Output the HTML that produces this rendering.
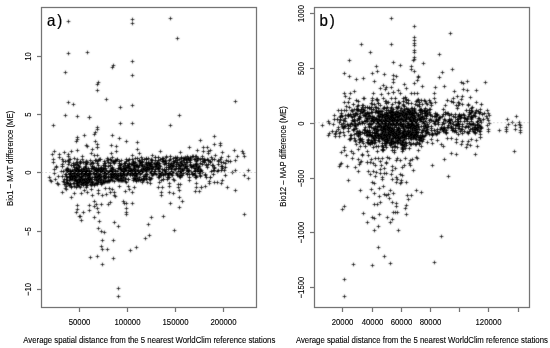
<!DOCTYPE html>
<html><head><meta charset="utf-8"><style>html,body{margin:0;padding:0;background:#fff;width:550px;height:348px;overflow:hidden}svg{display:block}</style></head>
<body><svg width="550" height="348" viewBox="0 0 550 348" font-family='"Liberation Sans", Arial, sans-serif' fill="#000"><rect x="41.5" y="7.5" width="215.0" height="300.0" fill="none" stroke="#747474" stroke-width="1.25"/>
<rect x="314.5" y="7.5" width="215.0" height="300.0" fill="none" stroke="#747474" stroke-width="1.25"/>
<line x1="37" y1="56.5" x2="41.5" y2="56.5" stroke="#747474" stroke-width="1.25"/>
<text transform="translate(31 56.5) rotate(-90) scale(1 1.15)" text-anchor="middle" font-size="7.8" stroke="#000" stroke-width="0.1">10</text>
<line x1="37" y1="114.5" x2="41.5" y2="114.5" stroke="#747474" stroke-width="1.25"/>
<text transform="translate(31 114.5) rotate(-90) scale(1 1.15)" text-anchor="middle" font-size="7.8" stroke="#000" stroke-width="0.1">5</text>
<line x1="37" y1="172.5" x2="41.5" y2="172.5" stroke="#747474" stroke-width="1.25"/>
<text transform="translate(31 172.5) rotate(-90) scale(1 1.15)" text-anchor="middle" font-size="7.8" stroke="#000" stroke-width="0.1">0</text>
<line x1="37" y1="231.5" x2="41.5" y2="231.5" stroke="#747474" stroke-width="1.25"/>
<text transform="translate(31 231.5) rotate(-90) scale(1 1.15)" text-anchor="middle" font-size="7.8" stroke="#000" stroke-width="0.1">−5</text>
<line x1="37" y1="289.5" x2="41.5" y2="289.5" stroke="#747474" stroke-width="1.25"/>
<text transform="translate(31 289.5) rotate(-90) scale(1 1.15)" text-anchor="middle" font-size="7.8" stroke="#000" stroke-width="0.1">−10</text>
<line x1="79.5" y1="307.5" x2="79.5" y2="312" stroke="#747474" stroke-width="1.25"/>
<text transform="translate(79.5 324.7) scale(1 1.15)" text-anchor="middle" font-size="7.8" stroke="#000" stroke-width="0.1">50000</text>
<line x1="127.5" y1="307.5" x2="127.5" y2="312" stroke="#747474" stroke-width="1.25"/>
<text transform="translate(127.5 324.7) scale(1 1.15)" text-anchor="middle" font-size="7.8" stroke="#000" stroke-width="0.1">100000</text>
<line x1="175.5" y1="307.5" x2="175.5" y2="312" stroke="#747474" stroke-width="1.25"/>
<text transform="translate(175.5 324.7) scale(1 1.15)" text-anchor="middle" font-size="7.8" stroke="#000" stroke-width="0.1">150000</text>
<line x1="223.5" y1="307.5" x2="223.5" y2="312" stroke="#747474" stroke-width="1.25"/>
<text transform="translate(223.5 324.7) scale(1 1.15)" text-anchor="middle" font-size="7.8" stroke="#000" stroke-width="0.1">200000</text>
<text transform="translate(149.3 343.2) scale(1 1.15)" text-anchor="middle" font-size="7.8" stroke="#000" stroke-width="0.1">Average spatial distance from the 5 nearest WorldClim reference stations</text>
<text transform="translate(12.9 158.3) rotate(-90) scale(1 1.15)" text-anchor="middle" font-size="7.8" stroke="#000" stroke-width="0.1">Bio1 – MAT difference (ME)</text>
<line x1="310" y1="13.5" x2="314.5" y2="13.5" stroke="#747474" stroke-width="1.25"/>
<text transform="translate(303.8 13.5) rotate(-90) scale(1 1.15)" text-anchor="middle" font-size="7.8" stroke="#000" stroke-width="0.1">1000</text>
<line x1="310" y1="68.5" x2="314.5" y2="68.5" stroke="#747474" stroke-width="1.25"/>
<text transform="translate(303.8 68.5) rotate(-90) scale(1 1.15)" text-anchor="middle" font-size="7.8" stroke="#000" stroke-width="0.1">500</text>
<line x1="310" y1="123.5" x2="314.5" y2="123.5" stroke="#747474" stroke-width="1.25"/>
<text transform="translate(303.8 123.5) rotate(-90) scale(1 1.15)" text-anchor="middle" font-size="7.8" stroke="#000" stroke-width="0.1">0</text>
<line x1="310" y1="178.5" x2="314.5" y2="178.5" stroke="#747474" stroke-width="1.25"/>
<text transform="translate(303.8 178.5) rotate(-90) scale(1 1.15)" text-anchor="middle" font-size="7.8" stroke="#000" stroke-width="0.1">−500</text>
<line x1="310" y1="232.5" x2="314.5" y2="232.5" stroke="#747474" stroke-width="1.25"/>
<text transform="translate(303.8 232.5) rotate(-90) scale(1 1.15)" text-anchor="middle" font-size="7.8" stroke="#000" stroke-width="0.1">−1000</text>
<line x1="310" y1="287.5" x2="314.5" y2="287.5" stroke="#747474" stroke-width="1.25"/>
<text transform="translate(303.8 287.5) rotate(-90) scale(1 1.15)" text-anchor="middle" font-size="7.8" stroke="#000" stroke-width="0.1">−1500</text>
<line x1="342.5" y1="307.5" x2="342.5" y2="312" stroke="#747474" stroke-width="1.25"/>
<text transform="translate(342.5 324.7) scale(1 1.15)" text-anchor="middle" font-size="7.8" stroke="#000" stroke-width="0.1">20000</text>
<line x1="372.5" y1="307.5" x2="372.5" y2="312" stroke="#747474" stroke-width="1.25"/>
<text transform="translate(372.5 324.7) scale(1 1.15)" text-anchor="middle" font-size="7.8" stroke="#000" stroke-width="0.1">40000</text>
<line x1="401.5" y1="307.5" x2="401.5" y2="312" stroke="#747474" stroke-width="1.25"/>
<text transform="translate(401.5 324.7) scale(1 1.15)" text-anchor="middle" font-size="7.8" stroke="#000" stroke-width="0.1">60000</text>
<line x1="430.5" y1="307.5" x2="430.5" y2="312" stroke="#747474" stroke-width="1.25"/>
<text transform="translate(430.5 324.7) scale(1 1.15)" text-anchor="middle" font-size="7.8" stroke="#000" stroke-width="0.1">80000</text>
<line x1="459.5" y1="307.5" x2="459.5" y2="312" stroke="#747474" stroke-width="1.25"/>
<line x1="488.5" y1="307.5" x2="488.5" y2="312" stroke="#747474" stroke-width="1.25"/>
<text transform="translate(488.5 324.7) scale(1 1.15)" text-anchor="middle" font-size="7.8" stroke="#000" stroke-width="0.1">120000</text>
<line x1="518.5" y1="307.5" x2="518.5" y2="312" stroke="#747474" stroke-width="1.25"/>
<text transform="translate(421.9 343.2) scale(1 1.15)" text-anchor="middle" font-size="7.8" stroke="#000" stroke-width="0.1">Average spatial distance from the 5 nearest WorldClim reference stations</text>
<text transform="translate(286.4 156.5) rotate(-90) scale(1 1.15)" text-anchor="middle" font-size="7.8" stroke="#000" stroke-width="0.1">Bio12 – MAP difference (ME)</text>
<text transform="translate(47.0 25.8) scale(1 1.12)" text-anchor="start" font-size="15.1" stroke="#000" stroke-width="0.2">a<tspan dx="1.8">)</tspan></text>
<text transform="translate(319.5 25.8) scale(1 1.12)" text-anchor="start" font-size="15.1" stroke="#000" stroke-width="0.2">b<tspan dx="1.8">)</tspan></text>
<defs><filter id="bl" x="-5%" y="-5%" width="110%" height="110%"><feConvolveMatrix order="3" kernelMatrix="0.25 0.5 0.25 0.5 4 0.5 0.25 0.5 0.25" edgeMode="none"/></filter></defs>
<g filter="url(#bl)">
<path d="M77.6 176.5h3.8M79.5 174.6v3.8M108.6 172.5h3.8M110.5 170.6v3.8M95.6 176.5h3.8M97.5 174.6v3.8M115.6 171.5h3.8M117.5 169.6v3.8M92.6 174.5h3.8M94.5 172.6v3.8M120.6 180.5h3.8M122.5 178.6v3.8M68.6 173.5h3.8M70.5 171.6v3.8M127.6 164.5h3.8M129.5 162.6v3.8M90.6 181.5h3.8M92.5 179.6v3.8M77.6 180.5h3.8M79.5 178.6v3.8M137.6 165.5h3.8M139.5 163.6v3.8M82.6 169.5h3.8M84.5 167.6v3.8M157.6 176.5h3.8M159.5 174.6v3.8M85.6 173.5h3.8M87.5 171.6v3.8M136.6 170.5h3.8M138.5 168.6v3.8M68.6 179.5h3.8M70.5 177.6v3.8M96.6 170.5h3.8M98.5 168.6v3.8M81.6 172.5h3.8M83.5 170.6v3.8M90.6 182.5h3.8M92.5 180.6v3.8M131.6 174.5h3.8M133.5 172.6v3.8M142.6 166.5h3.8M144.5 164.6v3.8M134.6 174.5h3.8M136.5 172.6v3.8M158.6 172.5h3.8M160.5 170.6v3.8M99.6 171.5h3.8M101.5 169.6v3.8M83.6 167.5h3.8M85.5 165.6v3.8M89.6 182.5h3.8M91.5 180.6v3.8M75.6 173.5h3.8M77.5 171.6v3.8M83.6 182.5h3.8M85.5 180.6v3.8M69.6 175.5h3.8M71.5 173.6v3.8M75.6 173.5h3.8M77.5 171.6v3.8M94.6 179.5h3.8M96.5 177.6v3.8M119.6 180.5h3.8M121.5 178.6v3.8M94.6 174.5h3.8M96.5 172.6v3.8M87.6 170.5h3.8M89.5 168.6v3.8M104.6 174.5h3.8M106.5 172.6v3.8M83.6 181.5h3.8M85.5 179.6v3.8M101.6 176.5h3.8M103.5 174.6v3.8M103.6 181.5h3.8M105.5 179.6v3.8M84.6 174.5h3.8M86.5 172.6v3.8M95.6 180.5h3.8M97.5 178.6v3.8M75.6 169.5h3.8M77.5 167.6v3.8M85.6 178.5h3.8M87.5 176.6v3.8M128.6 174.5h3.8M130.5 172.6v3.8M118.6 180.5h3.8M120.5 178.6v3.8M80.6 180.5h3.8M82.5 178.6v3.8M150.6 175.5h3.8M152.5 173.6v3.8M74.6 172.5h3.8M76.5 170.6v3.8M93.6 173.5h3.8M95.5 171.6v3.8M71.6 183.5h3.8M73.5 181.6v3.8M78.6 171.5h3.8M80.5 169.6v3.8M85.6 180.5h3.8M87.5 178.6v3.8M96.6 172.5h3.8M98.5 170.6v3.8M153.6 166.5h3.8M155.5 164.6v3.8M98.6 182.5h3.8M100.5 180.6v3.8M75.6 182.5h3.8M77.5 180.6v3.8M70.6 170.5h3.8M72.5 168.6v3.8M164.6 163.5h3.8M166.5 161.6v3.8M113.6 171.5h3.8M115.5 169.6v3.8M149.6 166.5h3.8M151.5 164.6v3.8M79.6 176.5h3.8M81.5 174.6v3.8M68.6 176.5h3.8M70.5 174.6v3.8M100.6 171.5h3.8M102.5 169.6v3.8M68.6 171.5h3.8M70.5 169.6v3.8M79.6 182.5h3.8M81.5 180.6v3.8M92.6 179.5h3.8M94.5 177.6v3.8M122.6 168.5h3.8M124.5 166.6v3.8M108.6 170.5h3.8M110.5 168.6v3.8M154.6 165.5h3.8M156.5 163.6v3.8M67.6 174.5h3.8M69.5 172.6v3.8M66.6 172.5h3.8M68.5 170.6v3.8M76.6 179.5h3.8M78.5 177.6v3.8M132.6 168.5h3.8M134.5 166.6v3.8M68.6 174.5h3.8M70.5 172.6v3.8M154.6 165.5h3.8M156.5 163.6v3.8M80.6 180.5h3.8M82.5 178.6v3.8M88.6 174.5h3.8M90.5 172.6v3.8M116.6 173.5h3.8M118.5 171.6v3.8M84.6 170.5h3.8M86.5 168.6v3.8M148.6 166.5h3.8M150.5 164.6v3.8M152.6 171.5h3.8M154.5 169.6v3.8M79.6 184.5h3.8M81.5 182.6v3.8M103.6 172.5h3.8M105.5 170.6v3.8M74.6 177.5h3.8M76.5 175.6v3.8M83.6 181.5h3.8M85.5 179.6v3.8M72.6 186.5h3.8M74.5 184.6v3.8M132.6 175.5h3.8M134.5 173.6v3.8M106.6 166.5h3.8M108.5 164.6v3.8M113.6 178.5h3.8M115.5 176.6v3.8M93.6 176.5h3.8M95.5 174.6v3.8M85.6 185.5h3.8M87.5 183.6v3.8M80.6 176.5h3.8M82.5 174.6v3.8M95.6 183.5h3.8M97.5 181.6v3.8M78.6 171.5h3.8M80.5 169.6v3.8M108.6 171.5h3.8M110.5 169.6v3.8M72.6 175.5h3.8M74.5 173.6v3.8M105.6 172.5h3.8M107.5 170.6v3.8M141.6 168.5h3.8M143.5 166.6v3.8M78.6 181.5h3.8M80.5 179.6v3.8M79.6 184.5h3.8M81.5 182.6v3.8M93.6 183.5h3.8M95.5 181.6v3.8M151.6 174.5h3.8M153.5 172.6v3.8M103.6 178.5h3.8M105.5 176.6v3.8M101.6 182.5h3.8M103.5 180.6v3.8M123.6 168.5h3.8M125.5 166.6v3.8M148.6 164.5h3.8M150.5 162.6v3.8M158.6 172.5h3.8M160.5 170.6v3.8M96.6 182.5h3.8M98.5 180.6v3.8M101.6 180.5h3.8M103.5 178.6v3.8M138.6 174.5h3.8M140.5 172.6v3.8M115.6 177.5h3.8M117.5 175.6v3.8M76.6 182.5h3.8M78.5 180.6v3.8M75.6 183.5h3.8M77.5 181.6v3.8M153.6 160.5h3.8M155.5 158.6v3.8M149.6 171.5h3.8M151.5 169.6v3.8M117.6 180.5h3.8M119.5 178.6v3.8M80.6 183.5h3.8M82.5 181.6v3.8M132.6 175.5h3.8M134.5 173.6v3.8M68.6 173.5h3.8M70.5 171.6v3.8M116.6 168.5h3.8M118.5 166.6v3.8M84.6 172.5h3.8M86.5 170.6v3.8M121.6 174.5h3.8M123.5 172.6v3.8M102.6 175.5h3.8M104.5 173.6v3.8M100.6 172.5h3.8M102.5 170.6v3.8M87.6 177.5h3.8M89.5 175.6v3.8M64.6 174.5h3.8M66.5 172.6v3.8M79.6 174.5h3.8M81.5 172.6v3.8M78.6 177.5h3.8M80.5 175.6v3.8M93.6 177.5h3.8M95.5 175.6v3.8M120.6 171.5h3.8M122.5 169.6v3.8M126.6 179.5h3.8M128.5 177.6v3.8M85.6 182.5h3.8M87.5 180.6v3.8M118.6 175.5h3.8M120.5 173.6v3.8M94.6 172.5h3.8M96.5 170.6v3.8M125.6 173.5h3.8M127.5 171.6v3.8M102.6 182.5h3.8M104.5 180.6v3.8M89.6 171.5h3.8M91.5 169.6v3.8M73.6 176.5h3.8M75.5 174.6v3.8M109.6 170.5h3.8M111.5 168.6v3.8M156.6 169.5h3.8M158.5 167.6v3.8M140.6 164.5h3.8M142.5 162.6v3.8M83.6 178.5h3.8M85.5 176.6v3.8M94.6 180.5h3.8M96.5 178.6v3.8M93.6 170.5h3.8M95.5 168.6v3.8M141.6 178.5h3.8M143.5 176.6v3.8M75.6 181.5h3.8M77.5 179.6v3.8M115.6 179.5h3.8M117.5 177.6v3.8M128.6 173.5h3.8M130.5 171.6v3.8M132.6 170.5h3.8M134.5 168.6v3.8M109.6 172.5h3.8M111.5 170.6v3.8M142.6 169.5h3.8M144.5 167.6v3.8M109.6 176.5h3.8M111.5 174.6v3.8M92.6 169.5h3.8M94.5 167.6v3.8M134.6 173.5h3.8M136.5 171.6v3.8M92.6 185.5h3.8M94.5 183.6v3.8M99.6 176.5h3.8M101.5 174.6v3.8M70.6 176.5h3.8M72.5 174.6v3.8M96.6 179.5h3.8M98.5 177.6v3.8M98.6 170.5h3.8M100.5 168.6v3.8M149.6 172.5h3.8M151.5 170.6v3.8M102.6 172.5h3.8M104.5 170.6v3.8M79.6 172.5h3.8M81.5 170.6v3.8M69.6 176.5h3.8M71.5 174.6v3.8M76.6 182.5h3.8M78.5 180.6v3.8M99.6 182.5h3.8M101.5 180.6v3.8M73.6 180.5h3.8M75.5 178.6v3.8M126.6 172.5h3.8M128.5 170.6v3.8M82.6 179.5h3.8M84.5 177.6v3.8M87.6 174.5h3.8M89.5 172.6v3.8M160.6 161.5h3.8M162.5 159.6v3.8M104.6 177.5h3.8M106.5 175.6v3.8M95.6 170.5h3.8M97.5 168.6v3.8M112.6 173.5h3.8M114.5 171.6v3.8M90.6 183.5h3.8M92.5 181.6v3.8M105.6 181.5h3.8M107.5 179.6v3.8M84.6 179.5h3.8M86.5 177.6v3.8M154.6 163.5h3.8M156.5 161.6v3.8M151.6 167.5h3.8M153.5 165.6v3.8M75.6 175.5h3.8M77.5 173.6v3.8M144.6 163.5h3.8M146.5 161.6v3.8M140.6 172.5h3.8M142.5 170.6v3.8M77.6 186.5h3.8M79.5 184.6v3.8M133.6 165.5h3.8M135.5 163.6v3.8M110.6 174.5h3.8M112.5 172.6v3.8M66.6 169.5h3.8M68.5 167.6v3.8M85.6 171.5h3.8M87.5 169.6v3.8M75.6 181.5h3.8M77.5 179.6v3.8M87.6 181.5h3.8M89.5 179.6v3.8M125.6 174.5h3.8M127.5 172.6v3.8M75.6 168.5h3.8M77.5 166.6v3.8M96.6 176.5h3.8M98.5 174.6v3.8M106.6 181.5h3.8M108.5 179.6v3.8M77.6 181.5h3.8M79.5 179.6v3.8M82.6 174.5h3.8M84.5 172.6v3.8M119.6 175.5h3.8M121.5 173.6v3.8M74.6 181.5h3.8M76.5 179.6v3.8M104.6 170.5h3.8M106.5 168.6v3.8M149.6 162.5h3.8M151.5 160.6v3.8M86.6 179.5h3.8M88.5 177.6v3.8M87.6 180.5h3.8M89.5 178.6v3.8M124.6 175.5h3.8M126.5 173.6v3.8M114.6 174.5h3.8M116.5 172.6v3.8M97.6 169.5h3.8M99.5 167.6v3.8M123.6 169.5h3.8M125.5 167.6v3.8M147.6 164.5h3.8M149.5 162.6v3.8M116.6 168.5h3.8M118.5 166.6v3.8M69.6 175.5h3.8M71.5 173.6v3.8M123.6 179.5h3.8M125.5 177.6v3.8M134.6 166.5h3.8M136.5 164.6v3.8M102.6 172.5h3.8M104.5 170.6v3.8M64.6 179.5h3.8M66.5 177.6v3.8M87.6 173.5h3.8M89.5 171.6v3.8M123.6 165.5h3.8M125.5 163.6v3.8M83.6 184.5h3.8M85.5 182.6v3.8M144.6 164.5h3.8M146.5 162.6v3.8M102.6 177.5h3.8M104.5 175.6v3.8M86.6 178.5h3.8M88.5 176.6v3.8M73.6 177.5h3.8M75.5 175.6v3.8M79.6 177.5h3.8M81.5 175.6v3.8M153.6 169.5h3.8M155.5 167.6v3.8M125.6 167.5h3.8M127.5 165.6v3.8M109.6 175.5h3.8M111.5 173.6v3.8M87.6 174.5h3.8M89.5 172.6v3.8M90.6 168.5h3.8M92.5 166.6v3.8M98.6 171.5h3.8M100.5 169.6v3.8M110.6 168.5h3.8M112.5 166.6v3.8M128.6 168.5h3.8M130.5 166.6v3.8M135.6 166.5h3.8M137.5 164.6v3.8M77.6 181.5h3.8M79.5 179.6v3.8M117.6 168.5h3.8M119.5 166.6v3.8M83.6 171.5h3.8M85.5 169.6v3.8M119.6 180.5h3.8M121.5 178.6v3.8M103.6 176.5h3.8M105.5 174.6v3.8M132.6 178.5h3.8M134.5 176.6v3.8M77.6 179.5h3.8M79.5 177.6v3.8M68.6 170.5h3.8M70.5 168.6v3.8M98.6 171.5h3.8M100.5 169.6v3.8M113.6 173.5h3.8M115.5 171.6v3.8M139.6 165.5h3.8M141.5 163.6v3.8M82.6 180.5h3.8M84.5 178.6v3.8M134.6 175.5h3.8M136.5 173.6v3.8M65.6 180.5h3.8M67.5 178.6v3.8M87.6 179.5h3.8M89.5 177.6v3.8M83.6 174.5h3.8M85.5 172.6v3.8M161.6 160.5h3.8M163.5 158.6v3.8M132.6 167.5h3.8M134.5 165.6v3.8M133.6 175.5h3.8M135.5 173.6v3.8M64.6 176.5h3.8M66.5 174.6v3.8M139.6 162.5h3.8M141.5 160.6v3.8M123.6 178.5h3.8M125.5 176.6v3.8M96.6 176.5h3.8M98.5 174.6v3.8M108.6 177.5h3.8M110.5 175.6v3.8M91.6 168.5h3.8M93.5 166.6v3.8M103.6 168.5h3.8M105.5 166.6v3.8M94.6 170.5h3.8M96.5 168.6v3.8M110.6 171.5h3.8M112.5 169.6v3.8M127.6 166.5h3.8M129.5 164.6v3.8M132.6 173.5h3.8M134.5 171.6v3.8M95.6 169.5h3.8M97.5 167.6v3.8M65.6 177.5h3.8M67.5 175.6v3.8M72.6 178.5h3.8M74.5 176.6v3.8M101.6 169.5h3.8M103.5 167.6v3.8M116.6 168.5h3.8M118.5 166.6v3.8M135.6 165.5h3.8M137.5 163.6v3.8M143.6 168.5h3.8M145.5 166.6v3.8M122.6 171.5h3.8M124.5 169.6v3.8M119.6 170.5h3.8M121.5 168.6v3.8M79.6 178.5h3.8M81.5 176.6v3.8M78.6 179.5h3.8M80.5 177.6v3.8M162.6 164.5h3.8M164.5 162.6v3.8M86.6 182.5h3.8M88.5 180.6v3.8M74.6 174.5h3.8M76.5 172.6v3.8M87.6 176.5h3.8M89.5 174.6v3.8M88.6 173.5h3.8M90.5 171.6v3.8M128.6 171.5h3.8M130.5 169.6v3.8M125.6 165.5h3.8M127.5 163.6v3.8M70.6 171.5h3.8M72.5 169.6v3.8M106.6 180.5h3.8M108.5 178.6v3.8M118.6 175.5h3.8M120.5 173.6v3.8M67.6 177.5h3.8M69.5 175.6v3.8M96.6 170.5h3.8M98.5 168.6v3.8M125.6 173.5h3.8M127.5 171.6v3.8M70.6 178.5h3.8M72.5 176.6v3.8M64.6 182.5h3.8M66.5 180.6v3.8M147.6 177.5h3.8M149.5 175.6v3.8M99.6 169.5h3.8M101.5 167.6v3.8M83.6 176.5h3.8M85.5 174.6v3.8M69.6 175.5h3.8M71.5 173.6v3.8M67.6 172.5h3.8M69.5 170.6v3.8M118.6 167.5h3.8M120.5 165.6v3.8M77.6 182.5h3.8M79.5 180.6v3.8M114.6 178.5h3.8M116.5 176.6v3.8M87.6 173.5h3.8M89.5 171.6v3.8M89.6 168.5h3.8M91.5 166.6v3.8M62.6 182.5h3.8M64.5 180.6v3.8M64.6 176.5h3.8M66.5 174.6v3.8M82.6 182.5h3.8M84.5 180.6v3.8M153.6 171.5h3.8M155.5 169.6v3.8M72.6 175.5h3.8M74.5 173.6v3.8M169.6 163.5h3.8M171.5 161.6v3.8M88.6 179.5h3.8M90.5 177.6v3.8M136.6 167.5h3.8M138.5 165.6v3.8M155.6 163.5h3.8M157.5 161.6v3.8M118.6 174.5h3.8M120.5 172.6v3.8M70.6 176.5h3.8M72.5 174.6v3.8M112.6 173.5h3.8M114.5 171.6v3.8M75.6 180.5h3.8M77.5 178.6v3.8M69.6 171.5h3.8M71.5 169.6v3.8M94.6 171.5h3.8M96.5 169.6v3.8M102.6 172.5h3.8M104.5 170.6v3.8M94.6 183.5h3.8M96.5 181.6v3.8M99.6 182.5h3.8M101.5 180.6v3.8M87.6 180.5h3.8M89.5 178.6v3.8M86.6 174.5h3.8M88.5 172.6v3.8M92.6 172.5h3.8M94.5 170.6v3.8M73.6 170.5h3.8M75.5 168.6v3.8M148.6 165.5h3.8M150.5 163.6v3.8M77.6 170.5h3.8M79.5 168.6v3.8M100.6 170.5h3.8M102.5 168.6v3.8M98.6 168.5h3.8M100.5 166.6v3.8M82.6 173.5h3.8M84.5 171.6v3.8M79.6 173.5h3.8M81.5 171.6v3.8M65.6 183.5h3.8M67.5 181.6v3.8M111.6 174.5h3.8M113.5 172.6v3.8M75.6 175.5h3.8M77.5 173.6v3.8M158.6 174.5h3.8M160.5 172.6v3.8M106.6 177.5h3.8M108.5 175.6v3.8M109.6 177.5h3.8M111.5 175.6v3.8M70.6 179.5h3.8M72.5 177.6v3.8M113.6 175.5h3.8M115.5 173.6v3.8M144.6 178.5h3.8M146.5 176.6v3.8M108.6 174.5h3.8M110.5 172.6v3.8M78.6 179.5h3.8M80.5 177.6v3.8M86.6 178.5h3.8M88.5 176.6v3.8M85.6 175.5h3.8M87.5 173.6v3.8M138.6 162.5h3.8M140.5 160.6v3.8M77.6 176.5h3.8M79.5 174.6v3.8M84.6 183.5h3.8M86.5 181.6v3.8M94.6 183.5h3.8M96.5 181.6v3.8M87.6 173.5h3.8M89.5 171.6v3.8M112.6 176.5h3.8M114.5 174.6v3.8M70.6 173.5h3.8M72.5 171.6v3.8M84.6 181.5h3.8M86.5 179.6v3.8M86.6 177.5h3.8M88.5 175.6v3.8M91.6 173.5h3.8M93.5 171.6v3.8M96.6 169.5h3.8M98.5 167.6v3.8M109.6 168.5h3.8M111.5 166.6v3.8M110.6 174.5h3.8M112.5 172.6v3.8M87.6 175.5h3.8M89.5 173.6v3.8M116.6 176.5h3.8M118.5 174.6v3.8M97.6 178.5h3.8M99.5 176.6v3.8M135.6 170.5h3.8M137.5 168.6v3.8M75.6 184.5h3.8M77.5 182.6v3.8M85.6 180.5h3.8M87.5 178.6v3.8M102.6 175.5h3.8M104.5 173.6v3.8M65.6 170.5h3.8M67.5 168.6v3.8M81.6 171.5h3.8M83.5 169.6v3.8M82.6 171.5h3.8M84.5 169.6v3.8M79.6 176.5h3.8M81.5 174.6v3.8M144.6 164.5h3.8M146.5 162.6v3.8M84.6 171.5h3.8M86.5 169.6v3.8M79.6 172.5h3.8M81.5 170.6v3.8M72.6 183.5h3.8M74.5 181.6v3.8M138.6 180.5h3.8M140.5 178.6v3.8M64.6 176.5h3.8M66.5 174.6v3.8M94.6 177.5h3.8M96.5 175.6v3.8M97.6 175.5h3.8M99.5 173.6v3.8M136.6 172.5h3.8M138.5 170.6v3.8M145.6 165.5h3.8M147.5 163.6v3.8M72.6 176.5h3.8M74.5 174.6v3.8M74.6 180.5h3.8M76.5 178.6v3.8M98.6 177.5h3.8M100.5 175.6v3.8M83.6 173.5h3.8M85.5 171.6v3.8M70.6 177.5h3.8M72.5 175.6v3.8M66.6 183.5h3.8M68.5 181.6v3.8M81.6 172.5h3.8M83.5 170.6v3.8M75.6 185.5h3.8M77.5 183.6v3.8M118.6 175.5h3.8M120.5 173.6v3.8M122.6 169.5h3.8M124.5 167.6v3.8M154.6 174.5h3.8M156.5 172.6v3.8M87.6 177.5h3.8M89.5 175.6v3.8M76.6 171.5h3.8M78.5 169.6v3.8M98.6 180.5h3.8M100.5 178.6v3.8M116.6 179.5h3.8M118.5 177.6v3.8M86.6 175.5h3.8M88.5 173.6v3.8M133.6 172.5h3.8M135.5 170.6v3.8M76.6 175.5h3.8M78.5 173.6v3.8M98.6 177.5h3.8M100.5 175.6v3.8M136.6 180.5h3.8M138.5 178.6v3.8M70.6 177.5h3.8M72.5 175.6v3.8M71.6 173.5h3.8M73.5 171.6v3.8M149.6 168.5h3.8M151.5 166.6v3.8M72.6 173.5h3.8M74.5 171.6v3.8M107.6 180.5h3.8M109.5 178.6v3.8M118.6 173.5h3.8M120.5 171.6v3.8M85.6 170.5h3.8M87.5 168.6v3.8M98.6 170.5h3.8M100.5 168.6v3.8M106.6 177.5h3.8M108.5 175.6v3.8M93.6 170.5h3.8M95.5 168.6v3.8M126.6 167.5h3.8M128.5 165.6v3.8M73.6 172.5h3.8M75.5 170.6v3.8M106.6 172.5h3.8M108.5 170.6v3.8M79.6 170.5h3.8M81.5 168.6v3.8M167.6 160.5h3.8M169.5 158.6v3.8M130.6 175.5h3.8M132.5 173.6v3.8M157.6 165.5h3.8M159.5 163.6v3.8M140.6 171.5h3.8M142.5 169.6v3.8M163.6 163.5h3.8M165.5 161.6v3.8M75.6 180.5h3.8M77.5 178.6v3.8M109.6 171.5h3.8M111.5 169.6v3.8M90.6 182.5h3.8M92.5 180.6v3.8M131.6 163.5h3.8M133.5 161.6v3.8M163.6 174.5h3.8M165.5 172.6v3.8M185.6 174.5h3.8M187.5 172.6v3.8M84.6 168.5h3.8M86.5 166.6v3.8M133.6 175.5h3.8M135.5 173.6v3.8M175.6 175.5h3.8M177.5 173.6v3.8M132.6 163.5h3.8M134.5 161.6v3.8M177.6 176.5h3.8M179.5 174.6v3.8M90.6 162.5h3.8M92.5 160.6v3.8M147.6 169.5h3.8M149.5 167.6v3.8M113.6 160.5h3.8M115.5 158.6v3.8M140.6 159.5h3.8M142.5 157.6v3.8M93.6 160.5h3.8M95.5 158.6v3.8M212.6 159.5h3.8M214.5 157.6v3.8M206.6 160.5h3.8M208.5 158.6v3.8M161.6 179.5h3.8M163.5 177.6v3.8M208.6 162.5h3.8M210.5 160.6v3.8M134.6 181.5h3.8M136.5 179.6v3.8M203.6 160.5h3.8M205.5 158.6v3.8M179.6 165.5h3.8M181.5 163.6v3.8M149.6 159.5h3.8M151.5 157.6v3.8M180.6 164.5h3.8M182.5 162.6v3.8M192.6 173.5h3.8M194.5 171.6v3.8M129.6 170.5h3.8M131.5 168.6v3.8M89.6 179.5h3.8M91.5 177.6v3.8M163.6 160.5h3.8M165.5 158.6v3.8M158.6 173.5h3.8M160.5 171.6v3.8M146.6 162.5h3.8M148.5 160.6v3.8M155.6 168.5h3.8M157.5 166.6v3.8M65.6 168.5h3.8M67.5 166.6v3.8M60.6 166.5h3.8M62.5 164.6v3.8M109.6 170.5h3.8M111.5 168.6v3.8M149.6 173.5h3.8M151.5 171.6v3.8M135.6 172.5h3.8M137.5 170.6v3.8M165.6 177.5h3.8M167.5 175.6v3.8M156.6 168.5h3.8M158.5 166.6v3.8M137.6 165.5h3.8M139.5 163.6v3.8M175.6 162.5h3.8M177.5 160.6v3.8M165.6 173.5h3.8M167.5 171.6v3.8M73.6 164.5h3.8M75.5 162.6v3.8M102.6 163.5h3.8M104.5 161.6v3.8M153.6 173.5h3.8M155.5 171.6v3.8M196.6 158.5h3.8M198.5 156.6v3.8M163.6 171.5h3.8M165.5 169.6v3.8M108.6 180.5h3.8M110.5 178.6v3.8M175.6 157.5h3.8M177.5 155.6v3.8M139.6 172.5h3.8M141.5 170.6v3.8M223.6 167.5h3.8M225.5 165.6v3.8M170.6 175.5h3.8M172.5 173.6v3.8M121.6 166.5h3.8M123.5 164.6v3.8M180.6 169.5h3.8M182.5 167.6v3.8M140.6 165.5h3.8M142.5 163.6v3.8M179.6 165.5h3.8M181.5 163.6v3.8M157.6 163.5h3.8M159.5 161.6v3.8M131.6 172.5h3.8M133.5 170.6v3.8M109.6 174.5h3.8M111.5 172.6v3.8M171.6 158.5h3.8M173.5 156.6v3.8M144.6 171.5h3.8M146.5 169.6v3.8M77.6 166.5h3.8M79.5 164.6v3.8M60.6 164.5h3.8M62.5 162.6v3.8M196.6 168.5h3.8M198.5 166.6v3.8M71.6 165.5h3.8M73.5 163.6v3.8M65.6 182.5h3.8M67.5 180.6v3.8M180.6 175.5h3.8M182.5 173.6v3.8M143.6 176.5h3.8M145.5 174.6v3.8M100.6 183.5h3.8M102.5 181.6v3.8M140.6 166.5h3.8M142.5 164.6v3.8M140.6 162.5h3.8M142.5 160.6v3.8M175.6 160.5h3.8M177.5 158.6v3.8M162.6 161.5h3.8M164.5 159.6v3.8M101.6 168.5h3.8M103.5 166.6v3.8M98.6 174.5h3.8M100.5 172.6v3.8M69.6 165.5h3.8M71.5 163.6v3.8M167.6 160.5h3.8M169.5 158.6v3.8M132.6 165.5h3.8M134.5 163.6v3.8M119.6 178.5h3.8M121.5 176.6v3.8M166.6 169.5h3.8M168.5 167.6v3.8M103.6 163.5h3.8M105.5 161.6v3.8M138.6 171.5h3.8M140.5 169.6v3.8M68.6 183.5h3.8M70.5 181.6v3.8M108.6 165.5h3.8M110.5 163.6v3.8M110.6 172.5h3.8M112.5 170.6v3.8M67.6 185.5h3.8M69.5 183.6v3.8M190.6 174.5h3.8M192.5 172.6v3.8M121.6 171.5h3.8M123.5 169.6v3.8M61.6 171.5h3.8M63.5 169.6v3.8M194.6 165.5h3.8M196.5 163.6v3.8M119.6 164.5h3.8M121.5 162.6v3.8M149.6 160.5h3.8M151.5 158.6v3.8M110.6 177.5h3.8M112.5 175.6v3.8M182.6 162.5h3.8M184.5 160.6v3.8M118.6 168.5h3.8M120.5 166.6v3.8M144.6 158.5h3.8M146.5 156.6v3.8M112.6 181.5h3.8M114.5 179.6v3.8M76.6 170.5h3.8M78.5 168.6v3.8M79.6 169.5h3.8M81.5 167.6v3.8M124.6 159.5h3.8M126.5 157.6v3.8M153.6 157.5h3.8M155.5 155.6v3.8M112.6 163.5h3.8M114.5 161.6v3.8M184.6 160.5h3.8M186.5 158.6v3.8M154.6 164.5h3.8M156.5 162.6v3.8M168.6 173.5h3.8M170.5 171.6v3.8M200.6 158.5h3.8M202.5 156.6v3.8M122.6 168.5h3.8M124.5 166.6v3.8M206.6 164.5h3.8M208.5 162.6v3.8M122.6 175.5h3.8M124.5 173.6v3.8M115.6 179.5h3.8M117.5 177.6v3.8M74.6 168.5h3.8M76.5 166.6v3.8M185.6 170.5h3.8M187.5 168.6v3.8M130.6 170.5h3.8M132.5 168.6v3.8M194.6 156.5h3.8M196.5 154.6v3.8M153.6 171.5h3.8M155.5 169.6v3.8M80.6 171.5h3.8M82.5 169.6v3.8M166.6 175.5h3.8M168.5 173.6v3.8M90.6 166.5h3.8M92.5 164.6v3.8M194.6 176.5h3.8M196.5 174.6v3.8M211.6 174.5h3.8M213.5 172.6v3.8M177.6 172.5h3.8M179.5 170.6v3.8M219.6 162.5h3.8M221.5 160.6v3.8M148.6 165.5h3.8M150.5 163.6v3.8M186.6 171.5h3.8M188.5 169.6v3.8M168.6 166.5h3.8M170.5 164.6v3.8M216.6 161.5h3.8M218.5 159.6v3.8M153.6 157.5h3.8M155.5 155.6v3.8M127.6 163.5h3.8M129.5 161.6v3.8M149.6 164.5h3.8M151.5 162.6v3.8M114.6 160.5h3.8M116.5 158.6v3.8M111.6 162.5h3.8M113.5 160.6v3.8M166.6 177.5h3.8M168.5 175.6v3.8M178.6 168.5h3.8M180.5 166.6v3.8M76.6 165.5h3.8M78.5 163.6v3.8M156.6 164.5h3.8M158.5 162.6v3.8M92.6 177.5h3.8M94.5 175.6v3.8M115.6 159.5h3.8M117.5 157.6v3.8M134.6 165.5h3.8M136.5 163.6v3.8M103.6 168.5h3.8M105.5 166.6v3.8M141.6 168.5h3.8M143.5 166.6v3.8M84.6 161.5h3.8M86.5 159.6v3.8M171.6 161.5h3.8M173.5 159.6v3.8M74.6 183.5h3.8M76.5 181.6v3.8M123.6 170.5h3.8M125.5 168.6v3.8M176.6 171.5h3.8M178.5 169.6v3.8M205.6 159.5h3.8M207.5 157.6v3.8M87.6 171.5h3.8M89.5 169.6v3.8M135.6 158.5h3.8M137.5 156.6v3.8M66.6 160.5h3.8M68.5 158.6v3.8M170.6 165.5h3.8M172.5 163.6v3.8M129.6 164.5h3.8M131.5 162.6v3.8M64.6 182.5h3.8M66.5 180.6v3.8M132.6 166.5h3.8M134.5 164.6v3.8M181.6 170.5h3.8M183.5 168.6v3.8M148.6 172.5h3.8M150.5 170.6v3.8M174.6 166.5h3.8M176.5 164.6v3.8M118.6 165.5h3.8M120.5 163.6v3.8M173.6 160.5h3.8M175.5 158.6v3.8M140.6 161.5h3.8M142.5 159.6v3.8M212.6 168.5h3.8M214.5 166.6v3.8M219.6 166.5h3.8M221.5 164.6v3.8M74.6 183.5h3.8M76.5 181.6v3.8M74.6 171.5h3.8M76.5 169.6v3.8M134.6 176.5h3.8M136.5 174.6v3.8M137.6 177.5h3.8M139.5 175.6v3.8M133.6 169.5h3.8M135.5 167.6v3.8M131.6 178.5h3.8M133.5 176.6v3.8M202.6 160.5h3.8M204.5 158.6v3.8M177.6 168.5h3.8M179.5 166.6v3.8M161.6 174.5h3.8M163.5 172.6v3.8M112.6 174.5h3.8M114.5 172.6v3.8M169.6 172.5h3.8M171.5 170.6v3.8M179.6 158.5h3.8M181.5 156.6v3.8M93.6 169.5h3.8M95.5 167.6v3.8M96.6 165.5h3.8M98.5 163.6v3.8M95.6 163.5h3.8M97.5 161.6v3.8M122.6 174.5h3.8M124.5 172.6v3.8M140.6 171.5h3.8M142.5 169.6v3.8M189.6 166.5h3.8M191.5 164.6v3.8M174.6 164.5h3.8M176.5 162.6v3.8M162.6 172.5h3.8M164.5 170.6v3.8M90.6 184.5h3.8M92.5 182.6v3.8M136.6 166.5h3.8M138.5 164.6v3.8M166.6 165.5h3.8M168.5 163.6v3.8M111.6 161.5h3.8M113.5 159.6v3.8M144.6 162.5h3.8M146.5 160.6v3.8M164.6 163.5h3.8M166.5 161.6v3.8M127.6 168.5h3.8M129.5 166.6v3.8M127.6 171.5h3.8M129.5 169.6v3.8M161.6 161.5h3.8M163.5 159.6v3.8M170.6 166.5h3.8M172.5 164.6v3.8M121.6 172.5h3.8M123.5 170.6v3.8M147.6 179.5h3.8M149.5 177.6v3.8M113.6 170.5h3.8M115.5 168.6v3.8M88.6 184.5h3.8M90.5 182.6v3.8M117.6 161.5h3.8M119.5 159.6v3.8M86.6 168.5h3.8M88.5 166.6v3.8M83.6 166.5h3.8M85.5 164.6v3.8M150.6 166.5h3.8M152.5 164.6v3.8M112.6 161.5h3.8M114.5 159.6v3.8M103.6 166.5h3.8M105.5 164.6v3.8M133.6 171.5h3.8M135.5 169.6v3.8M75.6 162.5h3.8M77.5 160.6v3.8M84.6 163.5h3.8M86.5 161.6v3.8M101.6 176.5h3.8M103.5 174.6v3.8M203.6 174.5h3.8M205.5 172.6v3.8M76.6 185.5h3.8M78.5 183.6v3.8M153.6 169.5h3.8M155.5 167.6v3.8M75.6 164.5h3.8M77.5 162.6v3.8M60.6 176.5h3.8M62.5 174.6v3.8M170.6 166.5h3.8M172.5 164.6v3.8M98.6 182.5h3.8M100.5 180.6v3.8M101.6 181.5h3.8M103.5 179.6v3.8M131.6 165.5h3.8M133.5 163.6v3.8M113.6 160.5h3.8M115.5 158.6v3.8M137.6 179.5h3.8M139.5 177.6v3.8M180.6 170.5h3.8M182.5 168.6v3.8M179.6 161.5h3.8M181.5 159.6v3.8M161.6 175.5h3.8M163.5 173.6v3.8M178.6 162.5h3.8M180.5 160.6v3.8M92.6 167.5h3.8M94.5 165.6v3.8M169.6 171.5h3.8M171.5 169.6v3.8M199.6 170.5h3.8M201.5 168.6v3.8M174.6 162.5h3.8M176.5 160.6v3.8M165.6 173.5h3.8M167.5 171.6v3.8M77.6 167.5h3.8M79.5 165.6v3.8M119.6 176.5h3.8M121.5 174.6v3.8M110.6 172.5h3.8M112.5 170.6v3.8M73.6 179.5h3.8M75.5 177.6v3.8M152.6 163.5h3.8M154.5 161.6v3.8M97.6 159.5h3.8M99.5 157.6v3.8M169.6 174.5h3.8M171.5 172.6v3.8M130.6 173.5h3.8M132.5 171.6v3.8M137.6 160.5h3.8M139.5 158.6v3.8M94.6 168.5h3.8M96.5 166.6v3.8M161.6 158.5h3.8M163.5 156.6v3.8M122.6 171.5h3.8M124.5 169.6v3.8M149.6 178.5h3.8M151.5 176.6v3.8M198.6 175.5h3.8M200.5 173.6v3.8M79.6 173.5h3.8M81.5 171.6v3.8M137.6 179.5h3.8M139.5 177.6v3.8M81.6 168.5h3.8M83.5 166.6v3.8M144.6 167.5h3.8M146.5 165.6v3.8M181.6 158.5h3.8M183.5 156.6v3.8M150.6 168.5h3.8M152.5 166.6v3.8M188.6 162.5h3.8M190.5 160.6v3.8M115.6 159.5h3.8M117.5 157.6v3.8M198.6 170.5h3.8M200.5 168.6v3.8M157.6 163.5h3.8M159.5 161.6v3.8M121.6 173.5h3.8M123.5 171.6v3.8M223.6 175.5h3.8M225.5 173.6v3.8M138.6 172.5h3.8M140.5 170.6v3.8M78.6 163.5h3.8M80.5 161.6v3.8M106.6 159.5h3.8M108.5 157.6v3.8M84.6 164.5h3.8M86.5 162.6v3.8M168.6 156.5h3.8M170.5 154.6v3.8M145.6 165.5h3.8M147.5 163.6v3.8M139.6 179.5h3.8M141.5 177.6v3.8M147.6 165.5h3.8M149.5 163.6v3.8M184.6 162.5h3.8M186.5 160.6v3.8M121.6 168.5h3.8M123.5 166.6v3.8M109.6 160.5h3.8M111.5 158.6v3.8M166.6 174.5h3.8M168.5 172.6v3.8M155.6 164.5h3.8M157.5 162.6v3.8M144.6 176.5h3.8M146.5 174.6v3.8M99.6 167.5h3.8M101.5 165.6v3.8M186.6 158.5h3.8M188.5 156.6v3.8M174.6 158.5h3.8M176.5 156.6v3.8M202.6 159.5h3.8M204.5 157.6v3.8M149.6 172.5h3.8M151.5 170.6v3.8M126.6 165.5h3.8M128.5 163.6v3.8M105.6 160.5h3.8M107.5 158.6v3.8M195.6 160.5h3.8M197.5 158.6v3.8M77.6 171.5h3.8M79.5 169.6v3.8M157.6 171.5h3.8M159.5 169.6v3.8M171.6 165.5h3.8M173.5 163.6v3.8M130.6 164.5h3.8M132.5 162.6v3.8M177.6 159.5h3.8M179.5 157.6v3.8M121.6 177.5h3.8M123.5 175.6v3.8M220.6 168.5h3.8M222.5 166.6v3.8M105.6 181.5h3.8M107.5 179.6v3.8M84.6 187.5h3.8M86.5 185.6v3.8M190.6 156.5h3.8M192.5 154.6v3.8M197.6 173.5h3.8M199.5 171.6v3.8M194.6 161.5h3.8M196.5 159.6v3.8M137.6 160.5h3.8M139.5 158.6v3.8M97.6 169.5h3.8M99.5 167.6v3.8M137.6 161.5h3.8M139.5 159.6v3.8M86.6 173.5h3.8M88.5 171.6v3.8M124.6 182.5h3.8M126.5 180.6v3.8M131.6 165.5h3.8M133.5 163.6v3.8M135.6 165.5h3.8M137.5 163.6v3.8M106.6 176.5h3.8M108.5 174.6v3.8M107.6 171.5h3.8M109.5 169.6v3.8M142.6 159.5h3.8M144.5 157.6v3.8M98.6 159.5h3.8M100.5 157.6v3.8M113.6 161.5h3.8M115.5 159.6v3.8M155.6 162.5h3.8M157.5 160.6v3.8M133.6 179.5h3.8M135.5 177.6v3.8M162.6 170.5h3.8M164.5 168.6v3.8M230.6 172.5h3.8M232.5 170.6v3.8M110.6 180.5h3.8M112.5 178.6v3.8M188.6 159.5h3.8M190.5 157.6v3.8M157.6 175.5h3.8M159.5 173.6v3.8M96.6 160.5h3.8M98.5 158.6v3.8M168.6 164.5h3.8M170.5 162.6v3.8M120.6 175.5h3.8M122.5 173.6v3.8M184.6 168.5h3.8M186.5 166.6v3.8M157.6 177.5h3.8M159.5 175.6v3.8M96.6 181.5h3.8M98.5 179.6v3.8M180.6 169.5h3.8M182.5 167.6v3.8M196.6 171.5h3.8M198.5 169.6v3.8M160.6 159.5h3.8M162.5 157.6v3.8M186.6 171.5h3.8M188.5 169.6v3.8M88.6 178.5h3.8M90.5 176.6v3.8M116.6 175.5h3.8M118.5 173.6v3.8M118.6 178.5h3.8M120.5 176.6v3.8M129.6 169.5h3.8M131.5 167.6v3.8M169.6 169.5h3.8M171.5 167.6v3.8M147.6 163.5h3.8M149.5 161.6v3.8M193.6 171.5h3.8M195.5 169.6v3.8M188.6 165.5h3.8M190.5 163.6v3.8M146.6 169.5h3.8M148.5 167.6v3.8M66.6 171.5h3.8M68.5 169.6v3.8M185.6 174.5h3.8M187.5 172.6v3.8M128.6 170.5h3.8M130.5 168.6v3.8M126.6 160.5h3.8M128.5 158.6v3.8M102.6 161.5h3.8M104.5 159.6v3.8M61.6 181.5h3.8M63.5 179.6v3.8M145.6 165.5h3.8M147.5 163.6v3.8M133.6 173.5h3.8M135.5 171.6v3.8M137.6 160.5h3.8M139.5 158.6v3.8M200.6 164.5h3.8M202.5 162.6v3.8M160.6 158.5h3.8M162.5 156.6v3.8M149.6 162.5h3.8M151.5 160.6v3.8M174.6 168.5h3.8M176.5 166.6v3.8M83.6 172.5h3.8M85.5 170.6v3.8M156.6 160.5h3.8M158.5 158.6v3.8M210.6 165.5h3.8M212.5 163.6v3.8M114.6 178.5h3.8M116.5 176.6v3.8M218.6 159.5h3.8M220.5 157.6v3.8M185.6 162.5h3.8M187.5 160.6v3.8M164.6 169.5h3.8M166.5 167.6v3.8M193.6 175.5h3.8M195.5 173.6v3.8M172.6 162.5h3.8M174.5 160.6v3.8M162.6 170.5h3.8M164.5 168.6v3.8M194.6 164.5h3.8M196.5 162.6v3.8M187.6 174.5h3.8M189.5 172.6v3.8M97.6 176.5h3.8M99.5 174.6v3.8M78.6 162.5h3.8M80.5 160.6v3.8M89.6 163.5h3.8M91.5 161.6v3.8M160.6 172.5h3.8M162.5 170.6v3.8M171.6 179.5h3.8M173.5 177.6v3.8M85.6 180.5h3.8M87.5 178.6v3.8M146.6 167.5h3.8M148.5 165.6v3.8M90.6 166.5h3.8M92.5 164.6v3.8M185.6 168.5h3.8M187.5 166.6v3.8M141.6 176.5h3.8M143.5 174.6v3.8M132.6 179.5h3.8M134.5 177.6v3.8M192.6 171.5h3.8M194.5 169.6v3.8M198.6 169.5h3.8M200.5 167.6v3.8M124.6 167.5h3.8M126.5 165.6v3.8M74.6 187.5h3.8M76.5 185.6v3.8M111.6 169.5h3.8M113.5 167.6v3.8M111.6 175.5h3.8M113.5 173.6v3.8M182.6 168.5h3.8M184.5 166.6v3.8M71.6 165.5h3.8M73.5 163.6v3.8M122.6 163.5h3.8M124.5 161.6v3.8M69.6 186.5h3.8M71.5 184.6v3.8M135.6 178.5h3.8M137.5 176.6v3.8M144.6 171.5h3.8M146.5 169.6v3.8M77.6 179.5h3.8M79.5 177.6v3.8M186.6 159.5h3.8M188.5 157.6v3.8M103.6 165.5h3.8M105.5 163.6v3.8M101.6 172.5h3.8M103.5 170.6v3.8M123.6 181.5h3.8M125.5 179.6v3.8M149.6 173.5h3.8M151.5 171.6v3.8M208.6 177.5h3.8M210.5 175.6v3.8M63.6 174.5h3.8M65.5 172.6v3.8M196.6 171.5h3.8M198.5 169.6v3.8M133.6 162.5h3.8M135.5 160.6v3.8M69.6 187.5h3.8M71.5 185.6v3.8M134.6 180.5h3.8M136.5 178.6v3.8M102.6 173.5h3.8M104.5 171.6v3.8M157.6 173.5h3.8M159.5 171.6v3.8M71.6 163.5h3.8M73.5 161.6v3.8M166.6 167.5h3.8M168.5 165.6v3.8M101.6 165.5h3.8M103.5 163.6v3.8M81.6 182.5h3.8M83.5 180.6v3.8M179.6 163.5h3.8M181.5 161.6v3.8M148.6 179.5h3.8M150.5 177.6v3.8M96.6 175.5h3.8M98.5 173.6v3.8M167.6 167.5h3.8M169.5 165.6v3.8M134.6 174.5h3.8M136.5 172.6v3.8M183.6 166.5h3.8M185.5 164.6v3.8M152.6 173.5h3.8M154.5 171.6v3.8M185.6 166.5h3.8M187.5 164.6v3.8M110.6 167.5h3.8M112.5 165.6v3.8M142.6 176.5h3.8M144.5 174.6v3.8M74.6 180.5h3.8M76.5 178.6v3.8M108.6 163.5h3.8M110.5 161.6v3.8M183.6 167.5h3.8M185.5 165.6v3.8M126.6 179.5h3.8M128.5 177.6v3.8M173.6 169.5h3.8M175.5 167.6v3.8M196.6 167.5h3.8M198.5 165.6v3.8M148.6 163.5h3.8M150.5 161.6v3.8M121.6 180.5h3.8M123.5 178.6v3.8M183.6 164.5h3.8M185.5 162.6v3.8M177.6 165.5h3.8M179.5 163.6v3.8M176.6 168.5h3.8M178.5 166.6v3.8M144.6 159.5h3.8M146.5 157.6v3.8M190.6 166.5h3.8M192.5 164.6v3.8M137.6 172.5h3.8M139.5 170.6v3.8M131.6 180.5h3.8M133.5 178.6v3.8M143.6 174.5h3.8M145.5 172.6v3.8M63.6 161.5h3.8M65.5 159.6v3.8M76.6 169.5h3.8M78.5 167.6v3.8M141.6 169.5h3.8M143.5 167.6v3.8M93.6 170.5h3.8M95.5 168.6v3.8M76.6 182.5h3.8M78.5 180.6v3.8M81.6 179.5h3.8M83.5 177.6v3.8M148.6 179.5h3.8M150.5 177.6v3.8M216.6 164.5h3.8M218.5 162.6v3.8M77.6 174.5h3.8M79.5 172.6v3.8M144.6 159.5h3.8M146.5 157.6v3.8M210.6 159.5h3.8M212.5 157.6v3.8M164.6 157.5h3.8M166.5 155.6v3.8M117.6 163.5h3.8M119.5 161.6v3.8M197.6 166.5h3.8M199.5 164.6v3.8M130.6 159.5h3.8M132.5 157.6v3.8M93.6 160.5h3.8M95.5 158.6v3.8M111.6 177.5h3.8M113.5 175.6v3.8M186.6 158.5h3.8M188.5 156.6v3.8M103.6 181.5h3.8M105.5 179.6v3.8M145.6 168.5h3.8M147.5 166.6v3.8M206.6 160.5h3.8M208.5 158.6v3.8M188.6 160.5h3.8M190.5 158.6v3.8M219.6 170.5h3.8M221.5 168.6v3.8M185.6 158.5h3.8M187.5 156.6v3.8M198.6 171.5h3.8M200.5 169.6v3.8M95.6 177.5h3.8M97.5 175.6v3.8M194.6 164.5h3.8M196.5 162.6v3.8M178.6 177.5h3.8M180.5 175.6v3.8M212.6 167.5h3.8M214.5 165.6v3.8M220.6 166.5h3.8M222.5 164.6v3.8M108.6 174.5h3.8M110.5 172.6v3.8M135.6 173.5h3.8M137.5 171.6v3.8M156.6 167.5h3.8M158.5 165.6v3.8M194.6 164.5h3.8M196.5 162.6v3.8M144.6 179.5h3.8M146.5 177.6v3.8M74.6 167.5h3.8M76.5 165.6v3.8M209.6 171.5h3.8M211.5 169.6v3.8M171.6 163.5h3.8M173.5 161.6v3.8M120.6 180.5h3.8M122.5 178.6v3.8M193.6 177.5h3.8M195.5 175.6v3.8M222.6 170.5h3.8M224.5 168.6v3.8M72.6 167.5h3.8M74.5 165.6v3.8M96.6 168.5h3.8M98.5 166.6v3.8M211.6 170.5h3.8M213.5 168.6v3.8M164.6 167.5h3.8M166.5 165.6v3.8M184.6 172.5h3.8M186.5 170.6v3.8M161.6 161.5h3.8M163.5 159.6v3.8M154.6 166.5h3.8M156.5 164.6v3.8M193.6 170.5h3.8M195.5 168.6v3.8M177.6 176.5h3.8M179.5 174.6v3.8M175.6 174.5h3.8M177.5 172.6v3.8M118.6 169.5h3.8M120.5 167.6v3.8M194.6 163.5h3.8M196.5 161.6v3.8M191.6 174.5h3.8M193.5 172.6v3.8M194.6 166.5h3.8M196.5 164.6v3.8M189.6 167.5h3.8M191.5 165.6v3.8M111.6 175.5h3.8M113.5 173.6v3.8M154.6 166.5h3.8M156.5 164.6v3.8M194.6 177.5h3.8M196.5 175.6v3.8M108.6 165.5h3.8M110.5 163.6v3.8M191.6 156.5h3.8M193.5 154.6v3.8M95.6 161.5h3.8M97.5 159.6v3.8M160.6 169.5h3.8M162.5 167.6v3.8M159.6 175.5h3.8M161.5 173.6v3.8M143.6 170.5h3.8M145.5 168.6v3.8M104.6 181.5h3.8M106.5 179.6v3.8M109.6 179.5h3.8M111.5 177.6v3.8M193.6 175.5h3.8M195.5 173.6v3.8M126.6 166.5h3.8M128.5 164.6v3.8M144.6 170.5h3.8M146.5 168.6v3.8M89.6 185.5h3.8M91.5 183.6v3.8M198.6 171.5h3.8M200.5 169.6v3.8M119.6 169.5h3.8M121.5 167.6v3.8M87.6 173.5h3.8M89.5 171.6v3.8M166.6 173.5h3.8M168.5 171.6v3.8M131.6 169.5h3.8M133.5 167.6v3.8M72.6 180.5h3.8M74.5 178.6v3.8M210.6 165.5h3.8M212.5 163.6v3.8M123.6 163.5h3.8M125.5 161.6v3.8M128.6 175.5h3.8M130.5 173.6v3.8M172.6 162.5h3.8M174.5 160.6v3.8M198.6 176.5h3.8M200.5 174.6v3.8M99.6 184.5h3.8M101.5 182.6v3.8M181.6 160.5h3.8M183.5 158.6v3.8M144.6 174.5h3.8M146.5 172.6v3.8M142.6 179.5h3.8M144.5 177.6v3.8M85.6 175.5h3.8M87.5 173.6v3.8M62.6 179.5h3.8M64.5 177.6v3.8M102.6 178.5h3.8M104.5 176.6v3.8M166.6 163.5h3.8M168.5 161.6v3.8M179.6 157.5h3.8M181.5 155.6v3.8M180.6 164.5h3.8M182.5 162.6v3.8M192.6 168.5h3.8M194.5 166.6v3.8M165.6 179.5h3.8M167.5 177.6v3.8M84.6 182.5h3.8M86.5 180.6v3.8M116.6 180.5h3.8M118.5 178.6v3.8M71.6 176.5h3.8M73.5 174.6v3.8M143.6 168.5h3.8M145.5 166.6v3.8M149.6 164.5h3.8M151.5 162.6v3.8M187.6 177.5h3.8M189.5 175.6v3.8M189.6 172.5h3.8M191.5 170.6v3.8M216.6 170.5h3.8M218.5 168.6v3.8M119.6 172.5h3.8M121.5 170.6v3.8M158.6 166.5h3.8M160.5 164.6v3.8M80.6 183.5h3.8M82.5 181.6v3.8M150.6 160.5h3.8M152.5 158.6v3.8M110.6 176.5h3.8M112.5 174.6v3.8M130.6 172.5h3.8M132.5 170.6v3.8M124.6 170.5h3.8M126.5 168.6v3.8M158.6 159.5h3.8M160.5 157.6v3.8M187.6 170.5h3.8M189.5 168.6v3.8M134.6 165.5h3.8M136.5 163.6v3.8M194.6 164.5h3.8M196.5 162.6v3.8M178.6 175.5h3.8M180.5 173.6v3.8M215.6 171.5h3.8M217.5 169.6v3.8M212.6 170.5h3.8M214.5 168.6v3.8M91.6 163.5h3.8M93.5 161.6v3.8M133.6 178.5h3.8M135.5 176.6v3.8M68.6 184.5h3.8M70.5 182.6v3.8M141.6 180.5h3.8M143.5 178.6v3.8M80.6 179.5h3.8M82.5 177.6v3.8M124.6 161.5h3.8M126.5 159.6v3.8M83.6 162.5h3.8M85.5 160.6v3.8M121.6 173.5h3.8M123.5 171.6v3.8M156.6 157.5h3.8M158.5 155.6v3.8M208.6 177.5h3.8M210.5 175.6v3.8M205.6 167.5h3.8M207.5 165.6v3.8M170.6 172.5h3.8M172.5 170.6v3.8M178.6 172.5h3.8M180.5 170.6v3.8M163.6 174.5h3.8M165.5 172.6v3.8M144.6 169.5h3.8M146.5 167.6v3.8M146.6 163.5h3.8M148.5 161.6v3.8M169.6 165.5h3.8M171.5 163.6v3.8M173.6 169.5h3.8M175.5 167.6v3.8M144.6 169.5h3.8M146.5 167.6v3.8M167.6 173.5h3.8M169.5 171.6v3.8M173.6 157.5h3.8M175.5 155.6v3.8M193.6 164.5h3.8M195.5 162.6v3.8M202.6 162.5h3.8M204.5 160.6v3.8M99.6 179.5h3.8M101.5 177.6v3.8M64.6 186.5h3.8M66.5 184.6v3.8M186.6 170.5h3.8M188.5 168.6v3.8M184.6 159.5h3.8M186.5 157.6v3.8M81.6 183.5h3.8M83.5 181.6v3.8M150.6 169.5h3.8M152.5 167.6v3.8M119.6 169.5h3.8M121.5 167.6v3.8M163.6 172.5h3.8M165.5 170.6v3.8M188.6 164.5h3.8M190.5 162.6v3.8M192.6 159.5h3.8M194.5 157.6v3.8M162.6 169.5h3.8M164.5 167.6v3.8M86.6 172.5h3.8M88.5 170.6v3.8M176.6 164.5h3.8M178.5 162.6v3.8M187.6 160.5h3.8M189.5 158.6v3.8M131.6 162.5h3.8M133.5 160.6v3.8M183.6 157.5h3.8M185.5 155.6v3.8M139.6 172.5h3.8M141.5 170.6v3.8M203.6 175.5h3.8M205.5 173.6v3.8M83.6 173.5h3.8M85.5 171.6v3.8M191.6 166.5h3.8M193.5 164.6v3.8M148.6 164.5h3.8M150.5 162.6v3.8M161.6 179.5h3.8M163.5 177.6v3.8M204.6 165.5h3.8M206.5 163.6v3.8M145.6 174.5h3.8M147.5 172.6v3.8M139.6 170.5h3.8M141.5 168.6v3.8M78.6 161.5h3.8M80.5 159.6v3.8M171.6 172.5h3.8M173.5 170.6v3.8M173.6 160.5h3.8M175.5 158.6v3.8M182.6 159.5h3.8M184.5 157.6v3.8M81.6 185.5h3.8M83.5 183.6v3.8M85.6 183.5h3.8M87.5 181.6v3.8M138.6 163.5h3.8M140.5 161.6v3.8M121.6 172.5h3.8M123.5 170.6v3.8M97.6 174.5h3.8M99.5 172.6v3.8M178.6 166.5h3.8M180.5 164.6v3.8M142.6 179.5h3.8M144.5 177.6v3.8M81.6 169.5h3.8M83.5 167.6v3.8M114.6 176.5h3.8M116.5 174.6v3.8M123.6 163.5h3.8M125.5 161.6v3.8M64.6 170.5h3.8M66.5 168.6v3.8M99.6 168.5h3.8M101.5 166.6v3.8M169.6 168.5h3.8M171.5 166.6v3.8M184.6 166.5h3.8M186.5 164.6v3.8M147.6 168.5h3.8M149.5 166.6v3.8M115.6 175.5h3.8M117.5 173.6v3.8M81.6 162.5h3.8M83.5 160.6v3.8M74.6 170.5h3.8M76.5 168.6v3.8M81.6 175.5h3.8M83.5 173.6v3.8M174.6 173.5h3.8M176.5 171.6v3.8M107.6 181.5h3.8M109.5 179.6v3.8M84.6 185.5h3.8M86.5 183.6v3.8M228.6 161.5h3.8M230.5 159.6v3.8M181.6 173.5h3.8M183.5 171.6v3.8M64.6 169.5h3.8M66.5 167.6v3.8M156.6 177.5h3.8M158.5 175.6v3.8M94.6 173.5h3.8M96.5 171.6v3.8M122.6 163.5h3.8M124.5 161.6v3.8M69.6 179.5h3.8M71.5 177.6v3.8M72.6 169.5h3.8M74.5 167.6v3.8M195.6 171.5h3.8M197.5 169.6v3.8M136.6 167.5h3.8M138.5 165.6v3.8M172.6 169.5h3.8M174.5 167.6v3.8M179.6 172.5h3.8M181.5 170.6v3.8M108.6 159.5h3.8M110.5 157.6v3.8M92.6 184.5h3.8M94.5 182.6v3.8M127.6 159.5h3.8M129.5 157.6v3.8M67.6 180.5h3.8M69.5 178.6v3.8M144.6 159.5h3.8M146.5 157.6v3.8M102.6 168.5h3.8M104.5 166.6v3.8M174.6 166.5h3.8M176.5 164.6v3.8M192.6 171.5h3.8M194.5 169.6v3.8M117.6 165.5h3.8M119.5 163.6v3.8M171.6 166.5h3.8M173.5 164.6v3.8M68.6 178.5h3.8M70.5 176.6v3.8M78.6 181.5h3.8M80.5 179.6v3.8M138.6 172.5h3.8M140.5 170.6v3.8M144.6 159.5h3.8M146.5 157.6v3.8M68.6 177.5h3.8M70.5 175.6v3.8M193.6 159.5h3.8M195.5 157.6v3.8M198.6 159.5h3.8M200.5 157.6v3.8M208.6 161.5h3.8M210.5 159.6v3.8M188.6 157.5h3.8M190.5 155.6v3.8M176.6 168.5h3.8M178.5 166.6v3.8M85.6 162.5h3.8M87.5 160.6v3.8M157.6 168.5h3.8M159.5 166.6v3.8M178.6 171.5h3.8M180.5 169.6v3.8M188.6 158.5h3.8M190.5 156.6v3.8M67.6 176.5h3.8M69.5 174.6v3.8M78.6 180.5h3.8M80.5 178.6v3.8M200.6 172.5h3.8M202.5 170.6v3.8M145.6 169.5h3.8M147.5 167.6v3.8M133.6 158.5h3.8M135.5 156.6v3.8M195.6 158.5h3.8M197.5 156.6v3.8M193.6 175.5h3.8M195.5 173.6v3.8M223.6 163.5h3.8M225.5 161.6v3.8M71.6 172.5h3.8M73.5 170.6v3.8M139.6 169.5h3.8M141.5 167.6v3.8M168.6 159.5h3.8M170.5 157.6v3.8M95.6 184.5h3.8M97.5 182.6v3.8M110.6 169.5h3.8M112.5 167.6v3.8M163.6 161.5h3.8M165.5 159.6v3.8M182.6 158.5h3.8M184.5 156.6v3.8M177.6 165.5h3.8M179.5 163.6v3.8M85.6 162.5h3.8M87.5 160.6v3.8M196.6 167.5h3.8M198.5 165.6v3.8M198.6 163.5h3.8M200.5 161.6v3.8M179.6 175.5h3.8M181.5 173.6v3.8M155.6 162.5h3.8M157.5 160.6v3.8M125.6 165.5h3.8M127.5 163.6v3.8M181.6 165.5h3.8M183.5 163.6v3.8M204.6 177.5h3.8M206.5 175.6v3.8M126.6 170.5h3.8M128.5 168.6v3.8M131.6 161.5h3.8M133.5 159.6v3.8M106.6 162.5h3.8M108.5 160.6v3.8M201.6 161.5h3.8M203.5 159.6v3.8M131.6 162.5h3.8M133.5 160.6v3.8M195.6 169.5h3.8M197.5 167.6v3.8M117.6 163.5h3.8M119.5 161.6v3.8M153.6 164.5h3.8M155.5 162.6v3.8M146.6 162.5h3.8M148.5 160.6v3.8M193.6 168.5h3.8M195.5 166.6v3.8M191.6 165.5h3.8M193.5 163.6v3.8M190.6 174.5h3.8M192.5 172.6v3.8M140.6 180.5h3.8M142.5 178.6v3.8M104.6 173.5h3.8M106.5 171.6v3.8M145.6 167.5h3.8M147.5 165.6v3.8M90.6 177.5h3.8M92.5 175.6v3.8M167.6 177.5h3.8M169.5 175.6v3.8M346.6 128.5h3.8M348.5 126.6v3.8M334.6 131.5h3.8M336.5 129.6v3.8M337.6 122.5h3.8M339.5 120.6v3.8M339.6 115.5h3.8M341.5 113.6v3.8M345.6 124.5h3.8M347.5 122.6v3.8M341.6 128.5h3.8M343.5 126.6v3.8M341.6 120.5h3.8M343.5 118.6v3.8M338.6 132.5h3.8M340.5 130.6v3.8M341.6 127.5h3.8M343.5 125.6v3.8M338.6 119.5h3.8M340.5 117.6v3.8M332.6 119.5h3.8M334.5 117.6v3.8M343.6 126.5h3.8M345.5 124.6v3.8M333.6 136.5h3.8M335.5 134.6v3.8M330.6 131.5h3.8M332.5 129.6v3.8M335.6 119.5h3.8M337.5 117.6v3.8M341.6 123.5h3.8M343.5 121.6v3.8M342.6 126.5h3.8M344.5 124.6v3.8M336.6 129.5h3.8M338.5 127.6v3.8M342.6 126.5h3.8M344.5 124.6v3.8M346.6 115.5h3.8M348.5 113.6v3.8M393.6 98.5h3.8M395.5 96.6v3.8M356.6 101.5h3.8M358.5 99.6v3.8M402.6 106.5h3.8M404.5 104.6v3.8M356.6 105.5h3.8M358.5 103.6v3.8M365.6 107.5h3.8M367.5 105.6v3.8M417.6 104.5h3.8M419.5 102.6v3.8M358.6 113.5h3.8M360.5 111.6v3.8M403.6 97.5h3.8M405.5 95.6v3.8M385.6 107.5h3.8M387.5 105.6v3.8M469.6 108.5h3.8M471.5 106.6v3.8M405.6 111.5h3.8M407.5 109.6v3.8M417.6 102.5h3.8M419.5 100.6v3.8M391.6 109.5h3.8M393.5 107.6v3.8M402.6 109.5h3.8M404.5 107.6v3.8M456.6 105.5h3.8M458.5 103.6v3.8M404.6 99.5h3.8M406.5 97.6v3.8M399.6 108.5h3.8M401.5 106.6v3.8M418.6 109.5h3.8M420.5 107.6v3.8M369.6 103.5h3.8M371.5 101.6v3.8M404.6 102.5h3.8M406.5 100.6v3.8M417.6 110.5h3.8M419.5 108.6v3.8M466.6 105.5h3.8M468.5 103.6v3.8M396.6 107.5h3.8M398.5 105.6v3.8M422.6 100.5h3.8M424.5 98.6v3.8M384.6 108.5h3.8M386.5 106.6v3.8M346.6 102.5h3.8M348.5 100.6v3.8M410.6 108.5h3.8M412.5 106.6v3.8M360.6 112.5h3.8M362.5 110.6v3.8M376.6 103.5h3.8M378.5 101.6v3.8M367.6 108.5h3.8M369.5 106.6v3.8M479.6 104.5h3.8M481.5 102.6v3.8M397.6 103.5h3.8M399.5 101.6v3.8M382.6 108.5h3.8M384.5 106.6v3.8M354.6 100.5h3.8M356.5 98.6v3.8M380.6 111.5h3.8M382.5 109.6v3.8M406.6 112.5h3.8M408.5 110.6v3.8M424.6 103.5h3.8M426.5 101.6v3.8M423.6 101.5h3.8M425.5 99.6v3.8M467.6 110.5h3.8M469.5 108.6v3.8M457.6 103.5h3.8M459.5 101.6v3.8M370.6 98.5h3.8M372.5 96.6v3.8M425.6 113.5h3.8M427.5 111.6v3.8M390.6 104.5h3.8M392.5 102.6v3.8M367.6 107.5h3.8M369.5 105.6v3.8M455.6 108.5h3.8M457.5 106.6v3.8M470.6 107.5h3.8M472.5 105.6v3.8M389.6 108.5h3.8M391.5 106.6v3.8M350.6 111.5h3.8M352.5 109.6v3.8M449.6 101.5h3.8M451.5 99.6v3.8M375.6 112.5h3.8M377.5 110.6v3.8M376.6 103.5h3.8M378.5 101.6v3.8M355.6 110.5h3.8M357.5 108.6v3.8M441.6 109.5h3.8M443.5 107.6v3.8M417.6 106.5h3.8M419.5 104.6v3.8M375.6 100.5h3.8M377.5 98.6v3.8M415.6 100.5h3.8M417.5 98.6v3.8M347.6 107.5h3.8M349.5 105.6v3.8M401.6 98.5h3.8M403.5 96.6v3.8M376.6 111.5h3.8M378.5 109.6v3.8M359.6 109.5h3.8M361.5 107.6v3.8M361.6 109.5h3.8M363.5 107.6v3.8M396.6 106.5h3.8M398.5 104.6v3.8M382.6 107.5h3.8M384.5 105.6v3.8M424.6 111.5h3.8M426.5 109.6v3.8M412.6 108.5h3.8M414.5 106.6v3.8M355.6 106.5h3.8M357.5 104.6v3.8M393.6 113.5h3.8M395.5 111.6v3.8M386.6 102.5h3.8M388.5 100.6v3.8M360.6 107.5h3.8M362.5 105.6v3.8M375.6 99.5h3.8M377.5 97.6v3.8M351.6 104.5h3.8M353.5 102.6v3.8M383.6 101.5h3.8M385.5 99.6v3.8M401.6 101.5h3.8M403.5 99.6v3.8M389.6 107.5h3.8M391.5 105.6v3.8M369.6 107.5h3.8M371.5 105.6v3.8M429.6 105.5h3.8M431.5 103.6v3.8M406.6 100.5h3.8M408.5 98.6v3.8M394.6 107.5h3.8M396.5 105.6v3.8M372.6 104.5h3.8M374.5 102.6v3.8M386.6 110.5h3.8M388.5 108.6v3.8M419.6 100.5h3.8M421.5 98.6v3.8M376.6 108.5h3.8M378.5 106.6v3.8M423.6 108.5h3.8M425.5 106.6v3.8M428.6 102.5h3.8M430.5 100.6v3.8M445.6 100.5h3.8M447.5 98.6v3.8M414.6 101.5h3.8M416.5 99.6v3.8M363.6 107.5h3.8M365.5 105.6v3.8M419.6 110.5h3.8M421.5 108.6v3.8M365.6 107.5h3.8M367.5 105.6v3.8M396.6 102.5h3.8M398.5 100.6v3.8M401.6 105.5h3.8M403.5 103.6v3.8M356.6 110.5h3.8M358.5 108.6v3.8M384.6 103.5h3.8M386.5 101.6v3.8M451.6 102.5h3.8M453.5 100.6v3.8M406.6 103.5h3.8M408.5 101.6v3.8M407.6 112.5h3.8M409.5 110.6v3.8M354.6 109.5h3.8M356.5 107.6v3.8M420.6 111.5h3.8M422.5 109.6v3.8M415.6 105.5h3.8M417.5 103.6v3.8M350.6 110.5h3.8M352.5 108.6v3.8M427.6 109.5h3.8M429.5 107.6v3.8M360.6 105.5h3.8M362.5 103.6v3.8M427.6 100.5h3.8M429.5 98.6v3.8M414.6 136.5h3.8M416.5 134.6v3.8M396.6 137.5h3.8M398.5 135.6v3.8M388.6 127.5h3.8M390.5 125.6v3.8M362.6 129.5h3.8M364.5 127.6v3.8M391.6 134.5h3.8M393.5 132.6v3.8M384.6 125.5h3.8M386.5 123.6v3.8M409.6 124.5h3.8M411.5 122.6v3.8M372.6 132.5h3.8M374.5 130.6v3.8M405.6 127.5h3.8M407.5 125.6v3.8M375.6 129.5h3.8M377.5 127.6v3.8M396.6 117.5h3.8M398.5 115.6v3.8M387.6 128.5h3.8M389.5 126.6v3.8M406.6 127.5h3.8M408.5 125.6v3.8M400.6 119.5h3.8M402.5 117.6v3.8M409.6 114.5h3.8M411.5 112.6v3.8M384.6 123.5h3.8M386.5 121.6v3.8M410.6 123.5h3.8M412.5 121.6v3.8M388.6 123.5h3.8M390.5 121.6v3.8M394.6 125.5h3.8M396.5 123.6v3.8M382.6 140.5h3.8M384.5 138.6v3.8M399.6 126.5h3.8M401.5 124.6v3.8M409.6 133.5h3.8M411.5 131.6v3.8M366.6 116.5h3.8M368.5 114.6v3.8M379.6 136.5h3.8M381.5 134.6v3.8M373.6 119.5h3.8M375.5 117.6v3.8M389.6 130.5h3.8M391.5 128.6v3.8M418.6 112.5h3.8M420.5 110.6v3.8M406.6 125.5h3.8M408.5 123.6v3.8M406.6 128.5h3.8M408.5 126.6v3.8M404.6 116.5h3.8M406.5 114.6v3.8M379.6 127.5h3.8M381.5 125.6v3.8M397.6 139.5h3.8M399.5 137.6v3.8M391.6 138.5h3.8M393.5 136.6v3.8M394.6 123.5h3.8M396.5 121.6v3.8M389.6 114.5h3.8M391.5 112.6v3.8M388.6 119.5h3.8M390.5 117.6v3.8M392.6 127.5h3.8M394.5 125.6v3.8M392.6 122.5h3.8M394.5 120.6v3.8M377.6 135.5h3.8M379.5 133.6v3.8M388.6 112.5h3.8M390.5 110.6v3.8M395.6 116.5h3.8M397.5 114.6v3.8M370.6 112.5h3.8M372.5 110.6v3.8M370.6 123.5h3.8M372.5 121.6v3.8M396.6 128.5h3.8M398.5 126.6v3.8M406.6 130.5h3.8M408.5 128.6v3.8M363.6 115.5h3.8M365.5 113.6v3.8M391.6 130.5h3.8M393.5 128.6v3.8M382.6 117.5h3.8M384.5 115.6v3.8M365.6 119.5h3.8M367.5 117.6v3.8M424.6 130.5h3.8M426.5 128.6v3.8M369.6 124.5h3.8M371.5 122.6v3.8M377.6 116.5h3.8M379.5 114.6v3.8M383.6 128.5h3.8M385.5 126.6v3.8M420.6 116.5h3.8M422.5 114.6v3.8M393.6 122.5h3.8M395.5 120.6v3.8M411.6 113.5h3.8M413.5 111.6v3.8M382.6 134.5h3.8M384.5 132.6v3.8M389.6 115.5h3.8M391.5 113.6v3.8M412.6 130.5h3.8M414.5 128.6v3.8M391.6 131.5h3.8M393.5 129.6v3.8M385.6 115.5h3.8M387.5 113.6v3.8M419.6 121.5h3.8M421.5 119.6v3.8M411.6 120.5h3.8M413.5 118.6v3.8M404.6 114.5h3.8M406.5 112.6v3.8M394.6 122.5h3.8M396.5 120.6v3.8M420.6 135.5h3.8M422.5 133.6v3.8M404.6 134.5h3.8M406.5 132.6v3.8M393.6 114.5h3.8M395.5 112.6v3.8M403.6 136.5h3.8M405.5 134.6v3.8M412.6 128.5h3.8M414.5 126.6v3.8M388.6 113.5h3.8M390.5 111.6v3.8M393.6 137.5h3.8M395.5 135.6v3.8M418.6 118.5h3.8M420.5 116.6v3.8M401.6 128.5h3.8M403.5 126.6v3.8M401.6 112.5h3.8M403.5 110.6v3.8M381.6 129.5h3.8M383.5 127.6v3.8M378.6 111.5h3.8M380.5 109.6v3.8M407.6 119.5h3.8M409.5 117.6v3.8M420.6 132.5h3.8M422.5 130.6v3.8M380.6 114.5h3.8M382.5 112.6v3.8M402.6 137.5h3.8M404.5 135.6v3.8M389.6 112.5h3.8M391.5 110.6v3.8M414.6 127.5h3.8M416.5 125.6v3.8M384.6 114.5h3.8M386.5 112.6v3.8M384.6 136.5h3.8M386.5 134.6v3.8M395.6 119.5h3.8M397.5 117.6v3.8M372.6 120.5h3.8M374.5 118.6v3.8M393.6 138.5h3.8M395.5 136.6v3.8M363.6 130.5h3.8M365.5 128.6v3.8M422.6 128.5h3.8M424.5 126.6v3.8M420.6 122.5h3.8M422.5 120.6v3.8M401.6 132.5h3.8M403.5 130.6v3.8M403.6 131.5h3.8M405.5 129.6v3.8M396.6 120.5h3.8M398.5 118.6v3.8M390.6 115.5h3.8M392.5 113.6v3.8M384.6 120.5h3.8M386.5 118.6v3.8M420.6 116.5h3.8M422.5 114.6v3.8M414.6 131.5h3.8M416.5 129.6v3.8M422.6 136.5h3.8M424.5 134.6v3.8M394.6 120.5h3.8M396.5 118.6v3.8M422.6 113.5h3.8M424.5 111.6v3.8M403.6 135.5h3.8M405.5 133.6v3.8M409.6 123.5h3.8M411.5 121.6v3.8M419.6 119.5h3.8M421.5 117.6v3.8M402.6 129.5h3.8M404.5 127.6v3.8M412.6 136.5h3.8M414.5 134.6v3.8M400.6 125.5h3.8M402.5 123.6v3.8M408.6 128.5h3.8M410.5 126.6v3.8M393.6 114.5h3.8M395.5 112.6v3.8M365.6 131.5h3.8M367.5 129.6v3.8M376.6 140.5h3.8M378.5 138.6v3.8M386.6 140.5h3.8M388.5 138.6v3.8M425.6 132.5h3.8M427.5 130.6v3.8M404.6 136.5h3.8M406.5 134.6v3.8M400.6 115.5h3.8M402.5 113.6v3.8M414.6 125.5h3.8M416.5 123.6v3.8M399.6 118.5h3.8M401.5 116.6v3.8M367.6 134.5h3.8M369.5 132.6v3.8M402.6 130.5h3.8M404.5 128.6v3.8M408.6 138.5h3.8M410.5 136.6v3.8M397.6 123.5h3.8M399.5 121.6v3.8M422.6 123.5h3.8M424.5 121.6v3.8M375.6 127.5h3.8M377.5 125.6v3.8M398.6 113.5h3.8M400.5 111.6v3.8M377.6 119.5h3.8M379.5 117.6v3.8M410.6 113.5h3.8M412.5 111.6v3.8M389.6 131.5h3.8M391.5 129.6v3.8M384.6 115.5h3.8M386.5 113.6v3.8M400.6 124.5h3.8M402.5 122.6v3.8M383.6 125.5h3.8M385.5 123.6v3.8M387.6 131.5h3.8M389.5 129.6v3.8M397.6 132.5h3.8M399.5 130.6v3.8M366.6 135.5h3.8M368.5 133.6v3.8M390.6 125.5h3.8M392.5 123.6v3.8M416.6 126.5h3.8M418.5 124.6v3.8M379.6 136.5h3.8M381.5 134.6v3.8M413.6 132.5h3.8M415.5 130.6v3.8M403.6 113.5h3.8M405.5 111.6v3.8M397.6 138.5h3.8M399.5 136.6v3.8M408.6 131.5h3.8M410.5 129.6v3.8M409.6 134.5h3.8M411.5 132.6v3.8M379.6 127.5h3.8M381.5 125.6v3.8M379.6 126.5h3.8M381.5 124.6v3.8M416.6 124.5h3.8M418.5 122.6v3.8M407.6 118.5h3.8M409.5 116.6v3.8M377.6 117.5h3.8M379.5 115.6v3.8M362.6 133.5h3.8M364.5 131.6v3.8M389.6 123.5h3.8M391.5 121.6v3.8M415.6 122.5h3.8M417.5 120.6v3.8M401.6 127.5h3.8M403.5 125.6v3.8M412.6 137.5h3.8M414.5 135.6v3.8M379.6 130.5h3.8M381.5 128.6v3.8M383.6 114.5h3.8M385.5 112.6v3.8M371.6 128.5h3.8M373.5 126.6v3.8M409.6 137.5h3.8M411.5 135.6v3.8M406.6 128.5h3.8M408.5 126.6v3.8M390.6 119.5h3.8M392.5 117.6v3.8M381.6 120.5h3.8M383.5 118.6v3.8M396.6 134.5h3.8M398.5 132.6v3.8M404.6 133.5h3.8M406.5 131.6v3.8M395.6 137.5h3.8M397.5 135.6v3.8M414.6 134.5h3.8M416.5 132.6v3.8M413.6 135.5h3.8M415.5 133.6v3.8M353.6 126.5h3.8M355.5 124.6v3.8M390.6 128.5h3.8M392.5 126.6v3.8M406.6 124.5h3.8M408.5 122.6v3.8M397.6 116.5h3.8M399.5 114.6v3.8M372.6 128.5h3.8M374.5 126.6v3.8M377.6 120.5h3.8M379.5 118.6v3.8M365.6 112.5h3.8M367.5 110.6v3.8M406.6 128.5h3.8M408.5 126.6v3.8M372.6 130.5h3.8M374.5 128.6v3.8M389.6 128.5h3.8M391.5 126.6v3.8M419.6 126.5h3.8M421.5 124.6v3.8M413.6 119.5h3.8M415.5 117.6v3.8M379.6 111.5h3.8M381.5 109.6v3.8M363.6 116.5h3.8M365.5 114.6v3.8M407.6 119.5h3.8M409.5 117.6v3.8M381.6 131.5h3.8M383.5 129.6v3.8M381.6 128.5h3.8M383.5 126.6v3.8M382.6 123.5h3.8M384.5 121.6v3.8M406.6 134.5h3.8M408.5 132.6v3.8M413.6 122.5h3.8M415.5 120.6v3.8M376.6 113.5h3.8M378.5 111.6v3.8M408.6 128.5h3.8M410.5 126.6v3.8M355.6 120.5h3.8M357.5 118.6v3.8M382.6 122.5h3.8M384.5 120.6v3.8M390.6 120.5h3.8M392.5 118.6v3.8M391.6 138.5h3.8M393.5 136.6v3.8M364.6 114.5h3.8M366.5 112.6v3.8M400.6 114.5h3.8M402.5 112.6v3.8M353.6 125.5h3.8M355.5 123.6v3.8M427.6 120.5h3.8M429.5 118.6v3.8M391.6 112.5h3.8M393.5 110.6v3.8M424.6 116.5h3.8M426.5 114.6v3.8M408.6 114.5h3.8M410.5 112.6v3.8M409.6 135.5h3.8M411.5 133.6v3.8M392.6 114.5h3.8M394.5 112.6v3.8M388.6 116.5h3.8M390.5 114.6v3.8M415.6 135.5h3.8M417.5 133.6v3.8M390.6 121.5h3.8M392.5 119.6v3.8M384.6 114.5h3.8M386.5 112.6v3.8M401.6 121.5h3.8M403.5 119.6v3.8M401.6 133.5h3.8M403.5 131.6v3.8M367.6 127.5h3.8M369.5 125.6v3.8M416.6 116.5h3.8M418.5 114.6v3.8M406.6 125.5h3.8M408.5 123.6v3.8M398.6 122.5h3.8M400.5 120.6v3.8M387.6 128.5h3.8M389.5 126.6v3.8M426.6 126.5h3.8M428.5 124.6v3.8M356.6 118.5h3.8M358.5 116.6v3.8M372.6 133.5h3.8M374.5 131.6v3.8M372.6 133.5h3.8M374.5 131.6v3.8M383.6 122.5h3.8M385.5 120.6v3.8M376.6 135.5h3.8M378.5 133.6v3.8M384.6 115.5h3.8M386.5 113.6v3.8M383.6 135.5h3.8M385.5 133.6v3.8M402.6 135.5h3.8M404.5 133.6v3.8M387.6 112.5h3.8M389.5 110.6v3.8M414.6 129.5h3.8M416.5 127.6v3.8M418.6 110.5h3.8M420.5 108.6v3.8M376.6 119.5h3.8M378.5 117.6v3.8M387.6 122.5h3.8M389.5 120.6v3.8M388.6 132.5h3.8M390.5 130.6v3.8M383.6 126.5h3.8M385.5 124.6v3.8M393.6 136.5h3.8M395.5 134.6v3.8M374.6 123.5h3.8M376.5 121.6v3.8M382.6 135.5h3.8M384.5 133.6v3.8M403.6 114.5h3.8M405.5 112.6v3.8M407.6 119.5h3.8M409.5 117.6v3.8M397.6 138.5h3.8M399.5 136.6v3.8M389.6 132.5h3.8M391.5 130.6v3.8M373.6 119.5h3.8M375.5 117.6v3.8M409.6 126.5h3.8M411.5 124.6v3.8M404.6 118.5h3.8M406.5 116.6v3.8M420.6 116.5h3.8M422.5 114.6v3.8M403.6 136.5h3.8M405.5 134.6v3.8M364.6 114.5h3.8M366.5 112.6v3.8M418.6 137.5h3.8M420.5 135.6v3.8M376.6 123.5h3.8M378.5 121.6v3.8M384.6 110.5h3.8M386.5 108.6v3.8M371.6 122.5h3.8M373.5 120.6v3.8M420.6 130.5h3.8M422.5 128.6v3.8M385.6 127.5h3.8M387.5 125.6v3.8M391.6 124.5h3.8M393.5 122.6v3.8M425.6 129.5h3.8M427.5 127.6v3.8M370.6 119.5h3.8M372.5 117.6v3.8M390.6 135.5h3.8M392.5 133.6v3.8M390.6 138.5h3.8M392.5 136.6v3.8M376.6 113.5h3.8M378.5 111.6v3.8M374.6 119.5h3.8M376.5 117.6v3.8M375.6 131.5h3.8M377.5 129.6v3.8M416.6 115.5h3.8M418.5 113.6v3.8M401.6 121.5h3.8M403.5 119.6v3.8M391.6 133.5h3.8M393.5 131.6v3.8M389.6 118.5h3.8M391.5 116.6v3.8M398.6 133.5h3.8M400.5 131.6v3.8M392.6 129.5h3.8M394.5 127.6v3.8M404.6 135.5h3.8M406.5 133.6v3.8M401.6 133.5h3.8M403.5 131.6v3.8M357.6 118.5h3.8M359.5 116.6v3.8M401.6 131.5h3.8M403.5 129.6v3.8M401.6 132.5h3.8M403.5 130.6v3.8M398.6 110.5h3.8M400.5 108.6v3.8M371.6 137.5h3.8M373.5 135.6v3.8M407.6 125.5h3.8M409.5 123.6v3.8M373.6 136.5h3.8M375.5 134.6v3.8M401.6 133.5h3.8M403.5 131.6v3.8M400.6 111.5h3.8M402.5 109.6v3.8M407.6 132.5h3.8M409.5 130.6v3.8M380.6 117.5h3.8M382.5 115.6v3.8M411.6 127.5h3.8M413.5 125.6v3.8M420.6 117.5h3.8M422.5 115.6v3.8M374.6 133.5h3.8M376.5 131.6v3.8M403.6 119.5h3.8M405.5 117.6v3.8M413.6 130.5h3.8M415.5 128.6v3.8M383.6 131.5h3.8M385.5 129.6v3.8M409.6 139.5h3.8M411.5 137.6v3.8M386.6 115.5h3.8M388.5 113.6v3.8M401.6 133.5h3.8M403.5 131.6v3.8M410.6 113.5h3.8M412.5 111.6v3.8M381.6 135.5h3.8M383.5 133.6v3.8M372.6 135.5h3.8M374.5 133.6v3.8M396.6 130.5h3.8M398.5 128.6v3.8M402.6 115.5h3.8M404.5 113.6v3.8M396.6 116.5h3.8M398.5 114.6v3.8M385.6 116.5h3.8M387.5 114.6v3.8M401.6 123.5h3.8M403.5 121.6v3.8M373.6 128.5h3.8M375.5 126.6v3.8M380.6 115.5h3.8M382.5 113.6v3.8M392.6 137.5h3.8M394.5 135.6v3.8M416.6 132.5h3.8M418.5 130.6v3.8M358.6 123.5h3.8M360.5 121.6v3.8M406.6 133.5h3.8M408.5 131.6v3.8M395.6 114.5h3.8M397.5 112.6v3.8M410.6 129.5h3.8M412.5 127.6v3.8M390.6 116.5h3.8M392.5 114.6v3.8M388.6 127.5h3.8M390.5 125.6v3.8M402.6 139.5h3.8M404.5 137.6v3.8M380.6 116.5h3.8M382.5 114.6v3.8M395.6 119.5h3.8M397.5 117.6v3.8M395.6 117.5h3.8M397.5 115.6v3.8M398.6 115.5h3.8M400.5 113.6v3.8M383.6 129.5h3.8M385.5 127.6v3.8M395.6 129.5h3.8M397.5 127.6v3.8M404.6 121.5h3.8M406.5 119.6v3.8M366.6 139.5h3.8M368.5 137.6v3.8M387.6 134.5h3.8M389.5 132.6v3.8M395.6 135.5h3.8M397.5 133.6v3.8M379.6 119.5h3.8M381.5 117.6v3.8M380.6 133.5h3.8M382.5 131.6v3.8M374.6 131.5h3.8M376.5 129.6v3.8M383.6 132.5h3.8M385.5 130.6v3.8M403.6 113.5h3.8M405.5 111.6v3.8M407.6 136.5h3.8M409.5 134.6v3.8M385.6 139.5h3.8M387.5 137.6v3.8M410.6 113.5h3.8M412.5 111.6v3.8M411.6 115.5h3.8M413.5 113.6v3.8M382.6 114.5h3.8M384.5 112.6v3.8M377.6 120.5h3.8M379.5 118.6v3.8M360.6 122.5h3.8M362.5 120.6v3.8M377.6 124.5h3.8M379.5 122.6v3.8M365.6 135.5h3.8M367.5 133.6v3.8M381.6 126.5h3.8M383.5 124.6v3.8M356.6 124.5h3.8M358.5 122.6v3.8M416.6 115.5h3.8M418.5 113.6v3.8M367.6 130.5h3.8M369.5 128.6v3.8M375.6 119.5h3.8M377.5 117.6v3.8M395.6 135.5h3.8M397.5 133.6v3.8M388.6 130.5h3.8M390.5 128.6v3.8M395.6 117.5h3.8M397.5 115.6v3.8M414.6 122.5h3.8M416.5 120.6v3.8M362.6 133.5h3.8M364.5 131.6v3.8M368.6 132.5h3.8M370.5 130.6v3.8M400.6 135.5h3.8M402.5 133.6v3.8M401.6 121.5h3.8M403.5 119.6v3.8M388.6 117.5h3.8M390.5 115.6v3.8M396.6 132.5h3.8M398.5 130.6v3.8M389.6 120.5h3.8M391.5 118.6v3.8M398.6 130.5h3.8M400.5 128.6v3.8M389.6 112.5h3.8M391.5 110.6v3.8M402.6 131.5h3.8M404.5 129.6v3.8M398.6 122.5h3.8M400.5 120.6v3.8M379.6 134.5h3.8M381.5 132.6v3.8M404.6 117.5h3.8M406.5 115.6v3.8M369.6 127.5h3.8M371.5 125.6v3.8M399.6 124.5h3.8M401.5 122.6v3.8M406.6 117.5h3.8M408.5 115.6v3.8M382.6 126.5h3.8M384.5 124.6v3.8M410.6 134.5h3.8M412.5 132.6v3.8M402.6 136.5h3.8M404.5 134.6v3.8M392.6 119.5h3.8M394.5 117.6v3.8M412.6 135.5h3.8M414.5 133.6v3.8M388.6 123.5h3.8M390.5 121.6v3.8M388.6 135.5h3.8M390.5 133.6v3.8M402.6 134.5h3.8M404.5 132.6v3.8M375.6 122.5h3.8M377.5 120.6v3.8M380.6 117.5h3.8M382.5 115.6v3.8M418.6 119.5h3.8M420.5 117.6v3.8M416.6 114.5h3.8M418.5 112.6v3.8M407.6 125.5h3.8M409.5 123.6v3.8M410.6 122.5h3.8M412.5 120.6v3.8M394.6 127.5h3.8M396.5 125.6v3.8M411.6 118.5h3.8M413.5 116.6v3.8M395.6 114.5h3.8M397.5 112.6v3.8M365.6 130.5h3.8M367.5 128.6v3.8M392.6 135.5h3.8M394.5 133.6v3.8M393.6 138.5h3.8M395.5 136.6v3.8M408.6 127.5h3.8M410.5 125.6v3.8M381.6 115.5h3.8M383.5 113.6v3.8M386.6 134.5h3.8M388.5 132.6v3.8M365.6 134.5h3.8M367.5 132.6v3.8M381.6 128.5h3.8M383.5 126.6v3.8M374.6 137.5h3.8M376.5 135.6v3.8M409.6 120.5h3.8M411.5 118.6v3.8M398.6 124.5h3.8M400.5 122.6v3.8M383.6 124.5h3.8M385.5 122.6v3.8M417.6 118.5h3.8M419.5 116.6v3.8M367.6 113.5h3.8M369.5 111.6v3.8M379.6 138.5h3.8M381.5 136.6v3.8M415.6 120.5h3.8M417.5 118.6v3.8M384.6 139.5h3.8M386.5 137.6v3.8M369.6 118.5h3.8M371.5 116.6v3.8M369.6 120.5h3.8M371.5 118.6v3.8M357.6 116.5h3.8M359.5 114.6v3.8M384.6 112.5h3.8M386.5 110.6v3.8M381.6 123.5h3.8M383.5 121.6v3.8M412.6 134.5h3.8M414.5 132.6v3.8M410.6 115.5h3.8M412.5 113.6v3.8M375.6 121.5h3.8M377.5 119.6v3.8M408.6 120.5h3.8M410.5 118.6v3.8M390.6 133.5h3.8M392.5 131.6v3.8M414.6 136.5h3.8M416.5 134.6v3.8M364.6 120.5h3.8M366.5 118.6v3.8M356.6 132.5h3.8M358.5 130.6v3.8M375.6 133.5h3.8M377.5 131.6v3.8M370.6 122.5h3.8M372.5 120.6v3.8M397.6 119.5h3.8M399.5 117.6v3.8M385.6 129.5h3.8M387.5 127.6v3.8M378.6 134.5h3.8M380.5 132.6v3.8M388.6 112.5h3.8M390.5 110.6v3.8M378.6 129.5h3.8M380.5 127.6v3.8M367.6 132.5h3.8M369.5 130.6v3.8M408.6 121.5h3.8M410.5 119.6v3.8M398.6 125.5h3.8M400.5 123.6v3.8M405.6 111.5h3.8M407.5 109.6v3.8M390.6 120.5h3.8M392.5 118.6v3.8M392.6 132.5h3.8M394.5 130.6v3.8M425.6 124.5h3.8M427.5 122.6v3.8M376.6 115.5h3.8M378.5 113.6v3.8M396.6 129.5h3.8M398.5 127.6v3.8M386.6 124.5h3.8M388.5 122.6v3.8M423.6 122.5h3.8M425.5 120.6v3.8M394.6 134.5h3.8M396.5 132.6v3.8M393.6 119.5h3.8M395.5 117.6v3.8M397.6 113.5h3.8M399.5 111.6v3.8M386.6 133.5h3.8M388.5 131.6v3.8M401.6 120.5h3.8M403.5 118.6v3.8M410.6 114.5h3.8M412.5 112.6v3.8M363.6 127.5h3.8M365.5 125.6v3.8M397.6 131.5h3.8M399.5 129.6v3.8M386.6 123.5h3.8M388.5 121.6v3.8M415.6 125.5h3.8M417.5 123.6v3.8M412.6 126.5h3.8M414.5 124.6v3.8M397.6 115.5h3.8M399.5 113.6v3.8M404.6 127.5h3.8M406.5 125.6v3.8M384.6 116.5h3.8M386.5 114.6v3.8M370.6 135.5h3.8M372.5 133.6v3.8M378.6 120.5h3.8M380.5 118.6v3.8M395.6 122.5h3.8M397.5 120.6v3.8M386.6 130.5h3.8M388.5 128.6v3.8M364.6 135.5h3.8M366.5 133.6v3.8M397.6 123.5h3.8M399.5 121.6v3.8M410.6 130.5h3.8M412.5 128.6v3.8M363.6 113.5h3.8M365.5 111.6v3.8M392.6 119.5h3.8M394.5 117.6v3.8M393.6 119.5h3.8M395.5 117.6v3.8M386.6 132.5h3.8M388.5 130.6v3.8M411.6 115.5h3.8M413.5 113.6v3.8M392.6 122.5h3.8M394.5 120.6v3.8M357.6 133.5h3.8M359.5 131.6v3.8M394.6 135.5h3.8M396.5 133.6v3.8M367.6 126.5h3.8M369.5 124.6v3.8M411.6 132.5h3.8M413.5 130.6v3.8M376.6 138.5h3.8M378.5 136.6v3.8M423.6 113.5h3.8M425.5 111.6v3.8M411.6 137.5h3.8M413.5 135.6v3.8M380.6 114.5h3.8M382.5 112.6v3.8M403.6 120.5h3.8M405.5 118.6v3.8M423.6 115.5h3.8M425.5 113.6v3.8M411.6 124.5h3.8M413.5 122.6v3.8M390.6 111.5h3.8M392.5 109.6v3.8M412.6 118.5h3.8M414.5 116.6v3.8M401.6 135.5h3.8M403.5 133.6v3.8M386.6 121.5h3.8M388.5 119.6v3.8M364.6 118.5h3.8M366.5 116.6v3.8M382.6 129.5h3.8M384.5 127.6v3.8M388.6 124.5h3.8M390.5 122.6v3.8M404.6 119.5h3.8M406.5 117.6v3.8M414.6 133.5h3.8M416.5 131.6v3.8M365.6 118.5h3.8M367.5 116.6v3.8M374.6 119.5h3.8M376.5 117.6v3.8M393.6 122.5h3.8M395.5 120.6v3.8M383.6 120.5h3.8M385.5 118.6v3.8M412.6 113.5h3.8M414.5 111.6v3.8M377.6 111.5h3.8M379.5 109.6v3.8M407.6 124.5h3.8M409.5 122.6v3.8M394.6 123.5h3.8M396.5 121.6v3.8M418.6 120.5h3.8M420.5 118.6v3.8M410.6 132.5h3.8M412.5 130.6v3.8M400.6 126.5h3.8M402.5 124.6v3.8M369.6 112.5h3.8M371.5 110.6v3.8M399.6 119.5h3.8M401.5 117.6v3.8M369.6 121.5h3.8M371.5 119.6v3.8M396.6 136.5h3.8M398.5 134.6v3.8M376.6 112.5h3.8M378.5 110.6v3.8M406.6 132.5h3.8M408.5 130.6v3.8M396.6 124.5h3.8M398.5 122.6v3.8M390.6 131.5h3.8M392.5 129.6v3.8M408.6 135.5h3.8M410.5 133.6v3.8M376.6 122.5h3.8M378.5 120.6v3.8M370.6 136.5h3.8M372.5 134.6v3.8M373.6 126.5h3.8M375.5 124.6v3.8M396.6 123.5h3.8M398.5 121.6v3.8M398.6 119.5h3.8M400.5 117.6v3.8M417.6 119.5h3.8M419.5 117.6v3.8M401.6 135.5h3.8M403.5 133.6v3.8M417.6 137.5h3.8M419.5 135.6v3.8M410.6 112.5h3.8M412.5 110.6v3.8M396.6 123.5h3.8M398.5 121.6v3.8M385.6 118.5h3.8M387.5 116.6v3.8M372.6 117.5h3.8M374.5 115.6v3.8M386.6 132.5h3.8M388.5 130.6v3.8M363.6 121.5h3.8M365.5 119.6v3.8M423.6 112.5h3.8M425.5 110.6v3.8M421.6 136.5h3.8M423.5 134.6v3.8M367.6 135.5h3.8M369.5 133.6v3.8M376.6 136.5h3.8M378.5 134.6v3.8M423.6 121.5h3.8M425.5 119.6v3.8M387.6 129.5h3.8M389.5 127.6v3.8M415.6 119.5h3.8M417.5 117.6v3.8M383.6 116.5h3.8M385.5 114.6v3.8M380.6 130.5h3.8M382.5 128.6v3.8M383.6 128.5h3.8M385.5 126.6v3.8M387.6 136.5h3.8M389.5 134.6v3.8M424.6 127.5h3.8M426.5 125.6v3.8M391.6 117.5h3.8M393.5 115.6v3.8M421.6 119.5h3.8M423.5 117.6v3.8M393.6 117.5h3.8M395.5 115.6v3.8M408.6 111.5h3.8M410.5 109.6v3.8M389.6 117.5h3.8M391.5 115.6v3.8M392.6 120.5h3.8M394.5 118.6v3.8M396.6 137.5h3.8M398.5 135.6v3.8M384.6 141.5h3.8M386.5 139.6v3.8M368.6 135.5h3.8M370.5 133.6v3.8M390.6 112.5h3.8M392.5 110.6v3.8M413.6 112.5h3.8M415.5 110.6v3.8M378.6 136.5h3.8M380.5 134.6v3.8M411.6 137.5h3.8M413.5 135.6v3.8M392.6 118.5h3.8M394.5 116.6v3.8M381.6 127.5h3.8M383.5 125.6v3.8M362.6 123.5h3.8M364.5 121.6v3.8M395.6 122.5h3.8M397.5 120.6v3.8M398.6 140.5h3.8M400.5 138.6v3.8M383.6 130.5h3.8M385.5 128.6v3.8M373.6 135.5h3.8M375.5 133.6v3.8M414.6 113.5h3.8M416.5 111.6v3.8M388.6 122.5h3.8M390.5 120.6v3.8M382.6 121.5h3.8M384.5 119.6v3.8M407.6 112.5h3.8M409.5 110.6v3.8M371.6 119.5h3.8M373.5 117.6v3.8M397.6 123.5h3.8M399.5 121.6v3.8M370.6 132.5h3.8M372.5 130.6v3.8M384.6 120.5h3.8M386.5 118.6v3.8M393.6 113.5h3.8M395.5 111.6v3.8M380.6 132.5h3.8M382.5 130.6v3.8M403.6 136.5h3.8M405.5 134.6v3.8M387.6 127.5h3.8M389.5 125.6v3.8M412.6 121.5h3.8M414.5 119.6v3.8M358.6 134.5h3.8M360.5 132.6v3.8M385.6 138.5h3.8M387.5 136.6v3.8M410.6 125.5h3.8M412.5 123.6v3.8M403.6 125.5h3.8M405.5 123.6v3.8M419.6 121.5h3.8M421.5 119.6v3.8M405.6 123.5h3.8M407.5 121.6v3.8M372.6 133.5h3.8M374.5 131.6v3.8M369.6 136.5h3.8M371.5 134.6v3.8M364.6 120.5h3.8M366.5 118.6v3.8M417.6 129.5h3.8M419.5 127.6v3.8M407.6 112.5h3.8M409.5 110.6v3.8M413.6 135.5h3.8M415.5 133.6v3.8M409.6 116.5h3.8M411.5 114.6v3.8M412.6 125.5h3.8M414.5 123.6v3.8M378.6 116.5h3.8M380.5 114.6v3.8M378.6 125.5h3.8M380.5 123.6v3.8M396.6 112.5h3.8M398.5 110.6v3.8M405.6 125.5h3.8M407.5 123.6v3.8M399.6 124.5h3.8M401.5 122.6v3.8M414.6 125.5h3.8M416.5 123.6v3.8M404.6 122.5h3.8M406.5 120.6v3.8M377.6 123.5h3.8M379.5 121.6v3.8M415.6 129.5h3.8M417.5 127.6v3.8M416.6 132.5h3.8M418.5 130.6v3.8M407.6 124.5h3.8M409.5 122.6v3.8M389.6 124.5h3.8M391.5 122.6v3.8M376.6 130.5h3.8M378.5 128.6v3.8M412.6 137.5h3.8M414.5 135.6v3.8M394.6 138.5h3.8M396.5 136.6v3.8M382.6 137.5h3.8M384.5 135.6v3.8M363.6 130.5h3.8M365.5 128.6v3.8M407.6 114.5h3.8M409.5 112.6v3.8M397.6 128.5h3.8M399.5 126.6v3.8M383.6 135.5h3.8M385.5 133.6v3.8M480.6 114.5h3.8M482.5 112.6v3.8M349.6 116.5h3.8M351.5 114.6v3.8M393.6 142.5h3.8M395.5 140.6v3.8M469.6 112.5h3.8M471.5 110.6v3.8M400.6 114.5h3.8M402.5 112.6v3.8M453.6 130.5h3.8M455.5 128.6v3.8M475.6 121.5h3.8M477.5 119.6v3.8M435.6 133.5h3.8M437.5 131.6v3.8M357.6 122.5h3.8M359.5 120.6v3.8M475.6 125.5h3.8M477.5 123.6v3.8M423.6 125.5h3.8M425.5 123.6v3.8M473.6 133.5h3.8M475.5 131.6v3.8M407.6 127.5h3.8M409.5 125.6v3.8M365.6 121.5h3.8M367.5 119.6v3.8M405.6 114.5h3.8M407.5 112.6v3.8M390.6 114.5h3.8M392.5 112.6v3.8M370.6 136.5h3.8M372.5 134.6v3.8M478.6 120.5h3.8M480.5 118.6v3.8M471.6 131.5h3.8M473.5 129.6v3.8M416.6 127.5h3.8M418.5 125.6v3.8M388.6 127.5h3.8M390.5 125.6v3.8M469.6 116.5h3.8M471.5 114.6v3.8M382.6 128.5h3.8M384.5 126.6v3.8M455.6 124.5h3.8M457.5 122.6v3.8M395.6 141.5h3.8M397.5 139.6v3.8M472.6 129.5h3.8M474.5 127.6v3.8M453.6 121.5h3.8M455.5 119.6v3.8M428.6 114.5h3.8M430.5 112.6v3.8M372.6 120.5h3.8M374.5 118.6v3.8M411.6 135.5h3.8M413.5 133.6v3.8M432.6 130.5h3.8M434.5 128.6v3.8M410.6 110.5h3.8M412.5 108.6v3.8M387.6 134.5h3.8M389.5 132.6v3.8M370.6 142.5h3.8M372.5 140.6v3.8M394.6 133.5h3.8M396.5 131.6v3.8M408.6 119.5h3.8M410.5 117.6v3.8M409.6 108.5h3.8M411.5 106.6v3.8M439.6 128.5h3.8M441.5 126.6v3.8M470.6 128.5h3.8M472.5 126.6v3.8M430.6 135.5h3.8M432.5 133.6v3.8M469.6 118.5h3.8M471.5 116.6v3.8M391.6 118.5h3.8M393.5 116.6v3.8M447.6 122.5h3.8M449.5 120.6v3.8M424.6 116.5h3.8M426.5 114.6v3.8M354.6 113.5h3.8M356.5 111.6v3.8M389.6 143.5h3.8M391.5 141.6v3.8M430.6 116.5h3.8M432.5 114.6v3.8M453.6 114.5h3.8M455.5 112.6v3.8M373.6 112.5h3.8M375.5 110.6v3.8M459.6 117.5h3.8M461.5 115.6v3.8M482.6 113.5h3.8M484.5 111.6v3.8M395.6 114.5h3.8M397.5 112.6v3.8M473.6 116.5h3.8M475.5 114.6v3.8M393.6 133.5h3.8M395.5 131.6v3.8M385.6 126.5h3.8M387.5 124.6v3.8M429.6 126.5h3.8M431.5 124.6v3.8M467.6 123.5h3.8M469.5 121.6v3.8M398.6 143.5h3.8M400.5 141.6v3.8M384.6 142.5h3.8M386.5 140.6v3.8M407.6 118.5h3.8M409.5 116.6v3.8M448.6 120.5h3.8M450.5 118.6v3.8M434.6 119.5h3.8M436.5 117.6v3.8M340.6 126.5h3.8M342.5 124.6v3.8M478.6 126.5h3.8M480.5 124.6v3.8M395.6 108.5h3.8M397.5 106.6v3.8M447.6 115.5h3.8M449.5 113.6v3.8M446.6 122.5h3.8M448.5 120.6v3.8M357.6 142.5h3.8M359.5 140.6v3.8M423.6 131.5h3.8M425.5 129.6v3.8M441.6 130.5h3.8M443.5 128.6v3.8M458.6 116.5h3.8M460.5 114.6v3.8M471.6 115.5h3.8M473.5 113.6v3.8M476.6 111.5h3.8M478.5 109.6v3.8M353.6 115.5h3.8M355.5 113.6v3.8M380.6 123.5h3.8M382.5 121.6v3.8M457.6 128.5h3.8M459.5 126.6v3.8M370.6 141.5h3.8M372.5 139.6v3.8M406.6 127.5h3.8M408.5 125.6v3.8M358.6 132.5h3.8M360.5 130.6v3.8M455.6 119.5h3.8M457.5 117.6v3.8M454.6 125.5h3.8M456.5 123.6v3.8M392.6 142.5h3.8M394.5 140.6v3.8M450.6 130.5h3.8M452.5 128.6v3.8M442.6 119.5h3.8M444.5 117.6v3.8M383.6 123.5h3.8M385.5 121.6v3.8M475.6 130.5h3.8M477.5 128.6v3.8M366.6 113.5h3.8M368.5 111.6v3.8M441.6 128.5h3.8M443.5 126.6v3.8M473.6 129.5h3.8M475.5 127.6v3.8M386.6 128.5h3.8M388.5 126.6v3.8M374.6 118.5h3.8M376.5 116.6v3.8M406.6 138.5h3.8M408.5 136.6v3.8M469.6 117.5h3.8M471.5 115.6v3.8M438.6 129.5h3.8M440.5 127.6v3.8M386.6 125.5h3.8M388.5 123.6v3.8M473.6 127.5h3.8M475.5 125.6v3.8M399.6 118.5h3.8M401.5 116.6v3.8M358.6 139.5h3.8M360.5 137.6v3.8M469.6 117.5h3.8M471.5 115.6v3.8M477.6 131.5h3.8M479.5 129.6v3.8M466.6 116.5h3.8M468.5 114.6v3.8M420.6 141.5h3.8M422.5 139.6v3.8M460.6 124.5h3.8M462.5 122.6v3.8M448.6 122.5h3.8M450.5 120.6v3.8M428.6 119.5h3.8M430.5 117.6v3.8M436.6 120.5h3.8M438.5 118.6v3.8M374.6 111.5h3.8M376.5 109.6v3.8M385.6 140.5h3.8M387.5 138.6v3.8M366.6 140.5h3.8M368.5 138.6v3.8M470.6 117.5h3.8M472.5 115.6v3.8M444.6 132.5h3.8M446.5 130.6v3.8M464.6 119.5h3.8M466.5 117.6v3.8M440.6 116.5h3.8M442.5 114.6v3.8M348.6 114.5h3.8M350.5 112.6v3.8M414.6 139.5h3.8M416.5 137.6v3.8M368.6 116.5h3.8M370.5 114.6v3.8M401.6 135.5h3.8M403.5 133.6v3.8M401.6 124.5h3.8M403.5 122.6v3.8M473.6 113.5h3.8M475.5 111.6v3.8M412.6 115.5h3.8M414.5 113.6v3.8M446.6 125.5h3.8M448.5 123.6v3.8M358.6 111.5h3.8M360.5 109.6v3.8M452.6 131.5h3.8M454.5 129.6v3.8M472.6 127.5h3.8M474.5 125.6v3.8M375.6 135.5h3.8M377.5 133.6v3.8M362.6 130.5h3.8M364.5 128.6v3.8M401.6 134.5h3.8M403.5 132.6v3.8M411.6 125.5h3.8M413.5 123.6v3.8M457.6 124.5h3.8M459.5 122.6v3.8M447.6 119.5h3.8M449.5 117.6v3.8M383.6 139.5h3.8M385.5 137.6v3.8M471.6 123.5h3.8M473.5 121.6v3.8M425.6 114.5h3.8M427.5 112.6v3.8M438.6 117.5h3.8M440.5 115.6v3.8M379.6 121.5h3.8M381.5 119.6v3.8M421.6 139.5h3.8M423.5 137.6v3.8M372.6 129.5h3.8M374.5 127.6v3.8M361.6 111.5h3.8M363.5 109.6v3.8M371.6 109.5h3.8M373.5 107.6v3.8M346.6 116.5h3.8M348.5 114.6v3.8M413.6 117.5h3.8M415.5 115.6v3.8M453.6 125.5h3.8M455.5 123.6v3.8M374.6 133.5h3.8M376.5 131.6v3.8M444.6 130.5h3.8M446.5 128.6v3.8M432.6 130.5h3.8M434.5 128.6v3.8M473.6 129.5h3.8M475.5 127.6v3.8M475.6 129.5h3.8M477.5 127.6v3.8M346.6 115.5h3.8M348.5 113.6v3.8M358.6 117.5h3.8M360.5 115.6v3.8M394.6 114.5h3.8M396.5 112.6v3.8M387.6 118.5h3.8M389.5 116.6v3.8M456.6 122.5h3.8M458.5 120.6v3.8M449.6 119.5h3.8M451.5 117.6v3.8M429.6 128.5h3.8M431.5 126.6v3.8M374.6 132.5h3.8M376.5 130.6v3.8M376.6 112.5h3.8M378.5 110.6v3.8M429.6 120.5h3.8M431.5 118.6v3.8M383.6 118.5h3.8M385.5 116.6v3.8M473.6 132.5h3.8M475.5 130.6v3.8M404.6 118.5h3.8M406.5 116.6v3.8M463.6 118.5h3.8M465.5 116.6v3.8M404.6 108.5h3.8M406.5 106.6v3.8M374.6 107.5h3.8M376.5 105.6v3.8M454.6 132.5h3.8M456.5 130.6v3.8M377.6 141.5h3.8M379.5 139.6v3.8M422.6 110.5h3.8M424.5 108.6v3.8M432.6 123.5h3.8M434.5 121.6v3.8M404.6 113.5h3.8M406.5 111.6v3.8M352.6 116.5h3.8M354.5 114.6v3.8M468.6 113.5h3.8M470.5 111.6v3.8M338.6 116.5h3.8M340.5 114.6v3.8M436.6 124.5h3.8M438.5 122.6v3.8M364.6 120.5h3.8M366.5 118.6v3.8M391.6 120.5h3.8M393.5 118.6v3.8M469.6 121.5h3.8M471.5 119.6v3.8M423.6 135.5h3.8M425.5 133.6v3.8M353.6 140.5h3.8M355.5 138.6v3.8M362.6 110.5h3.8M364.5 108.6v3.8M430.6 133.5h3.8M432.5 131.6v3.8M418.6 114.5h3.8M420.5 112.6v3.8M427.6 112.5h3.8M429.5 110.6v3.8M386.6 117.5h3.8M388.5 115.6v3.8M473.6 112.5h3.8M475.5 110.6v3.8M369.6 109.5h3.8M371.5 107.6v3.8M443.6 132.5h3.8M445.5 130.6v3.8M384.6 134.5h3.8M386.5 132.6v3.8M419.6 138.5h3.8M421.5 136.6v3.8M367.6 135.5h3.8M369.5 133.6v3.8M456.6 124.5h3.8M458.5 122.6v3.8M451.6 124.5h3.8M453.5 122.6v3.8M393.6 115.5h3.8M395.5 113.6v3.8M346.6 131.5h3.8M348.5 129.6v3.8M409.6 121.5h3.8M411.5 119.6v3.8M339.6 113.5h3.8M341.5 111.6v3.8M435.6 114.5h3.8M437.5 112.6v3.8M351.6 129.5h3.8M353.5 127.6v3.8M413.6 126.5h3.8M415.5 124.6v3.8M448.6 123.5h3.8M450.5 121.6v3.8M472.6 115.5h3.8M474.5 113.6v3.8M453.6 128.5h3.8M455.5 126.6v3.8M370.6 143.5h3.8M372.5 141.6v3.8M393.6 125.5h3.8M395.5 123.6v3.8M415.6 132.5h3.8M417.5 130.6v3.8M433.6 124.5h3.8M435.5 122.6v3.8M460.6 129.5h3.8M462.5 127.6v3.8M456.6 121.5h3.8M458.5 119.6v3.8M469.6 119.5h3.8M471.5 117.6v3.8M416.6 137.5h3.8M418.5 135.6v3.8M406.6 109.5h3.8M408.5 107.6v3.8M381.6 128.5h3.8M383.5 126.6v3.8M362.6 110.5h3.8M364.5 108.6v3.8M382.6 114.5h3.8M384.5 112.6v3.8M456.6 124.5h3.8M458.5 122.6v3.8M395.6 112.5h3.8M397.5 110.6v3.8M370.6 116.5h3.8M372.5 114.6v3.8M353.6 123.5h3.8M355.5 121.6v3.8M413.6 128.5h3.8M415.5 126.6v3.8M449.6 127.5h3.8M451.5 125.6v3.8M379.6 126.5h3.8M381.5 124.6v3.8M430.6 134.5h3.8M432.5 132.6v3.8M360.6 139.5h3.8M362.5 137.6v3.8M379.6 114.5h3.8M381.5 112.6v3.8M456.6 134.5h3.8M458.5 132.6v3.8M477.6 118.5h3.8M479.5 116.6v3.8M343.6 118.5h3.8M345.5 116.6v3.8M408.6 111.5h3.8M410.5 109.6v3.8M436.6 119.5h3.8M438.5 117.6v3.8M348.6 138.5h3.8M350.5 136.6v3.8M387.6 119.5h3.8M389.5 117.6v3.8M367.6 143.5h3.8M369.5 141.6v3.8M397.6 139.5h3.8M399.5 137.6v3.8M346.6 114.5h3.8M348.5 112.6v3.8M448.6 120.5h3.8M450.5 118.6v3.8M434.6 120.5h3.8M436.5 118.6v3.8M466.6 133.5h3.8M468.5 131.6v3.8M418.6 138.5h3.8M420.5 136.6v3.8M382.6 114.5h3.8M384.5 112.6v3.8M356.6 109.5h3.8M358.5 107.6v3.8M443.6 112.5h3.8M445.5 110.6v3.8M401.6 116.5h3.8M403.5 114.6v3.8M457.6 116.5h3.8M459.5 114.6v3.8M361.6 115.5h3.8M363.5 113.6v3.8M439.6 127.5h3.8M441.5 125.6v3.8M450.6 122.5h3.8M452.5 120.6v3.8M427.6 134.5h3.8M429.5 132.6v3.8M435.6 133.5h3.8M437.5 131.6v3.8M359.6 140.5h3.8M361.5 138.6v3.8M406.6 117.5h3.8M408.5 115.6v3.8M354.6 128.5h3.8M356.5 126.6v3.8M369.6 135.5h3.8M371.5 133.6v3.8M408.6 124.5h3.8M410.5 122.6v3.8M437.6 118.5h3.8M439.5 116.6v3.8M394.6 125.5h3.8M396.5 123.6v3.8M407.6 110.5h3.8M409.5 108.6v3.8M399.6 113.5h3.8M401.5 111.6v3.8M456.6 119.5h3.8M458.5 117.6v3.8M385.6 129.5h3.8M387.5 127.6v3.8M362.6 121.5h3.8M364.5 119.6v3.8M395.6 120.5h3.8M397.5 118.6v3.8M390.6 141.5h3.8M392.5 139.6v3.8M475.6 122.5h3.8M477.5 120.6v3.8M442.6 127.5h3.8M444.5 125.6v3.8M381.6 108.5h3.8M383.5 106.6v3.8M418.6 140.5h3.8M420.5 138.6v3.8M360.6 112.5h3.8M362.5 110.6v3.8M441.6 131.5h3.8M443.5 129.6v3.8M406.6 136.5h3.8M408.5 134.6v3.8M441.6 122.5h3.8M443.5 120.6v3.8M475.6 127.5h3.8M477.5 125.6v3.8M462.6 118.5h3.8M464.5 116.6v3.8M358.6 117.5h3.8M360.5 115.6v3.8M475.6 124.5h3.8M477.5 122.6v3.8M478.6 131.5h3.8M480.5 129.6v3.8M412.6 118.5h3.8M414.5 116.6v3.8M479.6 122.5h3.8M481.5 120.6v3.8M350.6 124.5h3.8M352.5 122.6v3.8M390.6 129.5h3.8M392.5 127.6v3.8M357.6 131.5h3.8M359.5 129.6v3.8M401.6 120.5h3.8M403.5 118.6v3.8M478.6 112.5h3.8M480.5 110.6v3.8M391.6 130.5h3.8M393.5 128.6v3.8M468.6 129.5h3.8M470.5 127.6v3.8M352.6 125.5h3.8M354.5 123.6v3.8M411.6 119.5h3.8M413.5 117.6v3.8M440.6 129.5h3.8M442.5 127.6v3.8M401.6 140.5h3.8M403.5 138.6v3.8M398.6 140.5h3.8M400.5 138.6v3.8M360.6 132.5h3.8M362.5 130.6v3.8M413.6 134.5h3.8M415.5 132.6v3.8M456.6 128.5h3.8M458.5 126.6v3.8M433.6 113.5h3.8M435.5 111.6v3.8M415.6 142.5h3.8M417.5 140.6v3.8M414.6 122.5h3.8M416.5 120.6v3.8M362.6 115.5h3.8M364.5 113.6v3.8M366.6 132.5h3.8M368.5 130.6v3.8M389.6 144.5h3.8M391.5 142.6v3.8M444.6 133.5h3.8M446.5 131.6v3.8M446.6 121.5h3.8M448.5 119.6v3.8M385.6 121.5h3.8M387.5 119.6v3.8M447.6 120.5h3.8M449.5 118.6v3.8M458.6 121.5h3.8M460.5 119.6v3.8M445.6 113.5h3.8M447.5 111.6v3.8M413.6 138.5h3.8M415.5 136.6v3.8M370.6 118.5h3.8M372.5 116.6v3.8M479.6 127.5h3.8M481.5 125.6v3.8M456.6 123.5h3.8M458.5 121.6v3.8M412.6 109.5h3.8M414.5 107.6v3.8M376.6 134.5h3.8M378.5 132.6v3.8M457.6 115.5h3.8M459.5 113.6v3.8M349.6 123.5h3.8M351.5 121.6v3.8M386.6 127.5h3.8M388.5 125.6v3.8M369.6 112.5h3.8M371.5 110.6v3.8M457.6 116.5h3.8M459.5 114.6v3.8M424.6 133.5h3.8M426.5 131.6v3.8M415.6 135.5h3.8M417.5 133.6v3.8M391.6 112.5h3.8M393.5 110.6v3.8M359.6 122.5h3.8M361.5 120.6v3.8M467.6 123.5h3.8M469.5 121.6v3.8M478.6 126.5h3.8M480.5 124.6v3.8M390.6 111.5h3.8M392.5 109.6v3.8M401.6 126.5h3.8M403.5 124.6v3.8M414.6 132.5h3.8M416.5 130.6v3.8M377.6 122.5h3.8M379.5 120.6v3.8M354.6 133.5h3.8M356.5 131.6v3.8M340.6 116.5h3.8M342.5 114.6v3.8M352.6 138.5h3.8M354.5 136.6v3.8M458.6 118.5h3.8M460.5 116.6v3.8M420.6 135.5h3.8M422.5 133.6v3.8M441.6 114.5h3.8M443.5 112.6v3.8M450.6 122.5h3.8M452.5 120.6v3.8M385.6 142.5h3.8M387.5 140.6v3.8M440.6 124.5h3.8M442.5 122.6v3.8M454.6 124.5h3.8M456.5 122.6v3.8M384.6 120.5h3.8M386.5 118.6v3.8M366.6 124.5h3.8M368.5 122.6v3.8M470.6 124.5h3.8M472.5 122.6v3.8M384.6 137.5h3.8M386.5 135.6v3.8M406.6 125.5h3.8M408.5 123.6v3.8M356.6 135.5h3.8M358.5 133.6v3.8M428.6 115.5h3.8M430.5 113.6v3.8M412.6 126.5h3.8M414.5 124.6v3.8M476.6 118.5h3.8M478.5 116.6v3.8M465.6 119.5h3.8M467.5 117.6v3.8M354.6 133.5h3.8M356.5 131.6v3.8M400.6 137.5h3.8M402.5 135.6v3.8M435.6 122.5h3.8M437.5 120.6v3.8M462.6 117.5h3.8M464.5 115.6v3.8M449.6 126.5h3.8M451.5 124.6v3.8M425.6 127.5h3.8M427.5 125.6v3.8M420.6 113.5h3.8M422.5 111.6v3.8M360.6 123.5h3.8M362.5 121.6v3.8M468.6 124.5h3.8M470.5 122.6v3.8M357.6 119.5h3.8M359.5 117.6v3.8M425.6 110.5h3.8M427.5 108.6v3.8M404.6 143.5h3.8M406.5 141.6v3.8M451.6 116.5h3.8M453.5 114.6v3.8M459.6 129.5h3.8M461.5 127.6v3.8M387.6 118.5h3.8M389.5 116.6v3.8M475.6 129.5h3.8M477.5 127.6v3.8M462.6 115.5h3.8M464.5 113.6v3.8M422.6 118.5h3.8M424.5 116.6v3.8M422.6 111.5h3.8M424.5 109.6v3.8M407.6 113.5h3.8M409.5 111.6v3.8M351.6 130.5h3.8M353.5 128.6v3.8M392.6 124.5h3.8M394.5 122.6v3.8M466.6 127.5h3.8M468.5 125.6v3.8M434.6 116.5h3.8M436.5 114.6v3.8M352.6 121.5h3.8M354.5 119.6v3.8M372.6 139.5h3.8M374.5 137.6v3.8M390.6 117.5h3.8M392.5 115.6v3.8M393.6 142.5h3.8M395.5 140.6v3.8M406.6 130.5h3.8M408.5 128.6v3.8M430.6 134.5h3.8M432.5 132.6v3.8M400.6 124.5h3.8M402.5 122.6v3.8M379.6 137.5h3.8M381.5 135.6v3.8M421.6 130.5h3.8M423.5 128.6v3.8M358.6 138.5h3.8M360.5 136.6v3.8M423.6 126.5h3.8M425.5 124.6v3.8M371.6 121.5h3.8M373.5 119.6v3.8M435.6 131.5h3.8M437.5 129.6v3.8M429.6 130.5h3.8M431.5 128.6v3.8M424.6 111.5h3.8M426.5 109.6v3.8M352.6 129.5h3.8M354.5 127.6v3.8M355.6 109.5h3.8M357.5 107.6v3.8M351.6 121.5h3.8M353.5 119.6v3.8M400.6 136.5h3.8M402.5 134.6v3.8M412.6 110.5h3.8M414.5 108.6v3.8M473.6 125.5h3.8M475.5 123.6v3.8M456.6 116.5h3.8M458.5 114.6v3.8M428.6 109.5h3.8M430.5 107.6v3.8M410.6 117.5h3.8M412.5 115.6v3.8M432.6 116.5h3.8M434.5 114.6v3.8M449.6 114.5h3.8M451.5 112.6v3.8M374.6 129.5h3.8M376.5 127.6v3.8M441.6 122.5h3.8M443.5 120.6v3.8M424.6 115.5h3.8M426.5 113.6v3.8M393.6 114.5h3.8M395.5 112.6v3.8M419.6 110.5h3.8M421.5 108.6v3.8M419.6 137.5h3.8M421.5 135.6v3.8M341.6 127.5h3.8M343.5 125.6v3.8M355.6 131.5h3.8M357.5 129.6v3.8M375.6 126.5h3.8M377.5 124.6v3.8M477.6 113.5h3.8M479.5 111.6v3.8M405.6 131.5h3.8M407.5 129.6v3.8M422.6 123.5h3.8M424.5 121.6v3.8M435.6 129.5h3.8M437.5 127.6v3.8M460.6 133.5h3.8M462.5 131.6v3.8M463.6 127.5h3.8M465.5 125.6v3.8M409.6 113.5h3.8M411.5 111.6v3.8M427.6 122.5h3.8M429.5 120.6v3.8M410.6 124.5h3.8M412.5 122.6v3.8M446.6 113.5h3.8M448.5 111.6v3.8M478.6 128.5h3.8M480.5 126.6v3.8M445.6 127.5h3.8M447.5 125.6v3.8M441.6 128.5h3.8M443.5 126.6v3.8M474.6 128.5h3.8M476.5 126.6v3.8M383.6 116.5h3.8M385.5 114.6v3.8M358.6 140.5h3.8M360.5 138.6v3.8M350.6 117.5h3.8M352.5 115.6v3.8M346.6 125.5h3.8M348.5 123.6v3.8M404.6 138.5h3.8M406.5 136.6v3.8M408.6 112.5h3.8M410.5 110.6v3.8M351.6 114.5h3.8M353.5 112.6v3.8M391.6 141.5h3.8M393.5 139.6v3.8M380.6 122.5h3.8M382.5 120.6v3.8M420.6 136.5h3.8M422.5 134.6v3.8M389.6 111.5h3.8M391.5 109.6v3.8M370.6 120.5h3.8M372.5 118.6v3.8M407.6 124.5h3.8M409.5 122.6v3.8M401.6 112.5h3.8M403.5 110.6v3.8M451.6 130.5h3.8M453.5 128.6v3.8M409.6 125.5h3.8M411.5 123.6v3.8M367.6 118.5h3.8M369.5 116.6v3.8M413.6 138.5h3.8M415.5 136.6v3.8M442.6 128.5h3.8M444.5 126.6v3.8M366.6 142.5h3.8M368.5 140.6v3.8M419.6 140.5h3.8M421.5 138.6v3.8M419.6 109.5h3.8M421.5 107.6v3.8M418.6 110.5h3.8M420.5 108.6v3.8M382.6 127.5h3.8M384.5 125.6v3.8M466.6 126.5h3.8M468.5 124.6v3.8M400.6 132.5h3.8M402.5 130.6v3.8M402.6 110.5h3.8M404.5 108.6v3.8M412.6 111.5h3.8M414.5 109.6v3.8M431.6 121.5h3.8M433.5 119.6v3.8M467.6 112.5h3.8M469.5 110.6v3.8M465.6 123.5h3.8M467.5 121.6v3.8M386.6 115.5h3.8M388.5 113.6v3.8M377.6 126.5h3.8M379.5 124.6v3.8M379.6 126.5h3.8M381.5 124.6v3.8M364.6 132.5h3.8M366.5 130.6v3.8M368.6 124.5h3.8M370.5 122.6v3.8M457.6 126.5h3.8M459.5 124.6v3.8M365.6 113.5h3.8M367.5 111.6v3.8M447.6 119.5h3.8M449.5 117.6v3.8M455.6 125.5h3.8M457.5 123.6v3.8M355.6 124.5h3.8M357.5 122.6v3.8M356.6 136.5h3.8M358.5 134.6v3.8M376.6 116.5h3.8M378.5 114.6v3.8M419.6 132.5h3.8M421.5 130.6v3.8M396.6 138.5h3.8M398.5 136.6v3.8M410.6 128.5h3.8M412.5 126.6v3.8M426.6 132.5h3.8M428.5 130.6v3.8M419.6 117.5h3.8M421.5 115.6v3.8M374.6 110.5h3.8M376.5 108.6v3.8M460.6 126.5h3.8M462.5 124.6v3.8M342.6 120.5h3.8M344.5 118.6v3.8M443.6 120.5h3.8M445.5 118.6v3.8M435.6 115.5h3.8M437.5 113.6v3.8M424.6 118.5h3.8M426.5 116.6v3.8M481.6 119.5h3.8M483.5 117.6v3.8M476.6 127.5h3.8M478.5 125.6v3.8M470.6 111.5h3.8M472.5 109.6v3.8M451.6 128.5h3.8M453.5 126.6v3.8M350.6 120.5h3.8M352.5 118.6v3.8M384.6 136.5h3.8M386.5 134.6v3.8M404.6 115.5h3.8M406.5 113.6v3.8M396.6 140.5h3.8M398.5 138.6v3.8M391.6 123.5h3.8M393.5 121.6v3.8M383.6 128.5h3.8M385.5 126.6v3.8M355.6 114.5h3.8M357.5 112.6v3.8M352.6 119.5h3.8M354.5 117.6v3.8M365.6 131.5h3.8M367.5 129.6v3.8M479.6 128.5h3.8M481.5 126.6v3.8M408.6 126.5h3.8M410.5 124.6v3.8M465.6 118.5h3.8M467.5 116.6v3.8M400.6 136.5h3.8M402.5 134.6v3.8M388.6 135.5h3.8M390.5 133.6v3.8M469.6 124.5h3.8M471.5 122.6v3.8M396.6 127.5h3.8M398.5 125.6v3.8M400.6 133.5h3.8M402.5 131.6v3.8M395.6 130.5h3.8M397.5 128.6v3.8M380.6 139.5h3.8M382.5 137.6v3.8M446.6 127.5h3.8M448.5 125.6v3.8M464.6 126.5h3.8M466.5 124.6v3.8M402.6 144.5h3.8M404.5 142.6v3.8M450.6 130.5h3.8M452.5 128.6v3.8M398.6 130.5h3.8M400.5 128.6v3.8M417.6 137.5h3.8M419.5 135.6v3.8M396.6 120.5h3.8M398.5 118.6v3.8M394.6 131.5h3.8M396.5 129.6v3.8M338.6 117.5h3.8M340.5 115.6v3.8M385.6 113.5h3.8M387.5 111.6v3.8M371.6 117.5h3.8M373.5 115.6v3.8M379.6 126.5h3.8M381.5 124.6v3.8M467.6 131.5h3.8M469.5 129.6v3.8M434.6 114.5h3.8M436.5 112.6v3.8M412.6 116.5h3.8M414.5 114.6v3.8M408.6 117.5h3.8M410.5 115.6v3.8M357.6 139.5h3.8M359.5 137.6v3.8M393.6 146.5h3.8M395.5 144.6v3.8M432.6 123.5h3.8M434.5 121.6v3.8M355.6 133.5h3.8M357.5 131.6v3.8M396.6 112.5h3.8M398.5 110.6v3.8M449.6 128.5h3.8M451.5 126.6v3.8M367.6 123.5h3.8M369.5 121.6v3.8M458.6 131.5h3.8M460.5 129.6v3.8M360.6 141.5h3.8M362.5 139.6v3.8M377.6 135.5h3.8M379.5 133.6v3.8M384.6 122.5h3.8M386.5 120.6v3.8M408.6 134.5h3.8M410.5 132.6v3.8M409.6 125.5h3.8M411.5 123.6v3.8M348.6 124.5h3.8M350.5 122.6v3.8M471.6 124.5h3.8M473.5 122.6v3.8M391.6 115.5h3.8M393.5 113.6v3.8M359.6 109.5h3.8M361.5 107.6v3.8M459.6 115.5h3.8M461.5 113.6v3.8M356.6 133.5h3.8M358.5 131.6v3.8M348.6 135.5h3.8M350.5 133.6v3.8M388.6 110.5h3.8M390.5 108.6v3.8M387.6 122.5h3.8M389.5 120.6v3.8M395.6 141.5h3.8M397.5 139.6v3.8M444.6 132.5h3.8M446.5 130.6v3.8M433.6 116.5h3.8M435.5 114.6v3.8M398.6 138.5h3.8M400.5 136.6v3.8M369.6 140.5h3.8M371.5 138.6v3.8M477.6 125.5h3.8M479.5 123.6v3.8M433.6 121.5h3.8M435.5 119.6v3.8M457.6 114.5h3.8M459.5 112.6v3.8M408.6 126.5h3.8M410.5 124.6v3.8M395.6 117.5h3.8M397.5 115.6v3.8M378.6 114.5h3.8M380.5 112.6v3.8M399.6 136.5h3.8M401.5 134.6v3.8M472.6 132.5h3.8M474.5 130.6v3.8M405.6 109.5h3.8M407.5 107.6v3.8M391.6 136.5h3.8M393.5 134.6v3.8M349.6 135.5h3.8M351.5 133.6v3.8M469.6 110.5h3.8M471.5 108.6v3.8M407.6 125.5h3.8M409.5 123.6v3.8M446.6 121.5h3.8M448.5 119.6v3.8M403.6 126.5h3.8M405.5 124.6v3.8M398.6 137.5h3.8M400.5 135.6v3.8M433.6 133.5h3.8M435.5 131.6v3.8M411.6 143.5h3.8M413.5 141.6v3.8M409.6 124.5h3.8M411.5 122.6v3.8M348.6 126.5h3.8M350.5 124.6v3.8M352.6 120.5h3.8M354.5 118.6v3.8M389.6 116.5h3.8M391.5 114.6v3.8M462.6 121.5h3.8M464.5 119.6v3.8M362.6 121.5h3.8M364.5 119.6v3.8M453.6 130.5h3.8M455.5 128.6v3.8M353.6 113.5h3.8M355.5 111.6v3.8M443.6 114.5h3.8M445.5 112.6v3.8M406.6 111.5h3.8M408.5 109.6v3.8M373.6 107.5h3.8M375.5 105.6v3.8M442.6 123.5h3.8M444.5 121.6v3.8M422.6 110.5h3.8M424.5 108.6v3.8M383.6 141.5h3.8M385.5 139.6v3.8M352.6 129.5h3.8M354.5 127.6v3.8M394.6 116.5h3.8M396.5 114.6v3.8M461.6 114.5h3.8M463.5 112.6v3.8M346.6 128.5h3.8M348.5 126.6v3.8M399.6 136.5h3.8M401.5 134.6v3.8M376.6 126.5h3.8M378.5 124.6v3.8M476.6 122.5h3.8M478.5 120.6v3.8M474.6 110.5h3.8M476.5 108.6v3.8M425.6 132.5h3.8M427.5 130.6v3.8M414.6 125.5h3.8M416.5 123.6v3.8M442.6 129.5h3.8M444.5 127.6v3.8M394.6 111.5h3.8M396.5 109.6v3.8M436.6 122.5h3.8M438.5 120.6v3.8M455.6 119.5h3.8M457.5 117.6v3.8M367.6 115.5h3.8M369.5 113.6v3.8M437.6 132.5h3.8M439.5 130.6v3.8M383.6 119.5h3.8M385.5 117.6v3.8M401.6 142.5h3.8M403.5 140.6v3.8M404.6 143.5h3.8M406.5 141.6v3.8M465.6 132.5h3.8M467.5 130.6v3.8M407.6 132.5h3.8M409.5 130.6v3.8M348.6 139.5h3.8M350.5 137.6v3.8M400.6 142.5h3.8M402.5 140.6v3.8M464.6 110.5h3.8M466.5 108.6v3.8M437.6 117.5h3.8M439.5 115.6v3.8M465.6 121.5h3.8M467.5 119.6v3.8M462.6 131.5h3.8M464.5 129.6v3.8M421.6 126.5h3.8M423.5 124.6v3.8M415.6 122.5h3.8M417.5 120.6v3.8M453.6 117.5h3.8M455.5 115.6v3.8M434.6 134.5h3.8M436.5 132.6v3.8M467.6 114.5h3.8M469.5 112.6v3.8M470.6 129.5h3.8M472.5 127.6v3.8M476.6 122.5h3.8M478.5 120.6v3.8M421.6 122.5h3.8M423.5 120.6v3.8M343.6 126.5h3.8M345.5 124.6v3.8M401.6 128.5h3.8M403.5 126.6v3.8M402.6 117.5h3.8M404.5 115.6v3.8M406.6 123.5h3.8M408.5 121.6v3.8M412.6 136.5h3.8M414.5 134.6v3.8M390.6 147.5h3.8M392.5 145.6v3.8M381.6 150.5h3.8M383.5 148.6v3.8M383.6 143.5h3.8M385.5 141.6v3.8M399.6 144.5h3.8M401.5 142.6v3.8M384.6 147.5h3.8M386.5 145.6v3.8M415.6 135.5h3.8M417.5 133.6v3.8M381.6 147.5h3.8M383.5 145.6v3.8M388.6 134.5h3.8M390.5 132.6v3.8M400.6 151.5h3.8M402.5 149.6v3.8M400.6 147.5h3.8M402.5 145.6v3.8M413.6 144.5h3.8M415.5 142.6v3.8M384.6 136.5h3.8M386.5 134.6v3.8M376.6 146.5h3.8M378.5 144.6v3.8M402.6 136.5h3.8M404.5 134.6v3.8M385.6 135.5h3.8M387.5 133.6v3.8M389.6 141.5h3.8M391.5 139.6v3.8M371.6 138.5h3.8M373.5 136.6v3.8M417.6 139.5h3.8M419.5 137.6v3.8M382.6 134.5h3.8M384.5 132.6v3.8M404.6 133.5h3.8M406.5 131.6v3.8M400.6 149.5h3.8M402.5 147.6v3.8M401.6 145.5h3.8M403.5 143.6v3.8M380.6 146.5h3.8M382.5 144.6v3.8M408.6 144.5h3.8M410.5 142.6v3.8M368.6 134.5h3.8M370.5 132.6v3.8M381.6 149.5h3.8M383.5 147.6v3.8M403.6 142.5h3.8M405.5 140.6v3.8M387.6 137.5h3.8M389.5 135.6v3.8M397.6 134.5h3.8M399.5 132.6v3.8M417.6 144.5h3.8M419.5 142.6v3.8M366.6 140.5h3.8M368.5 138.6v3.8M390.6 150.5h3.8M392.5 148.6v3.8M373.6 133.5h3.8M375.5 131.6v3.8M392.6 146.5h3.8M394.5 144.6v3.8M363.6 146.5h3.8M365.5 144.6v3.8M387.6 138.5h3.8M389.5 136.6v3.8M400.6 145.5h3.8M402.5 143.6v3.8M395.6 147.5h3.8M397.5 145.6v3.8M404.6 145.5h3.8M406.5 143.6v3.8M389.6 144.5h3.8M391.5 142.6v3.8M402.6 146.5h3.8M404.5 144.6v3.8M365.6 142.5h3.8M367.5 140.6v3.8M380.6 145.5h3.8M382.5 143.6v3.8M400.6 145.5h3.8M402.5 143.6v3.8M407.6 148.5h3.8M409.5 146.6v3.8M380.6 143.5h3.8M382.5 141.6v3.8M388.6 145.5h3.8M390.5 143.6v3.8M391.6 143.5h3.8M393.5 141.6v3.8M411.6 138.5h3.8M413.5 136.6v3.8M392.6 142.5h3.8M394.5 140.6v3.8M395.6 140.5h3.8M397.5 138.6v3.8M393.6 138.5h3.8M395.5 136.6v3.8M396.6 140.5h3.8M398.5 138.6v3.8M372.6 140.5h3.8M374.5 138.6v3.8M400.6 141.5h3.8M402.5 139.6v3.8M405.6 134.5h3.8M407.5 132.6v3.8M375.6 151.5h3.8M377.5 149.6v3.8M385.6 141.5h3.8M387.5 139.6v3.8M373.6 142.5h3.8M375.5 140.6v3.8M372.6 138.5h3.8M374.5 136.6v3.8M412.6 136.5h3.8M414.5 134.6v3.8M401.6 137.5h3.8M403.5 135.6v3.8M368.6 144.5h3.8M370.5 142.6v3.8M400.6 148.5h3.8M402.5 146.6v3.8M389.6 140.5h3.8M391.5 138.6v3.8M392.6 150.5h3.8M394.5 148.6v3.8M388.6 142.5h3.8M390.5 140.6v3.8M369.6 142.5h3.8M371.5 140.6v3.8M404.6 135.5h3.8M406.5 133.6v3.8M368.6 142.5h3.8M370.5 140.6v3.8M380.6 138.5h3.8M382.5 136.6v3.8M383.6 141.5h3.8M385.5 139.6v3.8M395.6 143.5h3.8M397.5 141.6v3.8M372.6 143.5h3.8M374.5 141.6v3.8M396.6 142.5h3.8M398.5 140.6v3.8M382.6 143.5h3.8M384.5 141.6v3.8M407.6 142.5h3.8M409.5 140.6v3.8M377.6 138.5h3.8M379.5 136.6v3.8M389.6 139.5h3.8M391.5 137.6v3.8M381.6 138.5h3.8M383.5 136.6v3.8M380.6 150.5h3.8M382.5 148.6v3.8M374.6 146.5h3.8M376.5 144.6v3.8M371.6 147.5h3.8M373.5 145.6v3.8M366.6 143.5h3.8M368.5 141.6v3.8M380.6 149.5h3.8M382.5 147.6v3.8M383.6 145.5h3.8M385.5 143.6v3.8M418.6 135.5h3.8M420.5 133.6v3.8M403.6 148.5h3.8M405.5 146.6v3.8M384.6 143.5h3.8M386.5 141.6v3.8M381.6 147.5h3.8M383.5 145.6v3.8M401.6 149.5h3.8M403.5 147.6v3.8M385.6 140.5h3.8M387.5 138.6v3.8M389.6 142.5h3.8M391.5 140.6v3.8M392.6 152.5h3.8M394.5 150.6v3.8M396.6 142.5h3.8M398.5 140.6v3.8M393.6 146.5h3.8M395.5 144.6v3.8M373.6 140.5h3.8M375.5 138.6v3.8M365.6 142.5h3.8M367.5 140.6v3.8M387.6 143.5h3.8M389.5 141.6v3.8M414.6 144.5h3.8M416.5 142.6v3.8M372.6 138.5h3.8M374.5 136.6v3.8M409.6 144.5h3.8M411.5 142.6v3.8M400.6 144.5h3.8M402.5 142.6v3.8M411.6 136.5h3.8M413.5 134.6v3.8M417.6 140.5h3.8M419.5 138.6v3.8M417.6 143.5h3.8M419.5 141.6v3.8" stroke="#111" stroke-width="0.85" fill="none"/>
<path d="M66.6 21.5h3.8M68.5 19.6v3.8M130.6 19.5h3.8M132.5 17.6v3.8M130.6 23.5h3.8M132.5 21.6v3.8M66.6 53.5h3.8M68.5 51.6v3.8M85.6 52.5h3.8M87.5 50.6v3.8M130.6 61.5h3.8M132.5 59.6v3.8M111.6 65.5h3.8M113.5 63.6v3.8M110.6 67.5h3.8M112.5 65.6v3.8M63.6 72.5h3.8M65.5 70.6v3.8M130.6 75.5h3.8M132.5 73.6v3.8M168.6 18.5h3.8M170.5 16.6v3.8M175.6 38.5h3.8M177.5 36.6v3.8M96.6 82.5h3.8M98.5 80.6v3.8M95.6 84.5h3.8M97.5 82.6v3.8M95.6 90.5h3.8M97.5 88.6v3.8M104.6 99.5h3.8M106.5 97.6v3.8M66.6 102.5h3.8M68.5 100.6v3.8M71.6 104.5h3.8M73.5 102.6v3.8M118.6 107.5h3.8M120.5 105.6v3.8M130.6 105.5h3.8M132.5 103.6v3.8M63.6 115.5h3.8M65.5 113.6v3.8M75.6 116.5h3.8M77.5 114.6v3.8M87.6 117.5h3.8M89.5 115.6v3.8M87.6 117.5h3.8M89.5 115.6v3.8M51.6 125.5h3.8M53.5 123.6v3.8M118.6 123.5h3.8M120.5 121.6v3.8M130.6 123.5h3.8M132.5 121.6v3.8M95.6 127.5h3.8M97.5 125.6v3.8M95.6 129.5h3.8M97.5 127.6v3.8M93.6 132.5h3.8M95.5 130.6v3.8M92.6 134.5h3.8M94.5 132.6v3.8M82.6 135.5h3.8M84.5 133.6v3.8M75.6 137.5h3.8M77.5 135.6v3.8M110.6 135.5h3.8M112.5 133.6v3.8M233.6 101.5h3.8M235.5 99.6v3.8M177.6 115.5h3.8M179.5 113.6v3.8M168.6 125.5h3.8M170.5 123.6v3.8M212.6 136.5h3.8M214.5 134.6v3.8M75.6 139.5h3.8M77.5 137.6v3.8M74.6 141.5h3.8M76.5 139.6v3.8M84.6 145.5h3.8M86.5 143.6v3.8M85.6 146.5h3.8M87.5 144.6v3.8M90.6 149.5h3.8M92.5 147.6v3.8M89.6 153.5h3.8M91.5 151.6v3.8M92.6 155.5h3.8M94.5 153.6v3.8M52.6 151.5h3.8M54.5 149.6v3.8M50.6 154.5h3.8M52.5 152.6v3.8M57.6 154.5h3.8M59.5 152.6v3.8M62.6 152.5h3.8M64.5 150.6v3.8M66.6 154.5h3.8M68.5 152.6v3.8M69.6 151.5h3.8M71.5 149.6v3.8M75.6 150.5h3.8M77.5 148.6v3.8M51.6 159.5h3.8M53.5 157.6v3.8M57.6 157.5h3.8M59.5 155.6v3.8M60.6 159.5h3.8M62.5 157.6v3.8M61.6 161.5h3.8M63.5 159.6v3.8M66.6 156.5h3.8M68.5 154.6v3.8M68.6 159.5h3.8M70.5 157.6v3.8M66.6 161.5h3.8M68.5 159.6v3.8M72.6 158.5h3.8M74.5 156.6v3.8M75.6 159.5h3.8M77.5 157.6v3.8M80.6 156.5h3.8M82.5 154.6v3.8M80.6 159.5h3.8M82.5 157.6v3.8M84.6 161.5h3.8M86.5 159.6v3.8M88.6 160.5h3.8M90.5 158.6v3.8M54.6 167.5h3.8M56.5 165.6v3.8M60.6 166.5h3.8M62.5 164.6v3.8M66.6 164.5h3.8M68.5 162.6v3.8M74.6 162.5h3.8M76.5 160.6v3.8M74.6 164.5h3.8M76.5 162.6v3.8M81.6 162.5h3.8M83.5 160.6v3.8M88.6 164.5h3.8M90.5 162.6v3.8M117.6 138.5h3.8M119.5 136.6v3.8M124.6 141.5h3.8M126.5 139.6v3.8M135.6 142.5h3.8M137.5 140.6v3.8M93.6 141.5h3.8M95.5 139.6v3.8M95.6 144.5h3.8M97.5 142.6v3.8M95.6 147.5h3.8M97.5 145.6v3.8M95.6 147.5h3.8M97.5 145.6v3.8M109.6 145.5h3.8M111.5 143.6v3.8M114.6 146.5h3.8M116.5 144.6v3.8M114.6 151.5h3.8M116.5 149.6v3.8M109.6 153.5h3.8M111.5 151.6v3.8M110.6 157.5h3.8M112.5 155.6v3.8M135.6 149.5h3.8M137.5 147.6v3.8M137.6 153.5h3.8M139.5 151.6v3.8M130.6 155.5h3.8M132.5 153.6v3.8M139.6 157.5h3.8M141.5 155.6v3.8M146.6 158.5h3.8M148.5 156.6v3.8M95.6 155.5h3.8M97.5 153.6v3.8M94.6 160.5h3.8M96.5 158.6v3.8M98.6 159.5h3.8M100.5 157.6v3.8M105.6 158.5h3.8M107.5 156.6v3.8M119.6 160.5h3.8M121.5 158.6v3.8M158.6 151.5h3.8M160.5 149.6v3.8M178.6 152.5h3.8M180.5 150.6v3.8M187.6 147.5h3.8M189.5 145.6v3.8M198.6 140.5h3.8M200.5 138.6v3.8M195.6 150.5h3.8M197.5 148.6v3.8M150.6 155.5h3.8M152.5 153.6v3.8M164.6 156.5h3.8M166.5 154.6v3.8M185.6 156.5h3.8M187.5 154.6v3.8M193.6 156.5h3.8M195.5 154.6v3.8M212.6 144.5h3.8M214.5 142.6v3.8M218.6 143.5h3.8M220.5 141.6v3.8M218.6 145.5h3.8M220.5 143.6v3.8M201.6 147.5h3.8M203.5 145.6v3.8M205.6 147.5h3.8M207.5 145.6v3.8M201.6 151.5h3.8M203.5 149.6v3.8M206.6 151.5h3.8M208.5 149.6v3.8M208.6 150.5h3.8M210.5 148.6v3.8M206.6 153.5h3.8M208.5 151.6v3.8M220.6 152.5h3.8M222.5 150.6v3.8M213.6 155.5h3.8M215.5 153.6v3.8M232.6 150.5h3.8M234.5 148.6v3.8M240.6 151.5h3.8M242.5 149.6v3.8M241.6 153.5h3.8M243.5 151.6v3.8M242.6 156.5h3.8M244.5 154.6v3.8M235.6 156.5h3.8M237.5 154.6v3.8M233.6 160.5h3.8M235.5 158.6v3.8M226.6 156.5h3.8M228.5 154.6v3.8M219.6 157.5h3.8M221.5 155.6v3.8M224.6 160.5h3.8M226.5 158.6v3.8M226.6 161.5h3.8M228.5 159.6v3.8M200.6 156.5h3.8M202.5 154.6v3.8M209.6 157.5h3.8M211.5 155.6v3.8M216.6 160.5h3.8M218.5 158.6v3.8M221.6 162.5h3.8M223.5 160.6v3.8M211.6 165.5h3.8M213.5 163.6v3.8M200.6 161.5h3.8M202.5 159.6v3.8M204.6 164.5h3.8M206.5 162.6v3.8M233.6 170.5h3.8M235.5 168.6v3.8M246.6 170.5h3.8M248.5 168.6v3.8M242.6 175.5h3.8M244.5 173.6v3.8M246.6 178.5h3.8M248.5 176.6v3.8M225.6 187.5h3.8M227.5 185.6v3.8M233.6 190.5h3.8M235.5 188.6v3.8M220.6 180.5h3.8M222.5 178.6v3.8M219.6 183.5h3.8M221.5 181.6v3.8M215.6 182.5h3.8M217.5 180.6v3.8M212.6 182.5h3.8M214.5 180.6v3.8M207.6 181.5h3.8M209.5 179.6v3.8M207.6 183.5h3.8M209.5 181.6v3.8M203.6 186.5h3.8M205.5 184.6v3.8M199.6 187.5h3.8M201.5 185.6v3.8M49.6 181.5h3.8M51.5 179.6v3.8M55.6 183.5h3.8M57.5 181.6v3.8M56.6 184.5h3.8M58.5 182.6v3.8M62.6 184.5h3.8M64.5 182.6v3.8M64.6 189.5h3.8M66.5 187.6v3.8M60.6 192.5h3.8M62.5 190.6v3.8M72.6 193.5h3.8M74.5 191.6v3.8M69.6 197.5h3.8M71.5 195.6v3.8M79.6 193.5h3.8M81.5 191.6v3.8M82.6 190.5h3.8M84.5 188.6v3.8M85.6 192.5h3.8M87.5 190.6v3.8M90.6 195.5h3.8M92.5 193.6v3.8M89.6 189.5h3.8M91.5 187.6v3.8M92.6 201.5h3.8M94.5 199.6v3.8M92.6 206.5h3.8M94.5 204.6v3.8M87.6 205.5h3.8M89.5 203.6v3.8M87.6 210.5h3.8M89.5 208.6v3.8M75.6 205.5h3.8M77.5 203.6v3.8M75.6 209.5h3.8M77.5 207.6v3.8M74.6 212.5h3.8M76.5 210.6v3.8M81.6 212.5h3.8M83.5 210.6v3.8M94.6 204.5h3.8M96.5 202.6v3.8M96.6 190.5h3.8M98.5 188.6v3.8M96.6 193.5h3.8M98.5 191.6v3.8M100.6 195.5h3.8M102.5 193.6v3.8M104.6 194.5h3.8M106.5 192.6v3.8M103.6 188.5h3.8M105.5 186.6v3.8M107.6 188.5h3.8M109.5 186.6v3.8M110.6 189.5h3.8M112.5 187.6v3.8M108.6 192.5h3.8M110.5 190.6v3.8M112.6 192.5h3.8M114.5 190.6v3.8M112.6 195.5h3.8M114.5 193.6v3.8M113.6 196.5h3.8M115.5 194.6v3.8M117.6 186.5h3.8M119.5 184.6v3.8M123.6 191.5h3.8M125.5 189.6v3.8M126.6 186.5h3.8M128.5 184.6v3.8M127.6 189.5h3.8M129.5 187.6v3.8M132.6 187.5h3.8M134.5 185.6v3.8M130.6 192.5h3.8M132.5 190.6v3.8M140.6 182.5h3.8M142.5 180.6v3.8M145.6 182.5h3.8M147.5 180.6v3.8M99.6 204.5h3.8M101.5 202.6v3.8M106.6 204.5h3.8M108.5 202.6v3.8M108.6 202.5h3.8M110.5 200.6v3.8M121.6 201.5h3.8M123.5 199.6v3.8M122.6 203.5h3.8M124.5 201.6v3.8M124.6 203.5h3.8M126.5 201.6v3.8M130.6 203.5h3.8M132.5 201.6v3.8M95.6 208.5h3.8M97.5 206.6v3.8M96.6 212.5h3.8M98.5 210.6v3.8M124.6 208.5h3.8M126.5 206.6v3.8M124.6 212.5h3.8M126.5 210.6v3.8M148.6 183.5h3.8M150.5 181.6v3.8M157.6 182.5h3.8M159.5 180.6v3.8M159.6 180.5h3.8M161.5 178.6v3.8M156.6 187.5h3.8M158.5 185.6v3.8M160.6 187.5h3.8M162.5 185.6v3.8M159.6 192.5h3.8M161.5 190.6v3.8M159.6 195.5h3.8M161.5 193.6v3.8M167.6 183.5h3.8M169.5 181.6v3.8M167.6 186.5h3.8M169.5 184.6v3.8M167.6 192.5h3.8M169.5 190.6v3.8M171.6 193.5h3.8M173.5 191.6v3.8M168.6 203.5h3.8M170.5 201.6v3.8M176.6 184.5h3.8M178.5 182.6v3.8M178.6 184.5h3.8M180.5 182.6v3.8M176.6 187.5h3.8M178.5 185.6v3.8M177.6 190.5h3.8M179.5 188.6v3.8M177.6 197.5h3.8M179.5 195.6v3.8M180.6 201.5h3.8M182.5 199.6v3.8M177.6 207.5h3.8M179.5 205.6v3.8M194.6 183.5h3.8M196.5 181.6v3.8M194.6 187.5h3.8M196.5 185.6v3.8M199.6 187.5h3.8M201.5 185.6v3.8M193.6 191.5h3.8M195.5 189.6v3.8M197.6 191.5h3.8M199.5 189.6v3.8M172.6 180.5h3.8M174.5 178.6v3.8M187.6 180.5h3.8M189.5 178.6v3.8M77.6 216.5h3.8M79.5 214.6v3.8M78.6 216.5h3.8M80.5 214.6v3.8M79.6 220.5h3.8M81.5 218.6v3.8M92.6 217.5h3.8M94.5 215.6v3.8M97.6 221.5h3.8M99.5 219.6v3.8M112.6 222.5h3.8M114.5 220.6v3.8M96.6 228.5h3.8M98.5 226.6v3.8M99.6 231.5h3.8M101.5 229.6v3.8M102.6 232.5h3.8M104.5 230.6v3.8M100.6 240.5h3.8M102.5 238.6v3.8M111.6 240.5h3.8M113.5 238.6v3.8M99.6 246.5h3.8M101.5 244.6v3.8M124.6 214.5h3.8M126.5 212.6v3.8M116.6 226.5h3.8M118.5 224.6v3.8M149.6 217.5h3.8M151.5 215.6v3.8M161.6 216.5h3.8M163.5 214.6v3.8M146.6 224.5h3.8M148.5 222.6v3.8M147.6 235.5h3.8M149.5 233.6v3.8M143.6 238.5h3.8M145.5 236.6v3.8M134.6 247.5h3.8M136.5 245.6v3.8M172.6 230.5h3.8M174.5 228.6v3.8M242.6 214.5h3.8M244.5 212.6v3.8M100.6 249.5h3.8M102.5 247.6v3.8M105.6 249.5h3.8M107.5 247.6v3.8M88.6 257.5h3.8M90.5 255.6v3.8M95.6 256.5h3.8M97.5 254.6v3.8M111.6 258.5h3.8M113.5 256.6v3.8M100.6 264.5h3.8M102.5 262.6v3.8M128.6 250.5h3.8M130.5 248.6v3.8M116.6 288.5h3.8M118.5 286.6v3.8M116.6 296.5h3.8M118.5 294.6v3.8M54.6 166.5h3.8M56.5 164.6v3.8M52.6 169.5h3.8M54.5 167.6v3.8M52.6 173.5h3.8M54.5 171.6v3.8M47.6 177.5h3.8M49.5 175.6v3.8M48.6 180.5h3.8M50.5 178.6v3.8M53.6 179.5h3.8M55.5 177.6v3.8M55.6 183.5h3.8M57.5 181.6v3.8M56.6 176.5h3.8M58.5 174.6v3.8M59.6 171.5h3.8M61.5 169.6v3.8M51.6 162.5h3.8M53.5 160.6v3.8M63.6 184.5h3.8M65.5 182.6v3.8M63.6 188.5h3.8M65.5 186.6v3.8M78.6 187.5h3.8M80.5 185.6v3.8M67.6 159.5h3.8M69.5 157.6v3.8M67.6 162.5h3.8M69.5 160.6v3.8M74.6 162.5h3.8M76.5 160.6v3.8M389.6 18.5h3.8M391.5 16.6v3.8M412.6 26.5h3.8M414.5 24.6v3.8M412.6 37.5h3.8M414.5 35.6v3.8M412.6 40.5h3.8M414.5 38.6v3.8M412.6 43.5h3.8M414.5 41.6v3.8M412.6 45.5h3.8M414.5 43.6v3.8M412.6 50.5h3.8M414.5 48.6v3.8M412.6 52.5h3.8M414.5 50.6v3.8M412.6 57.5h3.8M414.5 55.6v3.8M412.6 59.5h3.8M414.5 57.6v3.8M411.6 60.5h3.8M413.5 58.6v3.8M359.6 44.5h3.8M361.5 42.6v3.8M389.6 44.5h3.8M391.5 42.6v3.8M368.6 52.5h3.8M370.5 50.6v3.8M347.6 60.5h3.8M349.5 58.6v3.8M391.6 62.5h3.8M393.5 60.6v3.8M398.6 65.5h3.8M400.5 63.6v3.8M374.6 66.5h3.8M376.5 64.6v3.8M375.6 71.5h3.8M377.5 69.6v3.8M370.6 73.5h3.8M372.5 71.6v3.8M382.6 74.5h3.8M384.5 72.6v3.8M342.6 73.5h3.8M344.5 71.6v3.8M347.6 76.5h3.8M349.5 74.6v3.8M409.6 66.5h3.8M411.5 64.6v3.8M409.6 69.5h3.8M411.5 67.6v3.8M412.6 71.5h3.8M414.5 69.6v3.8M391.6 75.5h3.8M393.5 73.6v3.8M394.6 76.5h3.8M396.5 74.6v3.8M416.6 76.5h3.8M418.5 74.6v3.8M421.6 63.5h3.8M423.5 61.6v3.8M448.6 33.5h3.8M450.5 31.6v3.8M437.6 54.5h3.8M439.5 52.6v3.8M450.6 69.5h3.8M452.5 67.6v3.8M440.6 72.5h3.8M442.5 70.6v3.8M437.6 77.5h3.8M439.5 75.6v3.8M354.6 79.5h3.8M356.5 77.6v3.8M361.6 78.5h3.8M363.5 76.6v3.8M342.6 93.5h3.8M344.5 91.6v3.8M343.6 96.5h3.8M345.5 94.6v3.8M348.6 93.5h3.8M350.5 91.6v3.8M352.6 91.5h3.8M354.5 89.6v3.8M347.6 98.5h3.8M349.5 96.6v3.8M342.6 102.5h3.8M344.5 100.6v3.8M344.6 106.5h3.8M346.5 104.6v3.8M361.6 98.5h3.8M363.5 96.6v3.8M362.6 98.5h3.8M364.5 96.6v3.8M361.6 105.5h3.8M363.5 103.6v3.8M391.6 79.5h3.8M393.5 77.6v3.8M391.6 82.5h3.8M393.5 80.6v3.8M372.6 81.5h3.8M374.5 79.6v3.8M415.6 80.5h3.8M417.5 78.6v3.8M412.6 83.5h3.8M414.5 81.6v3.8M402.6 84.5h3.8M404.5 82.6v3.8M404.6 88.5h3.8M406.5 86.6v3.8M381.6 85.5h3.8M383.5 83.6v3.8M384.6 87.5h3.8M386.5 85.6v3.8M378.6 88.5h3.8M380.5 86.6v3.8M383.6 89.5h3.8M385.5 87.6v3.8M389.6 87.5h3.8M391.5 85.6v3.8M396.6 90.5h3.8M398.5 88.6v3.8M391.6 92.5h3.8M393.5 90.6v3.8M391.6 92.5h3.8M393.5 90.6v3.8M398.6 93.5h3.8M400.5 91.6v3.8M386.6 93.5h3.8M388.5 91.6v3.8M371.6 93.5h3.8M373.5 91.6v3.8M379.6 94.5h3.8M381.5 92.6v3.8M389.6 98.5h3.8M391.5 96.6v3.8M381.6 98.5h3.8M383.5 96.6v3.8M374.6 99.5h3.8M376.5 97.6v3.8M384.6 101.5h3.8M386.5 99.6v3.8M370.6 100.5h3.8M372.5 98.6v3.8M370.6 104.5h3.8M372.5 102.6v3.8M378.6 105.5h3.8M380.5 103.6v3.8M404.6 100.5h3.8M406.5 98.6v3.8M409.6 93.5h3.8M411.5 91.6v3.8M412.6 93.5h3.8M414.5 91.6v3.8M415.6 93.5h3.8M417.5 91.6v3.8M416.6 99.5h3.8M418.5 97.6v3.8M409.6 103.5h3.8M411.5 101.6v3.8M393.6 102.5h3.8M395.5 100.6v3.8M397.6 102.5h3.8M399.5 100.6v3.8M401.6 104.5h3.8M403.5 102.6v3.8M413.6 104.5h3.8M415.5 102.6v3.8M420.6 86.5h3.8M422.5 84.6v3.8M433.6 87.5h3.8M435.5 85.6v3.8M442.6 86.5h3.8M444.5 84.6v3.8M432.6 93.5h3.8M434.5 91.6v3.8M432.6 98.5h3.8M434.5 96.6v3.8M433.6 102.5h3.8M435.5 100.6v3.8M429.6 103.5h3.8M431.5 101.6v3.8M420.6 104.5h3.8M422.5 102.6v3.8M425.6 104.5h3.8M427.5 102.6v3.8M416.6 100.5h3.8M418.5 98.6v3.8M416.6 77.5h3.8M418.5 75.6v3.8M443.6 105.5h3.8M445.5 103.6v3.8M459.6 82.5h3.8M461.5 80.6v3.8M461.6 83.5h3.8M463.5 81.6v3.8M465.6 81.5h3.8M467.5 79.6v3.8M461.6 89.5h3.8M463.5 87.6v3.8M465.6 90.5h3.8M467.5 88.6v3.8M452.6 91.5h3.8M454.5 89.6v3.8M455.6 96.5h3.8M457.5 94.6v3.8M460.6 96.5h3.8M462.5 94.6v3.8M468.6 97.5h3.8M470.5 95.6v3.8M451.6 98.5h3.8M453.5 96.6v3.8M459.6 99.5h3.8M461.5 97.6v3.8M456.6 102.5h3.8M458.5 100.6v3.8M454.6 105.5h3.8M456.5 103.6v3.8M460.6 104.5h3.8M462.5 102.6v3.8M466.6 104.5h3.8M468.5 102.6v3.8M483.6 82.5h3.8M485.5 80.6v3.8M474.6 90.5h3.8M476.5 88.6v3.8M474.6 102.5h3.8M476.5 100.6v3.8M336.6 110.5h3.8M338.5 108.6v3.8M339.6 110.5h3.8M341.5 108.6v3.8M342.6 110.5h3.8M344.5 108.6v3.8M344.6 110.5h3.8M346.5 108.6v3.8M349.6 110.5h3.8M351.5 108.6v3.8M352.6 109.5h3.8M354.5 107.6v3.8M332.6 115.5h3.8M334.5 113.6v3.8M343.6 115.5h3.8M345.5 113.6v3.8M326.6 121.5h3.8M328.5 119.6v3.8M327.6 123.5h3.8M329.5 121.6v3.8M320.6 125.5h3.8M322.5 123.6v3.8M335.6 119.5h3.8M337.5 117.6v3.8M338.6 120.5h3.8M340.5 118.6v3.8M331.6 124.5h3.8M333.5 122.6v3.8M343.6 121.5h3.8M345.5 119.6v3.8M339.6 124.5h3.8M341.5 122.6v3.8M342.6 127.5h3.8M344.5 125.6v3.8M336.6 127.5h3.8M338.5 125.6v3.8M327.6 133.5h3.8M329.5 131.6v3.8M333.6 133.5h3.8M335.5 131.6v3.8M341.6 132.5h3.8M343.5 130.6v3.8M485.6 110.5h3.8M487.5 108.6v3.8M486.6 113.5h3.8M488.5 111.6v3.8M487.6 115.5h3.8M489.5 113.6v3.8M485.6 118.5h3.8M487.5 116.6v3.8M486.6 120.5h3.8M488.5 118.6v3.8M487.6 123.5h3.8M489.5 121.6v3.8M485.6 125.5h3.8M487.5 123.6v3.8M486.6 129.5h3.8M488.5 127.6v3.8M486.6 131.5h3.8M488.5 129.6v3.8M484.6 116.5h3.8M486.5 114.6v3.8M478.6 109.5h3.8M480.5 107.6v3.8M478.6 137.5h3.8M480.5 135.6v3.8M478.6 134.5h3.8M480.5 132.6v3.8M497.6 130.5h3.8M499.5 128.6v3.8M505.6 119.5h3.8M507.5 117.6v3.8M506.6 124.5h3.8M508.5 122.6v3.8M504.6 127.5h3.8M506.5 125.6v3.8M504.6 129.5h3.8M506.5 127.6v3.8M504.6 131.5h3.8M506.5 129.6v3.8M510.6 122.5h3.8M512.5 120.6v3.8M514.6 116.5h3.8M516.5 114.6v3.8M513.6 125.5h3.8M515.5 123.6v3.8M513.6 129.5h3.8M515.5 127.6v3.8M517.6 122.5h3.8M519.5 120.6v3.8M518.6 125.5h3.8M520.5 123.6v3.8M518.6 127.5h3.8M520.5 125.6v3.8M518.6 130.5h3.8M520.5 128.6v3.8M518.6 132.5h3.8M520.5 130.6v3.8M517.6 124.5h3.8M519.5 122.6v3.8M326.6 135.5h3.8M328.5 133.6v3.8M333.6 134.5h3.8M335.5 132.6v3.8M337.6 133.5h3.8M339.5 131.6v3.8M337.6 136.5h3.8M339.5 134.6v3.8M342.6 135.5h3.8M344.5 133.6v3.8M347.6 139.5h3.8M349.5 137.6v3.8M349.6 138.5h3.8M351.5 136.6v3.8M353.6 141.5h3.8M355.5 139.6v3.8M354.6 144.5h3.8M356.5 142.6v3.8M342.6 147.5h3.8M344.5 145.6v3.8M342.6 150.5h3.8M344.5 148.6v3.8M339.6 152.5h3.8M341.5 150.6v3.8M344.6 155.5h3.8M346.5 153.6v3.8M349.6 151.5h3.8M351.5 149.6v3.8M351.6 153.5h3.8M353.5 151.6v3.8M350.6 158.5h3.8M352.5 156.6v3.8M339.6 163.5h3.8M341.5 161.6v3.8M356.6 149.5h3.8M358.5 147.6v3.8M358.6 146.5h3.8M360.5 144.6v3.8M360.6 154.5h3.8M362.5 152.6v3.8M356.6 159.5h3.8M358.5 157.6v3.8M358.6 162.5h3.8M360.5 160.6v3.8M365.6 162.5h3.8M367.5 160.6v3.8M361.6 143.5h3.8M363.5 141.6v3.8M363.6 146.5h3.8M365.5 144.6v3.8M360.6 141.5h3.8M362.5 139.6v3.8M352.6 134.5h3.8M354.5 132.6v3.8M356.6 132.5h3.8M358.5 130.6v3.8M365.6 151.5h3.8M367.5 149.6v3.8M357.6 164.5h3.8M359.5 162.6v3.8M359.6 161.5h3.8M361.5 159.6v3.8M338.6 164.5h3.8M340.5 162.6v3.8M337.6 166.5h3.8M339.5 164.6v3.8M345.6 166.5h3.8M347.5 164.6v3.8M353.6 167.5h3.8M355.5 165.6v3.8M356.6 171.5h3.8M358.5 169.6v3.8M346.6 180.5h3.8M348.5 178.6v3.8M360.6 155.5h3.8M362.5 153.6v3.8M366.6 155.5h3.8M368.5 153.6v3.8M365.6 162.5h3.8M367.5 160.6v3.8M368.6 162.5h3.8M370.5 160.6v3.8M369.6 159.5h3.8M371.5 157.6v3.8M371.6 163.5h3.8M373.5 161.6v3.8M373.6 158.5h3.8M375.5 156.6v3.8M376.6 158.5h3.8M378.5 156.6v3.8M380.6 158.5h3.8M382.5 156.6v3.8M385.6 157.5h3.8M387.5 155.6v3.8M373.6 165.5h3.8M375.5 163.6v3.8M378.6 161.5h3.8M380.5 159.6v3.8M379.6 165.5h3.8M381.5 163.6v3.8M384.6 163.5h3.8M386.5 161.6v3.8M366.6 171.5h3.8M368.5 169.6v3.8M368.6 174.5h3.8M370.5 172.6v3.8M371.6 171.5h3.8M373.5 169.6v3.8M373.6 176.5h3.8M375.5 174.6v3.8M374.6 172.5h3.8M376.5 170.6v3.8M378.6 169.5h3.8M380.5 167.6v3.8M378.6 173.5h3.8M380.5 171.6v3.8M382.6 168.5h3.8M384.5 166.6v3.8M382.6 173.5h3.8M384.5 171.6v3.8M380.6 177.5h3.8M382.5 175.6v3.8M380.6 179.5h3.8M382.5 177.6v3.8M370.6 182.5h3.8M372.5 180.6v3.8M372.6 183.5h3.8M374.5 181.6v3.8M377.6 188.5h3.8M379.5 186.6v3.8M381.6 186.5h3.8M383.5 184.6v3.8M369.6 189.5h3.8M371.5 187.6v3.8M430.6 165.5h3.8M432.5 163.6v3.8M415.6 158.5h3.8M417.5 156.6v3.8M414.6 157.5h3.8M416.5 155.6v3.8M410.6 159.5h3.8M412.5 157.6v3.8M408.6 160.5h3.8M410.5 158.6v3.8M407.6 163.5h3.8M409.5 161.6v3.8M408.6 165.5h3.8M410.5 163.6v3.8M411.6 170.5h3.8M413.5 168.6v3.8M403.6 158.5h3.8M405.5 156.6v3.8M402.6 165.5h3.8M404.5 163.6v3.8M400.6 167.5h3.8M402.5 165.6v3.8M398.6 160.5h3.8M400.5 158.6v3.8M395.6 158.5h3.8M397.5 156.6v3.8M394.6 160.5h3.8M396.5 158.6v3.8M387.6 158.5h3.8M389.5 156.6v3.8M384.6 162.5h3.8M386.5 160.6v3.8M390.6 166.5h3.8M392.5 164.6v3.8M393.6 168.5h3.8M395.5 166.6v3.8M390.6 170.5h3.8M392.5 168.6v3.8M389.6 174.5h3.8M391.5 172.6v3.8M398.6 174.5h3.8M400.5 172.6v3.8M400.6 175.5h3.8M402.5 173.6v3.8M394.6 177.5h3.8M396.5 175.6v3.8M390.6 179.5h3.8M392.5 177.6v3.8M395.6 179.5h3.8M397.5 177.6v3.8M399.6 180.5h3.8M401.5 178.6v3.8M394.6 182.5h3.8M396.5 180.6v3.8M399.6 182.5h3.8M401.5 180.6v3.8M404.6 182.5h3.8M406.5 180.6v3.8M384.6 173.5h3.8M386.5 171.6v3.8M416.6 150.5h3.8M418.5 148.6v3.8M358.6 190.5h3.8M360.5 188.6v3.8M372.6 193.5h3.8M374.5 191.6v3.8M377.6 196.5h3.8M379.5 194.6v3.8M382.6 194.5h3.8M384.5 192.6v3.8M384.6 195.5h3.8M386.5 193.6v3.8M386.6 194.5h3.8M388.5 192.6v3.8M387.6 198.5h3.8M389.5 196.6v3.8M365.6 197.5h3.8M367.5 195.6v3.8M372.6 204.5h3.8M374.5 202.6v3.8M375.6 204.5h3.8M377.5 202.6v3.8M378.6 202.5h3.8M380.5 200.6v3.8M342.6 206.5h3.8M344.5 204.6v3.8M340.6 209.5h3.8M342.5 207.6v3.8M361.6 213.5h3.8M363.5 211.6v3.8M377.6 214.5h3.8M379.5 212.6v3.8M370.6 217.5h3.8M372.5 215.6v3.8M372.6 218.5h3.8M374.5 216.6v3.8M385.6 217.5h3.8M387.5 215.6v3.8M398.6 183.5h3.8M400.5 181.6v3.8M388.6 190.5h3.8M390.5 188.6v3.8M391.6 193.5h3.8M393.5 191.6v3.8M390.6 202.5h3.8M392.5 200.6v3.8M394.6 203.5h3.8M396.5 201.6v3.8M394.6 206.5h3.8M396.5 204.6v3.8M404.6 205.5h3.8M406.5 203.6v3.8M403.6 208.5h3.8M405.5 206.6v3.8M405.6 195.5h3.8M407.5 193.6v3.8M409.6 195.5h3.8M411.5 193.6v3.8M406.6 199.5h3.8M408.5 197.6v3.8M414.6 190.5h3.8M416.5 188.6v3.8M419.6 192.5h3.8M421.5 190.6v3.8M391.6 212.5h3.8M393.5 210.6v3.8M393.6 212.5h3.8M395.5 210.6v3.8M395.6 212.5h3.8M397.5 210.6v3.8M404.6 214.5h3.8M406.5 212.6v3.8M390.6 219.5h3.8M392.5 217.6v3.8M388.6 222.5h3.8M390.5 220.6v3.8M365.6 222.5h3.8M367.5 220.6v3.8M376.6 226.5h3.8M378.5 224.6v3.8M372.6 230.5h3.8M374.5 228.6v3.8M396.6 230.5h3.8M398.5 228.6v3.8M376.6 247.5h3.8M378.5 245.6v3.8M382.6 256.5h3.8M384.5 254.6v3.8M351.6 264.5h3.8M353.5 262.6v3.8M370.6 265.5h3.8M372.5 263.6v3.8M388.6 263.5h3.8M390.5 261.6v3.8M342.6 279.5h3.8M344.5 277.6v3.8M342.6 296.5h3.8M344.5 294.6v3.8M512.6 151.5h3.8M514.5 149.6v3.8M473.6 154.5h3.8M475.5 152.6v3.8M475.6 146.5h3.8M477.5 144.6v3.8M468.6 145.5h3.8M470.5 143.6v3.8M464.6 147.5h3.8M466.5 145.6v3.8M465.6 144.5h3.8M467.5 142.6v3.8M459.6 144.5h3.8M461.5 142.6v3.8M460.6 141.5h3.8M462.5 139.6v3.8M466.6 141.5h3.8M468.5 139.6v3.8M454.6 142.5h3.8M456.5 140.6v3.8M454.6 139.5h3.8M456.5 137.6v3.8M449.6 138.5h3.8M451.5 136.6v3.8M445.6 138.5h3.8M447.5 136.6v3.8M469.6 139.5h3.8M471.5 137.6v3.8M474.6 140.5h3.8M476.5 138.6v3.8M478.6 137.5h3.8M480.5 135.6v3.8M439.6 144.5h3.8M441.5 142.6v3.8M441.6 146.5h3.8M443.5 144.6v3.8M435.6 140.5h3.8M437.5 138.6v3.8M429.6 139.5h3.8M431.5 137.6v3.8M430.6 143.5h3.8M432.5 141.6v3.8M425.6 142.5h3.8M427.5 140.6v3.8M419.6 146.5h3.8M421.5 144.6v3.8M449.6 153.5h3.8M451.5 151.6v3.8M454.6 154.5h3.8M456.5 152.6v3.8M442.6 159.5h3.8M444.5 157.6v3.8M446.6 176.5h3.8M448.5 174.6v3.8M439.6 236.5h3.8M441.5 234.6v3.8M432.6 262.5h3.8M434.5 260.6v3.8" stroke="#2a2a2a" stroke-width="0.85" fill="none"/>
<path d="M78.9 175.9h1.2v1.2h-1.2zM109.9 171.9h1.2v1.2h-1.2zM96.9 175.9h1.2v1.2h-1.2zM116.9 170.9h1.2v1.2h-1.2zM93.9 173.9h1.2v1.2h-1.2zM121.9 179.9h1.2v1.2h-1.2zM69.9 172.9h1.2v1.2h-1.2zM128.9 163.9h1.2v1.2h-1.2zM91.9 180.9h1.2v1.2h-1.2zM78.9 179.9h1.2v1.2h-1.2zM138.9 164.9h1.2v1.2h-1.2zM83.9 168.9h1.2v1.2h-1.2zM158.9 175.9h1.2v1.2h-1.2zM86.9 172.9h1.2v1.2h-1.2zM137.9 169.9h1.2v1.2h-1.2zM69.9 178.9h1.2v1.2h-1.2zM97.9 169.9h1.2v1.2h-1.2zM82.9 171.9h1.2v1.2h-1.2zM91.9 181.9h1.2v1.2h-1.2zM132.9 173.9h1.2v1.2h-1.2zM143.9 165.9h1.2v1.2h-1.2zM135.9 173.9h1.2v1.2h-1.2zM159.9 171.9h1.2v1.2h-1.2zM100.9 170.9h1.2v1.2h-1.2zM84.9 166.9h1.2v1.2h-1.2zM90.9 181.9h1.2v1.2h-1.2zM76.9 172.9h1.2v1.2h-1.2zM84.9 181.9h1.2v1.2h-1.2zM70.9 174.9h1.2v1.2h-1.2zM76.9 172.9h1.2v1.2h-1.2zM95.9 178.9h1.2v1.2h-1.2zM120.9 179.9h1.2v1.2h-1.2zM95.9 173.9h1.2v1.2h-1.2zM88.9 169.9h1.2v1.2h-1.2zM105.9 173.9h1.2v1.2h-1.2zM84.9 180.9h1.2v1.2h-1.2zM102.9 175.9h1.2v1.2h-1.2zM104.9 180.9h1.2v1.2h-1.2zM85.9 173.9h1.2v1.2h-1.2zM96.9 179.9h1.2v1.2h-1.2zM76.9 168.9h1.2v1.2h-1.2zM86.9 177.9h1.2v1.2h-1.2zM129.9 173.9h1.2v1.2h-1.2zM119.9 179.9h1.2v1.2h-1.2zM81.9 179.9h1.2v1.2h-1.2zM151.9 174.9h1.2v1.2h-1.2zM75.9 171.9h1.2v1.2h-1.2zM94.9 172.9h1.2v1.2h-1.2zM72.9 182.9h1.2v1.2h-1.2zM79.9 170.9h1.2v1.2h-1.2zM86.9 179.9h1.2v1.2h-1.2zM97.9 171.9h1.2v1.2h-1.2zM154.9 165.9h1.2v1.2h-1.2zM99.9 181.9h1.2v1.2h-1.2zM76.9 181.9h1.2v1.2h-1.2zM71.9 169.9h1.2v1.2h-1.2zM165.9 162.9h1.2v1.2h-1.2zM114.9 170.9h1.2v1.2h-1.2zM150.9 165.9h1.2v1.2h-1.2zM80.9 175.9h1.2v1.2h-1.2zM69.9 175.9h1.2v1.2h-1.2zM101.9 170.9h1.2v1.2h-1.2zM69.9 170.9h1.2v1.2h-1.2zM80.9 181.9h1.2v1.2h-1.2zM93.9 178.9h1.2v1.2h-1.2zM123.9 167.9h1.2v1.2h-1.2zM109.9 169.9h1.2v1.2h-1.2zM155.9 164.9h1.2v1.2h-1.2zM68.9 173.9h1.2v1.2h-1.2zM67.9 171.9h1.2v1.2h-1.2zM77.9 178.9h1.2v1.2h-1.2zM133.9 167.9h1.2v1.2h-1.2zM69.9 173.9h1.2v1.2h-1.2zM155.9 164.9h1.2v1.2h-1.2zM81.9 179.9h1.2v1.2h-1.2zM89.9 173.9h1.2v1.2h-1.2zM117.9 172.9h1.2v1.2h-1.2zM85.9 169.9h1.2v1.2h-1.2zM149.9 165.9h1.2v1.2h-1.2zM153.9 170.9h1.2v1.2h-1.2zM80.9 183.9h1.2v1.2h-1.2zM104.9 171.9h1.2v1.2h-1.2zM75.9 176.9h1.2v1.2h-1.2zM84.9 180.9h1.2v1.2h-1.2zM73.9 185.9h1.2v1.2h-1.2zM133.9 174.9h1.2v1.2h-1.2zM107.9 165.9h1.2v1.2h-1.2zM114.9 177.9h1.2v1.2h-1.2zM94.9 175.9h1.2v1.2h-1.2zM86.9 184.9h1.2v1.2h-1.2zM81.9 175.9h1.2v1.2h-1.2zM96.9 182.9h1.2v1.2h-1.2zM79.9 170.9h1.2v1.2h-1.2zM109.9 170.9h1.2v1.2h-1.2zM73.9 174.9h1.2v1.2h-1.2zM106.9 171.9h1.2v1.2h-1.2zM142.9 167.9h1.2v1.2h-1.2zM79.9 180.9h1.2v1.2h-1.2zM80.9 183.9h1.2v1.2h-1.2zM94.9 182.9h1.2v1.2h-1.2zM152.9 173.9h1.2v1.2h-1.2zM104.9 177.9h1.2v1.2h-1.2zM102.9 181.9h1.2v1.2h-1.2zM124.9 167.9h1.2v1.2h-1.2zM149.9 163.9h1.2v1.2h-1.2zM159.9 171.9h1.2v1.2h-1.2zM97.9 181.9h1.2v1.2h-1.2zM102.9 179.9h1.2v1.2h-1.2zM139.9 173.9h1.2v1.2h-1.2zM116.9 176.9h1.2v1.2h-1.2zM77.9 181.9h1.2v1.2h-1.2zM76.9 182.9h1.2v1.2h-1.2zM154.9 159.9h1.2v1.2h-1.2zM150.9 170.9h1.2v1.2h-1.2zM118.9 179.9h1.2v1.2h-1.2zM81.9 182.9h1.2v1.2h-1.2zM133.9 174.9h1.2v1.2h-1.2zM69.9 172.9h1.2v1.2h-1.2zM117.9 167.9h1.2v1.2h-1.2zM85.9 171.9h1.2v1.2h-1.2zM122.9 173.9h1.2v1.2h-1.2zM103.9 174.9h1.2v1.2h-1.2zM101.9 171.9h1.2v1.2h-1.2zM88.9 176.9h1.2v1.2h-1.2zM65.9 173.9h1.2v1.2h-1.2zM80.9 173.9h1.2v1.2h-1.2zM79.9 176.9h1.2v1.2h-1.2zM94.9 176.9h1.2v1.2h-1.2zM121.9 170.9h1.2v1.2h-1.2zM127.9 178.9h1.2v1.2h-1.2zM86.9 181.9h1.2v1.2h-1.2zM119.9 174.9h1.2v1.2h-1.2zM95.9 171.9h1.2v1.2h-1.2zM126.9 172.9h1.2v1.2h-1.2zM103.9 181.9h1.2v1.2h-1.2zM90.9 170.9h1.2v1.2h-1.2zM74.9 175.9h1.2v1.2h-1.2zM110.9 169.9h1.2v1.2h-1.2zM157.9 168.9h1.2v1.2h-1.2zM141.9 163.9h1.2v1.2h-1.2zM84.9 177.9h1.2v1.2h-1.2zM95.9 179.9h1.2v1.2h-1.2zM94.9 169.9h1.2v1.2h-1.2zM142.9 177.9h1.2v1.2h-1.2zM76.9 180.9h1.2v1.2h-1.2zM116.9 178.9h1.2v1.2h-1.2zM129.9 172.9h1.2v1.2h-1.2zM133.9 169.9h1.2v1.2h-1.2zM110.9 171.9h1.2v1.2h-1.2zM143.9 168.9h1.2v1.2h-1.2zM110.9 175.9h1.2v1.2h-1.2zM93.9 168.9h1.2v1.2h-1.2zM135.9 172.9h1.2v1.2h-1.2zM93.9 184.9h1.2v1.2h-1.2zM100.9 175.9h1.2v1.2h-1.2zM71.9 175.9h1.2v1.2h-1.2zM97.9 178.9h1.2v1.2h-1.2zM99.9 169.9h1.2v1.2h-1.2zM150.9 171.9h1.2v1.2h-1.2zM103.9 171.9h1.2v1.2h-1.2zM80.9 171.9h1.2v1.2h-1.2zM70.9 175.9h1.2v1.2h-1.2zM77.9 181.9h1.2v1.2h-1.2zM100.9 181.9h1.2v1.2h-1.2zM74.9 179.9h1.2v1.2h-1.2zM127.9 171.9h1.2v1.2h-1.2zM83.9 178.9h1.2v1.2h-1.2zM88.9 173.9h1.2v1.2h-1.2zM161.9 160.9h1.2v1.2h-1.2zM105.9 176.9h1.2v1.2h-1.2zM96.9 169.9h1.2v1.2h-1.2zM113.9 172.9h1.2v1.2h-1.2zM91.9 182.9h1.2v1.2h-1.2zM106.9 180.9h1.2v1.2h-1.2zM85.9 178.9h1.2v1.2h-1.2zM155.9 162.9h1.2v1.2h-1.2zM152.9 166.9h1.2v1.2h-1.2zM76.9 174.9h1.2v1.2h-1.2zM145.9 162.9h1.2v1.2h-1.2zM141.9 171.9h1.2v1.2h-1.2zM78.9 185.9h1.2v1.2h-1.2zM134.9 164.9h1.2v1.2h-1.2zM111.9 173.9h1.2v1.2h-1.2zM67.9 168.9h1.2v1.2h-1.2zM86.9 170.9h1.2v1.2h-1.2zM76.9 180.9h1.2v1.2h-1.2zM88.9 180.9h1.2v1.2h-1.2zM126.9 173.9h1.2v1.2h-1.2zM76.9 167.9h1.2v1.2h-1.2zM97.9 175.9h1.2v1.2h-1.2zM107.9 180.9h1.2v1.2h-1.2zM78.9 180.9h1.2v1.2h-1.2zM83.9 173.9h1.2v1.2h-1.2zM120.9 174.9h1.2v1.2h-1.2zM75.9 180.9h1.2v1.2h-1.2zM105.9 169.9h1.2v1.2h-1.2zM150.9 161.9h1.2v1.2h-1.2zM87.9 178.9h1.2v1.2h-1.2zM88.9 179.9h1.2v1.2h-1.2zM125.9 174.9h1.2v1.2h-1.2zM115.9 173.9h1.2v1.2h-1.2zM98.9 168.9h1.2v1.2h-1.2zM124.9 168.9h1.2v1.2h-1.2zM148.9 163.9h1.2v1.2h-1.2zM117.9 167.9h1.2v1.2h-1.2zM70.9 174.9h1.2v1.2h-1.2zM124.9 178.9h1.2v1.2h-1.2zM135.9 165.9h1.2v1.2h-1.2zM103.9 171.9h1.2v1.2h-1.2zM65.9 178.9h1.2v1.2h-1.2zM88.9 172.9h1.2v1.2h-1.2zM124.9 164.9h1.2v1.2h-1.2zM84.9 183.9h1.2v1.2h-1.2zM145.9 163.9h1.2v1.2h-1.2zM103.9 176.9h1.2v1.2h-1.2zM87.9 177.9h1.2v1.2h-1.2zM74.9 176.9h1.2v1.2h-1.2zM80.9 176.9h1.2v1.2h-1.2zM154.9 168.9h1.2v1.2h-1.2zM126.9 166.9h1.2v1.2h-1.2zM110.9 174.9h1.2v1.2h-1.2zM88.9 173.9h1.2v1.2h-1.2zM91.9 167.9h1.2v1.2h-1.2zM99.9 170.9h1.2v1.2h-1.2zM111.9 167.9h1.2v1.2h-1.2zM129.9 167.9h1.2v1.2h-1.2zM136.9 165.9h1.2v1.2h-1.2zM78.9 180.9h1.2v1.2h-1.2zM118.9 167.9h1.2v1.2h-1.2zM84.9 170.9h1.2v1.2h-1.2zM120.9 179.9h1.2v1.2h-1.2zM104.9 175.9h1.2v1.2h-1.2zM133.9 177.9h1.2v1.2h-1.2zM78.9 178.9h1.2v1.2h-1.2zM69.9 169.9h1.2v1.2h-1.2zM99.9 170.9h1.2v1.2h-1.2zM114.9 172.9h1.2v1.2h-1.2zM140.9 164.9h1.2v1.2h-1.2zM83.9 179.9h1.2v1.2h-1.2zM135.9 174.9h1.2v1.2h-1.2zM66.9 179.9h1.2v1.2h-1.2zM88.9 178.9h1.2v1.2h-1.2zM84.9 173.9h1.2v1.2h-1.2zM162.9 159.9h1.2v1.2h-1.2zM133.9 166.9h1.2v1.2h-1.2zM134.9 174.9h1.2v1.2h-1.2zM65.9 175.9h1.2v1.2h-1.2zM140.9 161.9h1.2v1.2h-1.2zM124.9 177.9h1.2v1.2h-1.2zM97.9 175.9h1.2v1.2h-1.2zM109.9 176.9h1.2v1.2h-1.2zM92.9 167.9h1.2v1.2h-1.2zM104.9 167.9h1.2v1.2h-1.2zM95.9 169.9h1.2v1.2h-1.2zM111.9 170.9h1.2v1.2h-1.2zM128.9 165.9h1.2v1.2h-1.2zM133.9 172.9h1.2v1.2h-1.2zM96.9 168.9h1.2v1.2h-1.2zM66.9 176.9h1.2v1.2h-1.2zM73.9 177.9h1.2v1.2h-1.2zM102.9 168.9h1.2v1.2h-1.2zM117.9 167.9h1.2v1.2h-1.2zM136.9 164.9h1.2v1.2h-1.2zM144.9 167.9h1.2v1.2h-1.2zM123.9 170.9h1.2v1.2h-1.2zM120.9 169.9h1.2v1.2h-1.2zM80.9 177.9h1.2v1.2h-1.2zM79.9 178.9h1.2v1.2h-1.2zM163.9 163.9h1.2v1.2h-1.2zM87.9 181.9h1.2v1.2h-1.2zM75.9 173.9h1.2v1.2h-1.2zM88.9 175.9h1.2v1.2h-1.2zM89.9 172.9h1.2v1.2h-1.2zM129.9 170.9h1.2v1.2h-1.2zM126.9 164.9h1.2v1.2h-1.2zM71.9 170.9h1.2v1.2h-1.2zM107.9 179.9h1.2v1.2h-1.2zM119.9 174.9h1.2v1.2h-1.2zM68.9 176.9h1.2v1.2h-1.2zM97.9 169.9h1.2v1.2h-1.2zM126.9 172.9h1.2v1.2h-1.2zM71.9 177.9h1.2v1.2h-1.2zM65.9 181.9h1.2v1.2h-1.2zM148.9 176.9h1.2v1.2h-1.2zM100.9 168.9h1.2v1.2h-1.2zM84.9 175.9h1.2v1.2h-1.2zM70.9 174.9h1.2v1.2h-1.2zM68.9 171.9h1.2v1.2h-1.2zM119.9 166.9h1.2v1.2h-1.2zM78.9 181.9h1.2v1.2h-1.2zM115.9 177.9h1.2v1.2h-1.2zM88.9 172.9h1.2v1.2h-1.2zM90.9 167.9h1.2v1.2h-1.2zM63.9 181.9h1.2v1.2h-1.2zM65.9 175.9h1.2v1.2h-1.2zM83.9 181.9h1.2v1.2h-1.2zM154.9 170.9h1.2v1.2h-1.2zM73.9 174.9h1.2v1.2h-1.2zM170.9 162.9h1.2v1.2h-1.2zM89.9 178.9h1.2v1.2h-1.2zM137.9 166.9h1.2v1.2h-1.2zM156.9 162.9h1.2v1.2h-1.2zM119.9 173.9h1.2v1.2h-1.2zM71.9 175.9h1.2v1.2h-1.2zM113.9 172.9h1.2v1.2h-1.2zM76.9 179.9h1.2v1.2h-1.2zM70.9 170.9h1.2v1.2h-1.2zM95.9 170.9h1.2v1.2h-1.2zM103.9 171.9h1.2v1.2h-1.2zM95.9 182.9h1.2v1.2h-1.2zM100.9 181.9h1.2v1.2h-1.2zM88.9 179.9h1.2v1.2h-1.2zM87.9 173.9h1.2v1.2h-1.2zM93.9 171.9h1.2v1.2h-1.2zM74.9 169.9h1.2v1.2h-1.2zM149.9 164.9h1.2v1.2h-1.2zM78.9 169.9h1.2v1.2h-1.2zM101.9 169.9h1.2v1.2h-1.2zM99.9 167.9h1.2v1.2h-1.2zM83.9 172.9h1.2v1.2h-1.2zM80.9 172.9h1.2v1.2h-1.2zM66.9 182.9h1.2v1.2h-1.2zM112.9 173.9h1.2v1.2h-1.2zM76.9 174.9h1.2v1.2h-1.2zM159.9 173.9h1.2v1.2h-1.2zM107.9 176.9h1.2v1.2h-1.2zM110.9 176.9h1.2v1.2h-1.2zM71.9 178.9h1.2v1.2h-1.2zM114.9 174.9h1.2v1.2h-1.2zM145.9 177.9h1.2v1.2h-1.2zM109.9 173.9h1.2v1.2h-1.2zM79.9 178.9h1.2v1.2h-1.2zM87.9 177.9h1.2v1.2h-1.2zM86.9 174.9h1.2v1.2h-1.2zM139.9 161.9h1.2v1.2h-1.2zM78.9 175.9h1.2v1.2h-1.2zM85.9 182.9h1.2v1.2h-1.2zM95.9 182.9h1.2v1.2h-1.2zM88.9 172.9h1.2v1.2h-1.2zM113.9 175.9h1.2v1.2h-1.2zM71.9 172.9h1.2v1.2h-1.2zM85.9 180.9h1.2v1.2h-1.2zM87.9 176.9h1.2v1.2h-1.2zM92.9 172.9h1.2v1.2h-1.2zM97.9 168.9h1.2v1.2h-1.2zM110.9 167.9h1.2v1.2h-1.2zM111.9 173.9h1.2v1.2h-1.2zM88.9 174.9h1.2v1.2h-1.2zM117.9 175.9h1.2v1.2h-1.2zM98.9 177.9h1.2v1.2h-1.2zM136.9 169.9h1.2v1.2h-1.2zM76.9 183.9h1.2v1.2h-1.2zM86.9 179.9h1.2v1.2h-1.2zM103.9 174.9h1.2v1.2h-1.2zM66.9 169.9h1.2v1.2h-1.2zM82.9 170.9h1.2v1.2h-1.2zM83.9 170.9h1.2v1.2h-1.2zM80.9 175.9h1.2v1.2h-1.2zM145.9 163.9h1.2v1.2h-1.2zM85.9 170.9h1.2v1.2h-1.2zM80.9 171.9h1.2v1.2h-1.2zM73.9 182.9h1.2v1.2h-1.2zM139.9 179.9h1.2v1.2h-1.2zM65.9 175.9h1.2v1.2h-1.2zM95.9 176.9h1.2v1.2h-1.2zM98.9 174.9h1.2v1.2h-1.2zM137.9 171.9h1.2v1.2h-1.2zM146.9 164.9h1.2v1.2h-1.2zM73.9 175.9h1.2v1.2h-1.2zM75.9 179.9h1.2v1.2h-1.2zM99.9 176.9h1.2v1.2h-1.2zM84.9 172.9h1.2v1.2h-1.2zM71.9 176.9h1.2v1.2h-1.2zM67.9 182.9h1.2v1.2h-1.2zM82.9 171.9h1.2v1.2h-1.2zM76.9 184.9h1.2v1.2h-1.2zM119.9 174.9h1.2v1.2h-1.2zM123.9 168.9h1.2v1.2h-1.2zM155.9 173.9h1.2v1.2h-1.2zM88.9 176.9h1.2v1.2h-1.2zM77.9 170.9h1.2v1.2h-1.2zM99.9 179.9h1.2v1.2h-1.2zM117.9 178.9h1.2v1.2h-1.2zM87.9 174.9h1.2v1.2h-1.2zM134.9 171.9h1.2v1.2h-1.2zM77.9 174.9h1.2v1.2h-1.2zM99.9 176.9h1.2v1.2h-1.2zM137.9 179.9h1.2v1.2h-1.2zM71.9 176.9h1.2v1.2h-1.2zM72.9 172.9h1.2v1.2h-1.2zM150.9 167.9h1.2v1.2h-1.2zM73.9 172.9h1.2v1.2h-1.2zM108.9 179.9h1.2v1.2h-1.2zM119.9 172.9h1.2v1.2h-1.2zM86.9 169.9h1.2v1.2h-1.2zM99.9 169.9h1.2v1.2h-1.2zM107.9 176.9h1.2v1.2h-1.2zM94.9 169.9h1.2v1.2h-1.2zM127.9 166.9h1.2v1.2h-1.2zM74.9 171.9h1.2v1.2h-1.2zM107.9 171.9h1.2v1.2h-1.2zM80.9 169.9h1.2v1.2h-1.2zM168.9 159.9h1.2v1.2h-1.2zM131.9 174.9h1.2v1.2h-1.2zM158.9 164.9h1.2v1.2h-1.2zM141.9 170.9h1.2v1.2h-1.2zM164.9 162.9h1.2v1.2h-1.2zM76.9 179.9h1.2v1.2h-1.2zM110.9 170.9h1.2v1.2h-1.2zM91.9 181.9h1.2v1.2h-1.2zM132.9 162.9h1.2v1.2h-1.2zM164.9 173.9h1.2v1.2h-1.2zM186.9 173.9h1.2v1.2h-1.2zM85.9 167.9h1.2v1.2h-1.2zM134.9 174.9h1.2v1.2h-1.2zM176.9 174.9h1.2v1.2h-1.2zM133.9 162.9h1.2v1.2h-1.2zM178.9 175.9h1.2v1.2h-1.2zM91.9 161.9h1.2v1.2h-1.2zM148.9 168.9h1.2v1.2h-1.2zM114.9 159.9h1.2v1.2h-1.2zM141.9 158.9h1.2v1.2h-1.2zM94.9 159.9h1.2v1.2h-1.2zM213.9 158.9h1.2v1.2h-1.2zM207.9 159.9h1.2v1.2h-1.2zM162.9 178.9h1.2v1.2h-1.2zM209.9 161.9h1.2v1.2h-1.2zM135.9 180.9h1.2v1.2h-1.2zM204.9 159.9h1.2v1.2h-1.2zM180.9 164.9h1.2v1.2h-1.2zM150.9 158.9h1.2v1.2h-1.2zM181.9 163.9h1.2v1.2h-1.2zM193.9 172.9h1.2v1.2h-1.2zM130.9 169.9h1.2v1.2h-1.2zM90.9 178.9h1.2v1.2h-1.2zM164.9 159.9h1.2v1.2h-1.2zM159.9 172.9h1.2v1.2h-1.2zM147.9 161.9h1.2v1.2h-1.2zM156.9 167.9h1.2v1.2h-1.2zM66.9 167.9h1.2v1.2h-1.2zM61.9 165.9h1.2v1.2h-1.2zM110.9 169.9h1.2v1.2h-1.2zM150.9 172.9h1.2v1.2h-1.2zM136.9 171.9h1.2v1.2h-1.2zM166.9 176.9h1.2v1.2h-1.2zM157.9 167.9h1.2v1.2h-1.2zM138.9 164.9h1.2v1.2h-1.2zM176.9 161.9h1.2v1.2h-1.2zM166.9 172.9h1.2v1.2h-1.2zM74.9 163.9h1.2v1.2h-1.2zM103.9 162.9h1.2v1.2h-1.2zM154.9 172.9h1.2v1.2h-1.2zM197.9 157.9h1.2v1.2h-1.2zM164.9 170.9h1.2v1.2h-1.2zM109.9 179.9h1.2v1.2h-1.2zM176.9 156.9h1.2v1.2h-1.2zM140.9 171.9h1.2v1.2h-1.2zM224.9 166.9h1.2v1.2h-1.2zM171.9 174.9h1.2v1.2h-1.2zM122.9 165.9h1.2v1.2h-1.2zM181.9 168.9h1.2v1.2h-1.2zM141.9 164.9h1.2v1.2h-1.2zM180.9 164.9h1.2v1.2h-1.2zM158.9 162.9h1.2v1.2h-1.2zM132.9 171.9h1.2v1.2h-1.2zM110.9 173.9h1.2v1.2h-1.2zM172.9 157.9h1.2v1.2h-1.2zM145.9 170.9h1.2v1.2h-1.2zM78.9 165.9h1.2v1.2h-1.2zM61.9 163.9h1.2v1.2h-1.2zM197.9 167.9h1.2v1.2h-1.2zM72.9 164.9h1.2v1.2h-1.2zM66.9 181.9h1.2v1.2h-1.2zM181.9 174.9h1.2v1.2h-1.2zM144.9 175.9h1.2v1.2h-1.2zM101.9 182.9h1.2v1.2h-1.2zM141.9 165.9h1.2v1.2h-1.2zM141.9 161.9h1.2v1.2h-1.2zM176.9 159.9h1.2v1.2h-1.2zM163.9 160.9h1.2v1.2h-1.2zM102.9 167.9h1.2v1.2h-1.2zM99.9 173.9h1.2v1.2h-1.2zM70.9 164.9h1.2v1.2h-1.2zM168.9 159.9h1.2v1.2h-1.2zM133.9 164.9h1.2v1.2h-1.2zM120.9 177.9h1.2v1.2h-1.2zM167.9 168.9h1.2v1.2h-1.2zM104.9 162.9h1.2v1.2h-1.2zM139.9 170.9h1.2v1.2h-1.2zM69.9 182.9h1.2v1.2h-1.2zM109.9 164.9h1.2v1.2h-1.2zM111.9 171.9h1.2v1.2h-1.2zM68.9 184.9h1.2v1.2h-1.2zM191.9 173.9h1.2v1.2h-1.2zM122.9 170.9h1.2v1.2h-1.2zM62.9 170.9h1.2v1.2h-1.2zM195.9 164.9h1.2v1.2h-1.2zM120.9 163.9h1.2v1.2h-1.2zM150.9 159.9h1.2v1.2h-1.2zM111.9 176.9h1.2v1.2h-1.2zM183.9 161.9h1.2v1.2h-1.2zM119.9 167.9h1.2v1.2h-1.2zM145.9 157.9h1.2v1.2h-1.2zM113.9 180.9h1.2v1.2h-1.2zM77.9 169.9h1.2v1.2h-1.2zM80.9 168.9h1.2v1.2h-1.2zM125.9 158.9h1.2v1.2h-1.2zM154.9 156.9h1.2v1.2h-1.2zM113.9 162.9h1.2v1.2h-1.2zM185.9 159.9h1.2v1.2h-1.2zM155.9 163.9h1.2v1.2h-1.2zM169.9 172.9h1.2v1.2h-1.2zM201.9 157.9h1.2v1.2h-1.2zM123.9 167.9h1.2v1.2h-1.2zM207.9 163.9h1.2v1.2h-1.2zM123.9 174.9h1.2v1.2h-1.2zM116.9 178.9h1.2v1.2h-1.2zM75.9 167.9h1.2v1.2h-1.2zM186.9 169.9h1.2v1.2h-1.2zM131.9 169.9h1.2v1.2h-1.2zM195.9 155.9h1.2v1.2h-1.2zM154.9 170.9h1.2v1.2h-1.2zM81.9 170.9h1.2v1.2h-1.2zM167.9 174.9h1.2v1.2h-1.2zM91.9 165.9h1.2v1.2h-1.2zM195.9 175.9h1.2v1.2h-1.2zM212.9 173.9h1.2v1.2h-1.2zM178.9 171.9h1.2v1.2h-1.2zM220.9 161.9h1.2v1.2h-1.2zM149.9 164.9h1.2v1.2h-1.2zM187.9 170.9h1.2v1.2h-1.2zM169.9 165.9h1.2v1.2h-1.2zM217.9 160.9h1.2v1.2h-1.2zM154.9 156.9h1.2v1.2h-1.2zM128.9 162.9h1.2v1.2h-1.2zM150.9 163.9h1.2v1.2h-1.2zM115.9 159.9h1.2v1.2h-1.2zM112.9 161.9h1.2v1.2h-1.2zM167.9 176.9h1.2v1.2h-1.2zM179.9 167.9h1.2v1.2h-1.2zM77.9 164.9h1.2v1.2h-1.2zM157.9 163.9h1.2v1.2h-1.2zM93.9 176.9h1.2v1.2h-1.2zM116.9 158.9h1.2v1.2h-1.2zM135.9 164.9h1.2v1.2h-1.2zM104.9 167.9h1.2v1.2h-1.2zM142.9 167.9h1.2v1.2h-1.2zM85.9 160.9h1.2v1.2h-1.2zM172.9 160.9h1.2v1.2h-1.2zM75.9 182.9h1.2v1.2h-1.2zM124.9 169.9h1.2v1.2h-1.2zM177.9 170.9h1.2v1.2h-1.2zM206.9 158.9h1.2v1.2h-1.2zM88.9 170.9h1.2v1.2h-1.2zM136.9 157.9h1.2v1.2h-1.2zM67.9 159.9h1.2v1.2h-1.2zM171.9 164.9h1.2v1.2h-1.2zM130.9 163.9h1.2v1.2h-1.2zM65.9 181.9h1.2v1.2h-1.2zM133.9 165.9h1.2v1.2h-1.2zM182.9 169.9h1.2v1.2h-1.2zM149.9 171.9h1.2v1.2h-1.2zM175.9 165.9h1.2v1.2h-1.2zM119.9 164.9h1.2v1.2h-1.2zM174.9 159.9h1.2v1.2h-1.2zM141.9 160.9h1.2v1.2h-1.2zM213.9 167.9h1.2v1.2h-1.2zM220.9 165.9h1.2v1.2h-1.2zM75.9 182.9h1.2v1.2h-1.2zM75.9 170.9h1.2v1.2h-1.2zM135.9 175.9h1.2v1.2h-1.2zM138.9 176.9h1.2v1.2h-1.2zM134.9 168.9h1.2v1.2h-1.2zM132.9 177.9h1.2v1.2h-1.2zM203.9 159.9h1.2v1.2h-1.2zM178.9 167.9h1.2v1.2h-1.2zM162.9 173.9h1.2v1.2h-1.2zM113.9 173.9h1.2v1.2h-1.2zM170.9 171.9h1.2v1.2h-1.2zM180.9 157.9h1.2v1.2h-1.2zM94.9 168.9h1.2v1.2h-1.2zM97.9 164.9h1.2v1.2h-1.2zM96.9 162.9h1.2v1.2h-1.2zM123.9 173.9h1.2v1.2h-1.2zM141.9 170.9h1.2v1.2h-1.2zM190.9 165.9h1.2v1.2h-1.2zM175.9 163.9h1.2v1.2h-1.2zM163.9 171.9h1.2v1.2h-1.2zM91.9 183.9h1.2v1.2h-1.2zM137.9 165.9h1.2v1.2h-1.2zM167.9 164.9h1.2v1.2h-1.2zM112.9 160.9h1.2v1.2h-1.2zM145.9 161.9h1.2v1.2h-1.2zM165.9 162.9h1.2v1.2h-1.2zM128.9 167.9h1.2v1.2h-1.2zM128.9 170.9h1.2v1.2h-1.2zM162.9 160.9h1.2v1.2h-1.2zM171.9 165.9h1.2v1.2h-1.2zM122.9 171.9h1.2v1.2h-1.2zM148.9 178.9h1.2v1.2h-1.2zM114.9 169.9h1.2v1.2h-1.2zM89.9 183.9h1.2v1.2h-1.2zM118.9 160.9h1.2v1.2h-1.2zM87.9 167.9h1.2v1.2h-1.2zM84.9 165.9h1.2v1.2h-1.2zM151.9 165.9h1.2v1.2h-1.2zM113.9 160.9h1.2v1.2h-1.2zM104.9 165.9h1.2v1.2h-1.2zM134.9 170.9h1.2v1.2h-1.2zM76.9 161.9h1.2v1.2h-1.2zM85.9 162.9h1.2v1.2h-1.2zM102.9 175.9h1.2v1.2h-1.2zM204.9 173.9h1.2v1.2h-1.2zM77.9 184.9h1.2v1.2h-1.2zM154.9 168.9h1.2v1.2h-1.2zM76.9 163.9h1.2v1.2h-1.2zM61.9 175.9h1.2v1.2h-1.2zM171.9 165.9h1.2v1.2h-1.2zM99.9 181.9h1.2v1.2h-1.2zM102.9 180.9h1.2v1.2h-1.2zM132.9 164.9h1.2v1.2h-1.2zM114.9 159.9h1.2v1.2h-1.2zM138.9 178.9h1.2v1.2h-1.2zM181.9 169.9h1.2v1.2h-1.2zM180.9 160.9h1.2v1.2h-1.2zM162.9 174.9h1.2v1.2h-1.2zM179.9 161.9h1.2v1.2h-1.2zM93.9 166.9h1.2v1.2h-1.2zM170.9 170.9h1.2v1.2h-1.2zM200.9 169.9h1.2v1.2h-1.2zM175.9 161.9h1.2v1.2h-1.2zM166.9 172.9h1.2v1.2h-1.2zM78.9 166.9h1.2v1.2h-1.2zM120.9 175.9h1.2v1.2h-1.2zM111.9 171.9h1.2v1.2h-1.2zM74.9 178.9h1.2v1.2h-1.2zM153.9 162.9h1.2v1.2h-1.2zM98.9 158.9h1.2v1.2h-1.2zM170.9 173.9h1.2v1.2h-1.2zM131.9 172.9h1.2v1.2h-1.2zM138.9 159.9h1.2v1.2h-1.2zM95.9 167.9h1.2v1.2h-1.2zM162.9 157.9h1.2v1.2h-1.2zM123.9 170.9h1.2v1.2h-1.2zM150.9 177.9h1.2v1.2h-1.2zM199.9 174.9h1.2v1.2h-1.2zM80.9 172.9h1.2v1.2h-1.2zM138.9 178.9h1.2v1.2h-1.2zM82.9 167.9h1.2v1.2h-1.2zM145.9 166.9h1.2v1.2h-1.2zM182.9 157.9h1.2v1.2h-1.2zM151.9 167.9h1.2v1.2h-1.2zM189.9 161.9h1.2v1.2h-1.2zM116.9 158.9h1.2v1.2h-1.2zM199.9 169.9h1.2v1.2h-1.2zM158.9 162.9h1.2v1.2h-1.2zM122.9 172.9h1.2v1.2h-1.2zM224.9 174.9h1.2v1.2h-1.2zM139.9 171.9h1.2v1.2h-1.2zM79.9 162.9h1.2v1.2h-1.2zM107.9 158.9h1.2v1.2h-1.2zM85.9 163.9h1.2v1.2h-1.2zM169.9 155.9h1.2v1.2h-1.2zM146.9 164.9h1.2v1.2h-1.2zM140.9 178.9h1.2v1.2h-1.2zM148.9 164.9h1.2v1.2h-1.2zM185.9 161.9h1.2v1.2h-1.2zM122.9 167.9h1.2v1.2h-1.2zM110.9 159.9h1.2v1.2h-1.2zM167.9 173.9h1.2v1.2h-1.2zM156.9 163.9h1.2v1.2h-1.2zM145.9 175.9h1.2v1.2h-1.2zM100.9 166.9h1.2v1.2h-1.2zM187.9 157.9h1.2v1.2h-1.2zM175.9 157.9h1.2v1.2h-1.2zM203.9 158.9h1.2v1.2h-1.2zM150.9 171.9h1.2v1.2h-1.2zM127.9 164.9h1.2v1.2h-1.2zM106.9 159.9h1.2v1.2h-1.2zM196.9 159.9h1.2v1.2h-1.2zM78.9 170.9h1.2v1.2h-1.2zM158.9 170.9h1.2v1.2h-1.2zM172.9 164.9h1.2v1.2h-1.2zM131.9 163.9h1.2v1.2h-1.2zM178.9 158.9h1.2v1.2h-1.2zM122.9 176.9h1.2v1.2h-1.2zM221.9 167.9h1.2v1.2h-1.2zM106.9 180.9h1.2v1.2h-1.2zM85.9 186.9h1.2v1.2h-1.2zM191.9 155.9h1.2v1.2h-1.2zM198.9 172.9h1.2v1.2h-1.2zM195.9 160.9h1.2v1.2h-1.2zM138.9 159.9h1.2v1.2h-1.2zM98.9 168.9h1.2v1.2h-1.2zM138.9 160.9h1.2v1.2h-1.2zM87.9 172.9h1.2v1.2h-1.2zM125.9 181.9h1.2v1.2h-1.2zM132.9 164.9h1.2v1.2h-1.2zM136.9 164.9h1.2v1.2h-1.2zM107.9 175.9h1.2v1.2h-1.2zM108.9 170.9h1.2v1.2h-1.2zM143.9 158.9h1.2v1.2h-1.2zM99.9 158.9h1.2v1.2h-1.2zM114.9 160.9h1.2v1.2h-1.2zM156.9 161.9h1.2v1.2h-1.2zM134.9 178.9h1.2v1.2h-1.2zM163.9 169.9h1.2v1.2h-1.2zM231.9 171.9h1.2v1.2h-1.2zM111.9 179.9h1.2v1.2h-1.2zM189.9 158.9h1.2v1.2h-1.2zM158.9 174.9h1.2v1.2h-1.2zM97.9 159.9h1.2v1.2h-1.2zM169.9 163.9h1.2v1.2h-1.2zM121.9 174.9h1.2v1.2h-1.2zM185.9 167.9h1.2v1.2h-1.2zM158.9 176.9h1.2v1.2h-1.2zM97.9 180.9h1.2v1.2h-1.2zM181.9 168.9h1.2v1.2h-1.2zM197.9 170.9h1.2v1.2h-1.2zM161.9 158.9h1.2v1.2h-1.2zM187.9 170.9h1.2v1.2h-1.2zM89.9 177.9h1.2v1.2h-1.2zM117.9 174.9h1.2v1.2h-1.2zM119.9 177.9h1.2v1.2h-1.2zM130.9 168.9h1.2v1.2h-1.2zM170.9 168.9h1.2v1.2h-1.2zM148.9 162.9h1.2v1.2h-1.2zM194.9 170.9h1.2v1.2h-1.2zM189.9 164.9h1.2v1.2h-1.2zM147.9 168.9h1.2v1.2h-1.2zM67.9 170.9h1.2v1.2h-1.2zM186.9 173.9h1.2v1.2h-1.2zM129.9 169.9h1.2v1.2h-1.2zM127.9 159.9h1.2v1.2h-1.2zM103.9 160.9h1.2v1.2h-1.2zM62.9 180.9h1.2v1.2h-1.2zM146.9 164.9h1.2v1.2h-1.2zM134.9 172.9h1.2v1.2h-1.2zM138.9 159.9h1.2v1.2h-1.2zM201.9 163.9h1.2v1.2h-1.2zM161.9 157.9h1.2v1.2h-1.2zM150.9 161.9h1.2v1.2h-1.2zM175.9 167.9h1.2v1.2h-1.2zM84.9 171.9h1.2v1.2h-1.2zM157.9 159.9h1.2v1.2h-1.2zM211.9 164.9h1.2v1.2h-1.2zM115.9 177.9h1.2v1.2h-1.2zM219.9 158.9h1.2v1.2h-1.2zM186.9 161.9h1.2v1.2h-1.2zM165.9 168.9h1.2v1.2h-1.2zM194.9 174.9h1.2v1.2h-1.2zM173.9 161.9h1.2v1.2h-1.2zM163.9 169.9h1.2v1.2h-1.2zM195.9 163.9h1.2v1.2h-1.2zM188.9 173.9h1.2v1.2h-1.2zM98.9 175.9h1.2v1.2h-1.2zM79.9 161.9h1.2v1.2h-1.2zM90.9 162.9h1.2v1.2h-1.2zM161.9 171.9h1.2v1.2h-1.2zM172.9 178.9h1.2v1.2h-1.2zM86.9 179.9h1.2v1.2h-1.2zM147.9 166.9h1.2v1.2h-1.2zM91.9 165.9h1.2v1.2h-1.2zM186.9 167.9h1.2v1.2h-1.2zM142.9 175.9h1.2v1.2h-1.2zM133.9 178.9h1.2v1.2h-1.2zM193.9 170.9h1.2v1.2h-1.2zM199.9 168.9h1.2v1.2h-1.2zM125.9 166.9h1.2v1.2h-1.2zM75.9 186.9h1.2v1.2h-1.2zM112.9 168.9h1.2v1.2h-1.2zM112.9 174.9h1.2v1.2h-1.2zM183.9 167.9h1.2v1.2h-1.2zM72.9 164.9h1.2v1.2h-1.2zM123.9 162.9h1.2v1.2h-1.2zM70.9 185.9h1.2v1.2h-1.2zM136.9 177.9h1.2v1.2h-1.2zM145.9 170.9h1.2v1.2h-1.2zM78.9 178.9h1.2v1.2h-1.2zM187.9 158.9h1.2v1.2h-1.2zM104.9 164.9h1.2v1.2h-1.2zM102.9 171.9h1.2v1.2h-1.2zM124.9 180.9h1.2v1.2h-1.2zM150.9 172.9h1.2v1.2h-1.2zM209.9 176.9h1.2v1.2h-1.2zM64.9 173.9h1.2v1.2h-1.2zM197.9 170.9h1.2v1.2h-1.2zM134.9 161.9h1.2v1.2h-1.2zM70.9 186.9h1.2v1.2h-1.2zM135.9 179.9h1.2v1.2h-1.2zM103.9 172.9h1.2v1.2h-1.2zM158.9 172.9h1.2v1.2h-1.2zM72.9 162.9h1.2v1.2h-1.2zM167.9 166.9h1.2v1.2h-1.2zM102.9 164.9h1.2v1.2h-1.2zM82.9 181.9h1.2v1.2h-1.2zM180.9 162.9h1.2v1.2h-1.2zM149.9 178.9h1.2v1.2h-1.2zM97.9 174.9h1.2v1.2h-1.2zM168.9 166.9h1.2v1.2h-1.2zM135.9 173.9h1.2v1.2h-1.2zM184.9 165.9h1.2v1.2h-1.2zM153.9 172.9h1.2v1.2h-1.2zM186.9 165.9h1.2v1.2h-1.2zM111.9 166.9h1.2v1.2h-1.2zM143.9 175.9h1.2v1.2h-1.2zM75.9 179.9h1.2v1.2h-1.2zM109.9 162.9h1.2v1.2h-1.2zM184.9 166.9h1.2v1.2h-1.2zM127.9 178.9h1.2v1.2h-1.2zM174.9 168.9h1.2v1.2h-1.2zM197.9 166.9h1.2v1.2h-1.2zM149.9 162.9h1.2v1.2h-1.2zM122.9 179.9h1.2v1.2h-1.2zM184.9 163.9h1.2v1.2h-1.2zM178.9 164.9h1.2v1.2h-1.2zM177.9 167.9h1.2v1.2h-1.2zM145.9 158.9h1.2v1.2h-1.2zM191.9 165.9h1.2v1.2h-1.2zM138.9 171.9h1.2v1.2h-1.2zM132.9 179.9h1.2v1.2h-1.2zM144.9 173.9h1.2v1.2h-1.2zM64.9 160.9h1.2v1.2h-1.2zM77.9 168.9h1.2v1.2h-1.2zM142.9 168.9h1.2v1.2h-1.2zM94.9 169.9h1.2v1.2h-1.2zM77.9 181.9h1.2v1.2h-1.2zM82.9 178.9h1.2v1.2h-1.2zM149.9 178.9h1.2v1.2h-1.2zM217.9 163.9h1.2v1.2h-1.2zM78.9 173.9h1.2v1.2h-1.2zM145.9 158.9h1.2v1.2h-1.2zM211.9 158.9h1.2v1.2h-1.2zM165.9 156.9h1.2v1.2h-1.2zM118.9 162.9h1.2v1.2h-1.2zM198.9 165.9h1.2v1.2h-1.2zM131.9 158.9h1.2v1.2h-1.2zM94.9 159.9h1.2v1.2h-1.2zM112.9 176.9h1.2v1.2h-1.2zM187.9 157.9h1.2v1.2h-1.2zM104.9 180.9h1.2v1.2h-1.2zM146.9 167.9h1.2v1.2h-1.2zM207.9 159.9h1.2v1.2h-1.2zM189.9 159.9h1.2v1.2h-1.2zM220.9 169.9h1.2v1.2h-1.2zM186.9 157.9h1.2v1.2h-1.2zM199.9 170.9h1.2v1.2h-1.2zM96.9 176.9h1.2v1.2h-1.2zM195.9 163.9h1.2v1.2h-1.2zM179.9 176.9h1.2v1.2h-1.2zM213.9 166.9h1.2v1.2h-1.2zM221.9 165.9h1.2v1.2h-1.2zM109.9 173.9h1.2v1.2h-1.2zM136.9 172.9h1.2v1.2h-1.2zM157.9 166.9h1.2v1.2h-1.2zM195.9 163.9h1.2v1.2h-1.2zM145.9 178.9h1.2v1.2h-1.2zM75.9 166.9h1.2v1.2h-1.2zM210.9 170.9h1.2v1.2h-1.2zM172.9 162.9h1.2v1.2h-1.2zM121.9 179.9h1.2v1.2h-1.2zM194.9 176.9h1.2v1.2h-1.2zM223.9 169.9h1.2v1.2h-1.2zM73.9 166.9h1.2v1.2h-1.2zM97.9 167.9h1.2v1.2h-1.2zM212.9 169.9h1.2v1.2h-1.2zM165.9 166.9h1.2v1.2h-1.2zM185.9 171.9h1.2v1.2h-1.2zM162.9 160.9h1.2v1.2h-1.2zM155.9 165.9h1.2v1.2h-1.2zM194.9 169.9h1.2v1.2h-1.2zM178.9 175.9h1.2v1.2h-1.2zM176.9 173.9h1.2v1.2h-1.2zM119.9 168.9h1.2v1.2h-1.2zM195.9 162.9h1.2v1.2h-1.2zM192.9 173.9h1.2v1.2h-1.2zM195.9 165.9h1.2v1.2h-1.2zM190.9 166.9h1.2v1.2h-1.2zM112.9 174.9h1.2v1.2h-1.2zM155.9 165.9h1.2v1.2h-1.2zM195.9 176.9h1.2v1.2h-1.2zM109.9 164.9h1.2v1.2h-1.2zM192.9 155.9h1.2v1.2h-1.2zM96.9 160.9h1.2v1.2h-1.2zM161.9 168.9h1.2v1.2h-1.2zM160.9 174.9h1.2v1.2h-1.2zM144.9 169.9h1.2v1.2h-1.2zM105.9 180.9h1.2v1.2h-1.2zM110.9 178.9h1.2v1.2h-1.2zM194.9 174.9h1.2v1.2h-1.2zM127.9 165.9h1.2v1.2h-1.2zM145.9 169.9h1.2v1.2h-1.2zM90.9 184.9h1.2v1.2h-1.2zM199.9 170.9h1.2v1.2h-1.2zM120.9 168.9h1.2v1.2h-1.2zM88.9 172.9h1.2v1.2h-1.2zM167.9 172.9h1.2v1.2h-1.2zM132.9 168.9h1.2v1.2h-1.2zM73.9 179.9h1.2v1.2h-1.2zM211.9 164.9h1.2v1.2h-1.2zM124.9 162.9h1.2v1.2h-1.2zM129.9 174.9h1.2v1.2h-1.2zM173.9 161.9h1.2v1.2h-1.2zM199.9 175.9h1.2v1.2h-1.2zM100.9 183.9h1.2v1.2h-1.2zM182.9 159.9h1.2v1.2h-1.2zM145.9 173.9h1.2v1.2h-1.2zM143.9 178.9h1.2v1.2h-1.2zM86.9 174.9h1.2v1.2h-1.2zM63.9 178.9h1.2v1.2h-1.2zM103.9 177.9h1.2v1.2h-1.2zM167.9 162.9h1.2v1.2h-1.2zM180.9 156.9h1.2v1.2h-1.2zM181.9 163.9h1.2v1.2h-1.2zM193.9 167.9h1.2v1.2h-1.2zM166.9 178.9h1.2v1.2h-1.2zM85.9 181.9h1.2v1.2h-1.2zM117.9 179.9h1.2v1.2h-1.2zM72.9 175.9h1.2v1.2h-1.2zM144.9 167.9h1.2v1.2h-1.2zM150.9 163.9h1.2v1.2h-1.2zM188.9 176.9h1.2v1.2h-1.2zM190.9 171.9h1.2v1.2h-1.2zM217.9 169.9h1.2v1.2h-1.2zM120.9 171.9h1.2v1.2h-1.2zM159.9 165.9h1.2v1.2h-1.2zM81.9 182.9h1.2v1.2h-1.2zM151.9 159.9h1.2v1.2h-1.2zM111.9 175.9h1.2v1.2h-1.2zM131.9 171.9h1.2v1.2h-1.2zM125.9 169.9h1.2v1.2h-1.2zM159.9 158.9h1.2v1.2h-1.2zM188.9 169.9h1.2v1.2h-1.2zM135.9 164.9h1.2v1.2h-1.2zM195.9 163.9h1.2v1.2h-1.2zM179.9 174.9h1.2v1.2h-1.2zM216.9 170.9h1.2v1.2h-1.2zM213.9 169.9h1.2v1.2h-1.2zM92.9 162.9h1.2v1.2h-1.2zM134.9 177.9h1.2v1.2h-1.2zM69.9 183.9h1.2v1.2h-1.2zM142.9 179.9h1.2v1.2h-1.2zM81.9 178.9h1.2v1.2h-1.2zM125.9 160.9h1.2v1.2h-1.2zM84.9 161.9h1.2v1.2h-1.2zM122.9 172.9h1.2v1.2h-1.2zM157.9 156.9h1.2v1.2h-1.2zM209.9 176.9h1.2v1.2h-1.2zM206.9 166.9h1.2v1.2h-1.2zM171.9 171.9h1.2v1.2h-1.2zM179.9 171.9h1.2v1.2h-1.2zM164.9 173.9h1.2v1.2h-1.2zM145.9 168.9h1.2v1.2h-1.2zM147.9 162.9h1.2v1.2h-1.2zM170.9 164.9h1.2v1.2h-1.2zM174.9 168.9h1.2v1.2h-1.2zM145.9 168.9h1.2v1.2h-1.2zM168.9 172.9h1.2v1.2h-1.2zM174.9 156.9h1.2v1.2h-1.2zM194.9 163.9h1.2v1.2h-1.2zM203.9 161.9h1.2v1.2h-1.2zM100.9 178.9h1.2v1.2h-1.2zM65.9 185.9h1.2v1.2h-1.2zM187.9 169.9h1.2v1.2h-1.2zM185.9 158.9h1.2v1.2h-1.2zM82.9 182.9h1.2v1.2h-1.2zM151.9 168.9h1.2v1.2h-1.2zM120.9 168.9h1.2v1.2h-1.2zM164.9 171.9h1.2v1.2h-1.2zM189.9 163.9h1.2v1.2h-1.2zM193.9 158.9h1.2v1.2h-1.2zM163.9 168.9h1.2v1.2h-1.2zM87.9 171.9h1.2v1.2h-1.2zM177.9 163.9h1.2v1.2h-1.2zM188.9 159.9h1.2v1.2h-1.2zM132.9 161.9h1.2v1.2h-1.2zM184.9 156.9h1.2v1.2h-1.2zM140.9 171.9h1.2v1.2h-1.2zM204.9 174.9h1.2v1.2h-1.2zM84.9 172.9h1.2v1.2h-1.2zM192.9 165.9h1.2v1.2h-1.2zM149.9 163.9h1.2v1.2h-1.2zM162.9 178.9h1.2v1.2h-1.2zM205.9 164.9h1.2v1.2h-1.2zM146.9 173.9h1.2v1.2h-1.2zM140.9 169.9h1.2v1.2h-1.2zM79.9 160.9h1.2v1.2h-1.2zM172.9 171.9h1.2v1.2h-1.2zM174.9 159.9h1.2v1.2h-1.2zM183.9 158.9h1.2v1.2h-1.2zM82.9 184.9h1.2v1.2h-1.2zM86.9 182.9h1.2v1.2h-1.2zM139.9 162.9h1.2v1.2h-1.2zM122.9 171.9h1.2v1.2h-1.2zM98.9 173.9h1.2v1.2h-1.2zM179.9 165.9h1.2v1.2h-1.2zM143.9 178.9h1.2v1.2h-1.2zM82.9 168.9h1.2v1.2h-1.2zM115.9 175.9h1.2v1.2h-1.2zM124.9 162.9h1.2v1.2h-1.2zM65.9 169.9h1.2v1.2h-1.2zM100.9 167.9h1.2v1.2h-1.2zM170.9 167.9h1.2v1.2h-1.2zM185.9 165.9h1.2v1.2h-1.2zM148.9 167.9h1.2v1.2h-1.2zM116.9 174.9h1.2v1.2h-1.2zM82.9 161.9h1.2v1.2h-1.2zM75.9 169.9h1.2v1.2h-1.2zM82.9 174.9h1.2v1.2h-1.2zM175.9 172.9h1.2v1.2h-1.2zM108.9 180.9h1.2v1.2h-1.2zM85.9 184.9h1.2v1.2h-1.2zM229.9 160.9h1.2v1.2h-1.2zM182.9 172.9h1.2v1.2h-1.2zM65.9 168.9h1.2v1.2h-1.2zM157.9 176.9h1.2v1.2h-1.2zM95.9 172.9h1.2v1.2h-1.2zM123.9 162.9h1.2v1.2h-1.2zM70.9 178.9h1.2v1.2h-1.2zM73.9 168.9h1.2v1.2h-1.2zM196.9 170.9h1.2v1.2h-1.2zM137.9 166.9h1.2v1.2h-1.2zM173.9 168.9h1.2v1.2h-1.2zM180.9 171.9h1.2v1.2h-1.2zM109.9 158.9h1.2v1.2h-1.2zM93.9 183.9h1.2v1.2h-1.2zM128.9 158.9h1.2v1.2h-1.2zM68.9 179.9h1.2v1.2h-1.2zM145.9 158.9h1.2v1.2h-1.2zM103.9 167.9h1.2v1.2h-1.2zM175.9 165.9h1.2v1.2h-1.2zM193.9 170.9h1.2v1.2h-1.2zM118.9 164.9h1.2v1.2h-1.2zM172.9 165.9h1.2v1.2h-1.2zM69.9 177.9h1.2v1.2h-1.2zM79.9 180.9h1.2v1.2h-1.2zM139.9 171.9h1.2v1.2h-1.2zM145.9 158.9h1.2v1.2h-1.2zM69.9 176.9h1.2v1.2h-1.2zM194.9 158.9h1.2v1.2h-1.2zM199.9 158.9h1.2v1.2h-1.2zM209.9 160.9h1.2v1.2h-1.2zM189.9 156.9h1.2v1.2h-1.2zM177.9 167.9h1.2v1.2h-1.2zM86.9 161.9h1.2v1.2h-1.2zM158.9 167.9h1.2v1.2h-1.2zM179.9 170.9h1.2v1.2h-1.2zM189.9 157.9h1.2v1.2h-1.2zM68.9 175.9h1.2v1.2h-1.2zM79.9 179.9h1.2v1.2h-1.2zM201.9 171.9h1.2v1.2h-1.2zM146.9 168.9h1.2v1.2h-1.2zM134.9 157.9h1.2v1.2h-1.2zM196.9 157.9h1.2v1.2h-1.2zM194.9 174.9h1.2v1.2h-1.2zM224.9 162.9h1.2v1.2h-1.2zM72.9 171.9h1.2v1.2h-1.2zM140.9 168.9h1.2v1.2h-1.2zM169.9 158.9h1.2v1.2h-1.2zM96.9 183.9h1.2v1.2h-1.2zM111.9 168.9h1.2v1.2h-1.2zM164.9 160.9h1.2v1.2h-1.2zM183.9 157.9h1.2v1.2h-1.2zM178.9 164.9h1.2v1.2h-1.2zM86.9 161.9h1.2v1.2h-1.2zM197.9 166.9h1.2v1.2h-1.2zM199.9 162.9h1.2v1.2h-1.2zM180.9 174.9h1.2v1.2h-1.2zM156.9 161.9h1.2v1.2h-1.2zM126.9 164.9h1.2v1.2h-1.2zM182.9 164.9h1.2v1.2h-1.2zM205.9 176.9h1.2v1.2h-1.2zM127.9 169.9h1.2v1.2h-1.2zM132.9 160.9h1.2v1.2h-1.2zM107.9 161.9h1.2v1.2h-1.2zM202.9 160.9h1.2v1.2h-1.2zM132.9 161.9h1.2v1.2h-1.2zM196.9 168.9h1.2v1.2h-1.2zM118.9 162.9h1.2v1.2h-1.2zM154.9 163.9h1.2v1.2h-1.2zM147.9 161.9h1.2v1.2h-1.2zM194.9 167.9h1.2v1.2h-1.2zM192.9 164.9h1.2v1.2h-1.2zM191.9 173.9h1.2v1.2h-1.2zM141.9 179.9h1.2v1.2h-1.2zM105.9 172.9h1.2v1.2h-1.2zM146.9 166.9h1.2v1.2h-1.2zM91.9 176.9h1.2v1.2h-1.2zM168.9 176.9h1.2v1.2h-1.2zM347.9 127.9h1.2v1.2h-1.2zM335.9 130.9h1.2v1.2h-1.2zM338.9 121.9h1.2v1.2h-1.2zM340.9 114.9h1.2v1.2h-1.2zM346.9 123.9h1.2v1.2h-1.2zM342.9 127.9h1.2v1.2h-1.2zM342.9 119.9h1.2v1.2h-1.2zM339.9 131.9h1.2v1.2h-1.2zM342.9 126.9h1.2v1.2h-1.2zM339.9 118.9h1.2v1.2h-1.2zM333.9 118.9h1.2v1.2h-1.2zM344.9 125.9h1.2v1.2h-1.2zM334.9 135.9h1.2v1.2h-1.2zM331.9 130.9h1.2v1.2h-1.2zM336.9 118.9h1.2v1.2h-1.2zM342.9 122.9h1.2v1.2h-1.2zM343.9 125.9h1.2v1.2h-1.2zM337.9 128.9h1.2v1.2h-1.2zM343.9 125.9h1.2v1.2h-1.2zM347.9 114.9h1.2v1.2h-1.2zM394.9 97.9h1.2v1.2h-1.2zM357.9 100.9h1.2v1.2h-1.2zM403.9 105.9h1.2v1.2h-1.2zM357.9 104.9h1.2v1.2h-1.2zM366.9 106.9h1.2v1.2h-1.2zM418.9 103.9h1.2v1.2h-1.2zM359.9 112.9h1.2v1.2h-1.2zM404.9 96.9h1.2v1.2h-1.2zM386.9 106.9h1.2v1.2h-1.2zM470.9 107.9h1.2v1.2h-1.2zM406.9 110.9h1.2v1.2h-1.2zM418.9 101.9h1.2v1.2h-1.2zM392.9 108.9h1.2v1.2h-1.2zM403.9 108.9h1.2v1.2h-1.2zM457.9 104.9h1.2v1.2h-1.2zM405.9 98.9h1.2v1.2h-1.2zM400.9 107.9h1.2v1.2h-1.2zM419.9 108.9h1.2v1.2h-1.2zM370.9 102.9h1.2v1.2h-1.2zM405.9 101.9h1.2v1.2h-1.2zM418.9 109.9h1.2v1.2h-1.2zM467.9 104.9h1.2v1.2h-1.2zM397.9 106.9h1.2v1.2h-1.2zM423.9 99.9h1.2v1.2h-1.2zM385.9 107.9h1.2v1.2h-1.2zM347.9 101.9h1.2v1.2h-1.2zM411.9 107.9h1.2v1.2h-1.2zM361.9 111.9h1.2v1.2h-1.2zM377.9 102.9h1.2v1.2h-1.2zM368.9 107.9h1.2v1.2h-1.2zM480.9 103.9h1.2v1.2h-1.2zM398.9 102.9h1.2v1.2h-1.2zM383.9 107.9h1.2v1.2h-1.2zM355.9 99.9h1.2v1.2h-1.2zM381.9 110.9h1.2v1.2h-1.2zM407.9 111.9h1.2v1.2h-1.2zM425.9 102.9h1.2v1.2h-1.2zM424.9 100.9h1.2v1.2h-1.2zM468.9 109.9h1.2v1.2h-1.2zM458.9 102.9h1.2v1.2h-1.2zM371.9 97.9h1.2v1.2h-1.2zM426.9 112.9h1.2v1.2h-1.2zM391.9 103.9h1.2v1.2h-1.2zM368.9 106.9h1.2v1.2h-1.2zM456.9 107.9h1.2v1.2h-1.2zM471.9 106.9h1.2v1.2h-1.2zM390.9 107.9h1.2v1.2h-1.2zM351.9 110.9h1.2v1.2h-1.2zM450.9 100.9h1.2v1.2h-1.2zM376.9 111.9h1.2v1.2h-1.2zM377.9 102.9h1.2v1.2h-1.2zM356.9 109.9h1.2v1.2h-1.2zM442.9 108.9h1.2v1.2h-1.2zM418.9 105.9h1.2v1.2h-1.2zM376.9 99.9h1.2v1.2h-1.2zM416.9 99.9h1.2v1.2h-1.2zM348.9 106.9h1.2v1.2h-1.2zM402.9 97.9h1.2v1.2h-1.2zM377.9 110.9h1.2v1.2h-1.2zM360.9 108.9h1.2v1.2h-1.2zM362.9 108.9h1.2v1.2h-1.2zM397.9 105.9h1.2v1.2h-1.2zM383.9 106.9h1.2v1.2h-1.2zM425.9 110.9h1.2v1.2h-1.2zM413.9 107.9h1.2v1.2h-1.2zM356.9 105.9h1.2v1.2h-1.2zM394.9 112.9h1.2v1.2h-1.2zM387.9 101.9h1.2v1.2h-1.2zM361.9 106.9h1.2v1.2h-1.2zM376.9 98.9h1.2v1.2h-1.2zM352.9 103.9h1.2v1.2h-1.2zM384.9 100.9h1.2v1.2h-1.2zM402.9 100.9h1.2v1.2h-1.2zM390.9 106.9h1.2v1.2h-1.2zM370.9 106.9h1.2v1.2h-1.2zM430.9 104.9h1.2v1.2h-1.2zM407.9 99.9h1.2v1.2h-1.2zM395.9 106.9h1.2v1.2h-1.2zM373.9 103.9h1.2v1.2h-1.2zM387.9 109.9h1.2v1.2h-1.2zM420.9 99.9h1.2v1.2h-1.2zM377.9 107.9h1.2v1.2h-1.2zM424.9 107.9h1.2v1.2h-1.2zM429.9 101.9h1.2v1.2h-1.2zM446.9 99.9h1.2v1.2h-1.2zM415.9 100.9h1.2v1.2h-1.2zM364.9 106.9h1.2v1.2h-1.2zM420.9 109.9h1.2v1.2h-1.2zM366.9 106.9h1.2v1.2h-1.2zM397.9 101.9h1.2v1.2h-1.2zM402.9 104.9h1.2v1.2h-1.2zM357.9 109.9h1.2v1.2h-1.2zM385.9 102.9h1.2v1.2h-1.2zM452.9 101.9h1.2v1.2h-1.2zM407.9 102.9h1.2v1.2h-1.2zM408.9 111.9h1.2v1.2h-1.2zM355.9 108.9h1.2v1.2h-1.2zM421.9 110.9h1.2v1.2h-1.2zM416.9 104.9h1.2v1.2h-1.2zM351.9 109.9h1.2v1.2h-1.2zM428.9 108.9h1.2v1.2h-1.2zM361.9 104.9h1.2v1.2h-1.2zM428.9 99.9h1.2v1.2h-1.2zM415.9 135.9h1.2v1.2h-1.2zM397.9 136.9h1.2v1.2h-1.2zM389.9 126.9h1.2v1.2h-1.2zM363.9 128.9h1.2v1.2h-1.2zM392.9 133.9h1.2v1.2h-1.2zM385.9 124.9h1.2v1.2h-1.2zM410.9 123.9h1.2v1.2h-1.2zM373.9 131.9h1.2v1.2h-1.2zM406.9 126.9h1.2v1.2h-1.2zM376.9 128.9h1.2v1.2h-1.2zM397.9 116.9h1.2v1.2h-1.2zM388.9 127.9h1.2v1.2h-1.2zM407.9 126.9h1.2v1.2h-1.2zM401.9 118.9h1.2v1.2h-1.2zM410.9 113.9h1.2v1.2h-1.2zM385.9 122.9h1.2v1.2h-1.2zM411.9 122.9h1.2v1.2h-1.2zM389.9 122.9h1.2v1.2h-1.2zM395.9 124.9h1.2v1.2h-1.2zM383.9 139.9h1.2v1.2h-1.2zM400.9 125.9h1.2v1.2h-1.2zM410.9 132.9h1.2v1.2h-1.2zM367.9 115.9h1.2v1.2h-1.2zM380.9 135.9h1.2v1.2h-1.2zM374.9 118.9h1.2v1.2h-1.2zM390.9 129.9h1.2v1.2h-1.2zM419.9 111.9h1.2v1.2h-1.2zM407.9 124.9h1.2v1.2h-1.2zM407.9 127.9h1.2v1.2h-1.2zM405.9 115.9h1.2v1.2h-1.2zM380.9 126.9h1.2v1.2h-1.2zM398.9 138.9h1.2v1.2h-1.2zM392.9 137.9h1.2v1.2h-1.2zM395.9 122.9h1.2v1.2h-1.2zM390.9 113.9h1.2v1.2h-1.2zM389.9 118.9h1.2v1.2h-1.2zM393.9 126.9h1.2v1.2h-1.2zM393.9 121.9h1.2v1.2h-1.2zM378.9 134.9h1.2v1.2h-1.2zM389.9 111.9h1.2v1.2h-1.2zM396.9 115.9h1.2v1.2h-1.2zM371.9 111.9h1.2v1.2h-1.2zM371.9 122.9h1.2v1.2h-1.2zM397.9 127.9h1.2v1.2h-1.2zM407.9 129.9h1.2v1.2h-1.2zM364.9 114.9h1.2v1.2h-1.2zM392.9 129.9h1.2v1.2h-1.2zM383.9 116.9h1.2v1.2h-1.2zM366.9 118.9h1.2v1.2h-1.2zM425.9 129.9h1.2v1.2h-1.2zM370.9 123.9h1.2v1.2h-1.2zM378.9 115.9h1.2v1.2h-1.2zM384.9 127.9h1.2v1.2h-1.2zM421.9 115.9h1.2v1.2h-1.2zM394.9 121.9h1.2v1.2h-1.2zM412.9 112.9h1.2v1.2h-1.2zM383.9 133.9h1.2v1.2h-1.2zM390.9 114.9h1.2v1.2h-1.2zM413.9 129.9h1.2v1.2h-1.2zM392.9 130.9h1.2v1.2h-1.2zM386.9 114.9h1.2v1.2h-1.2zM420.9 120.9h1.2v1.2h-1.2zM412.9 119.9h1.2v1.2h-1.2zM405.9 113.9h1.2v1.2h-1.2zM395.9 121.9h1.2v1.2h-1.2zM421.9 134.9h1.2v1.2h-1.2zM405.9 133.9h1.2v1.2h-1.2zM394.9 113.9h1.2v1.2h-1.2zM404.9 135.9h1.2v1.2h-1.2zM413.9 127.9h1.2v1.2h-1.2zM389.9 112.9h1.2v1.2h-1.2zM394.9 136.9h1.2v1.2h-1.2zM419.9 117.9h1.2v1.2h-1.2zM402.9 127.9h1.2v1.2h-1.2zM402.9 111.9h1.2v1.2h-1.2zM382.9 128.9h1.2v1.2h-1.2zM379.9 110.9h1.2v1.2h-1.2zM408.9 118.9h1.2v1.2h-1.2zM421.9 131.9h1.2v1.2h-1.2zM381.9 113.9h1.2v1.2h-1.2zM403.9 136.9h1.2v1.2h-1.2zM390.9 111.9h1.2v1.2h-1.2zM415.9 126.9h1.2v1.2h-1.2zM385.9 113.9h1.2v1.2h-1.2zM385.9 135.9h1.2v1.2h-1.2zM396.9 118.9h1.2v1.2h-1.2zM373.9 119.9h1.2v1.2h-1.2zM394.9 137.9h1.2v1.2h-1.2zM364.9 129.9h1.2v1.2h-1.2zM423.9 127.9h1.2v1.2h-1.2zM421.9 121.9h1.2v1.2h-1.2zM402.9 131.9h1.2v1.2h-1.2zM404.9 130.9h1.2v1.2h-1.2zM397.9 119.9h1.2v1.2h-1.2zM391.9 114.9h1.2v1.2h-1.2zM385.9 119.9h1.2v1.2h-1.2zM421.9 115.9h1.2v1.2h-1.2zM415.9 130.9h1.2v1.2h-1.2zM423.9 135.9h1.2v1.2h-1.2zM395.9 119.9h1.2v1.2h-1.2zM423.9 112.9h1.2v1.2h-1.2zM404.9 134.9h1.2v1.2h-1.2zM410.9 122.9h1.2v1.2h-1.2zM420.9 118.9h1.2v1.2h-1.2zM403.9 128.9h1.2v1.2h-1.2zM413.9 135.9h1.2v1.2h-1.2zM401.9 124.9h1.2v1.2h-1.2zM409.9 127.9h1.2v1.2h-1.2zM394.9 113.9h1.2v1.2h-1.2zM366.9 130.9h1.2v1.2h-1.2zM377.9 139.9h1.2v1.2h-1.2zM387.9 139.9h1.2v1.2h-1.2zM426.9 131.9h1.2v1.2h-1.2zM405.9 135.9h1.2v1.2h-1.2zM401.9 114.9h1.2v1.2h-1.2zM415.9 124.9h1.2v1.2h-1.2zM400.9 117.9h1.2v1.2h-1.2zM368.9 133.9h1.2v1.2h-1.2zM403.9 129.9h1.2v1.2h-1.2zM409.9 137.9h1.2v1.2h-1.2zM398.9 122.9h1.2v1.2h-1.2zM423.9 122.9h1.2v1.2h-1.2zM376.9 126.9h1.2v1.2h-1.2zM399.9 112.9h1.2v1.2h-1.2zM378.9 118.9h1.2v1.2h-1.2zM411.9 112.9h1.2v1.2h-1.2zM390.9 130.9h1.2v1.2h-1.2zM385.9 114.9h1.2v1.2h-1.2zM401.9 123.9h1.2v1.2h-1.2zM384.9 124.9h1.2v1.2h-1.2zM388.9 130.9h1.2v1.2h-1.2zM398.9 131.9h1.2v1.2h-1.2zM367.9 134.9h1.2v1.2h-1.2zM391.9 124.9h1.2v1.2h-1.2zM417.9 125.9h1.2v1.2h-1.2zM380.9 135.9h1.2v1.2h-1.2zM414.9 131.9h1.2v1.2h-1.2zM404.9 112.9h1.2v1.2h-1.2zM398.9 137.9h1.2v1.2h-1.2zM409.9 130.9h1.2v1.2h-1.2zM410.9 133.9h1.2v1.2h-1.2zM380.9 126.9h1.2v1.2h-1.2zM380.9 125.9h1.2v1.2h-1.2zM417.9 123.9h1.2v1.2h-1.2zM408.9 117.9h1.2v1.2h-1.2zM378.9 116.9h1.2v1.2h-1.2zM363.9 132.9h1.2v1.2h-1.2zM390.9 122.9h1.2v1.2h-1.2zM416.9 121.9h1.2v1.2h-1.2zM402.9 126.9h1.2v1.2h-1.2zM413.9 136.9h1.2v1.2h-1.2zM380.9 129.9h1.2v1.2h-1.2zM384.9 113.9h1.2v1.2h-1.2zM372.9 127.9h1.2v1.2h-1.2zM410.9 136.9h1.2v1.2h-1.2zM407.9 127.9h1.2v1.2h-1.2zM391.9 118.9h1.2v1.2h-1.2zM382.9 119.9h1.2v1.2h-1.2zM397.9 133.9h1.2v1.2h-1.2zM405.9 132.9h1.2v1.2h-1.2zM396.9 136.9h1.2v1.2h-1.2zM415.9 133.9h1.2v1.2h-1.2zM414.9 134.9h1.2v1.2h-1.2zM354.9 125.9h1.2v1.2h-1.2zM391.9 127.9h1.2v1.2h-1.2zM407.9 123.9h1.2v1.2h-1.2zM398.9 115.9h1.2v1.2h-1.2zM373.9 127.9h1.2v1.2h-1.2zM378.9 119.9h1.2v1.2h-1.2zM366.9 111.9h1.2v1.2h-1.2zM407.9 127.9h1.2v1.2h-1.2zM373.9 129.9h1.2v1.2h-1.2zM390.9 127.9h1.2v1.2h-1.2zM420.9 125.9h1.2v1.2h-1.2zM414.9 118.9h1.2v1.2h-1.2zM380.9 110.9h1.2v1.2h-1.2zM364.9 115.9h1.2v1.2h-1.2zM408.9 118.9h1.2v1.2h-1.2zM382.9 130.9h1.2v1.2h-1.2zM382.9 127.9h1.2v1.2h-1.2zM383.9 122.9h1.2v1.2h-1.2zM407.9 133.9h1.2v1.2h-1.2zM414.9 121.9h1.2v1.2h-1.2zM377.9 112.9h1.2v1.2h-1.2zM409.9 127.9h1.2v1.2h-1.2zM356.9 119.9h1.2v1.2h-1.2zM383.9 121.9h1.2v1.2h-1.2zM391.9 119.9h1.2v1.2h-1.2zM392.9 137.9h1.2v1.2h-1.2zM365.9 113.9h1.2v1.2h-1.2zM401.9 113.9h1.2v1.2h-1.2zM354.9 124.9h1.2v1.2h-1.2zM428.9 119.9h1.2v1.2h-1.2zM392.9 111.9h1.2v1.2h-1.2zM425.9 115.9h1.2v1.2h-1.2zM409.9 113.9h1.2v1.2h-1.2zM410.9 134.9h1.2v1.2h-1.2zM393.9 113.9h1.2v1.2h-1.2zM389.9 115.9h1.2v1.2h-1.2zM416.9 134.9h1.2v1.2h-1.2zM391.9 120.9h1.2v1.2h-1.2zM385.9 113.9h1.2v1.2h-1.2zM402.9 120.9h1.2v1.2h-1.2zM402.9 132.9h1.2v1.2h-1.2zM368.9 126.9h1.2v1.2h-1.2zM417.9 115.9h1.2v1.2h-1.2zM407.9 124.9h1.2v1.2h-1.2zM399.9 121.9h1.2v1.2h-1.2zM388.9 127.9h1.2v1.2h-1.2zM427.9 125.9h1.2v1.2h-1.2zM357.9 117.9h1.2v1.2h-1.2zM373.9 132.9h1.2v1.2h-1.2zM373.9 132.9h1.2v1.2h-1.2zM384.9 121.9h1.2v1.2h-1.2zM377.9 134.9h1.2v1.2h-1.2zM385.9 114.9h1.2v1.2h-1.2zM384.9 134.9h1.2v1.2h-1.2zM403.9 134.9h1.2v1.2h-1.2zM388.9 111.9h1.2v1.2h-1.2zM415.9 128.9h1.2v1.2h-1.2zM419.9 109.9h1.2v1.2h-1.2zM377.9 118.9h1.2v1.2h-1.2zM388.9 121.9h1.2v1.2h-1.2zM389.9 131.9h1.2v1.2h-1.2zM384.9 125.9h1.2v1.2h-1.2zM394.9 135.9h1.2v1.2h-1.2zM375.9 122.9h1.2v1.2h-1.2zM383.9 134.9h1.2v1.2h-1.2zM404.9 113.9h1.2v1.2h-1.2zM408.9 118.9h1.2v1.2h-1.2zM398.9 137.9h1.2v1.2h-1.2zM390.9 131.9h1.2v1.2h-1.2zM374.9 118.9h1.2v1.2h-1.2zM410.9 125.9h1.2v1.2h-1.2zM405.9 117.9h1.2v1.2h-1.2zM421.9 115.9h1.2v1.2h-1.2zM404.9 135.9h1.2v1.2h-1.2zM365.9 113.9h1.2v1.2h-1.2zM419.9 136.9h1.2v1.2h-1.2zM377.9 122.9h1.2v1.2h-1.2zM385.9 109.9h1.2v1.2h-1.2zM372.9 121.9h1.2v1.2h-1.2zM421.9 129.9h1.2v1.2h-1.2zM386.9 126.9h1.2v1.2h-1.2zM392.9 123.9h1.2v1.2h-1.2zM426.9 128.9h1.2v1.2h-1.2zM371.9 118.9h1.2v1.2h-1.2zM391.9 134.9h1.2v1.2h-1.2zM391.9 137.9h1.2v1.2h-1.2zM377.9 112.9h1.2v1.2h-1.2zM375.9 118.9h1.2v1.2h-1.2zM376.9 130.9h1.2v1.2h-1.2zM417.9 114.9h1.2v1.2h-1.2zM402.9 120.9h1.2v1.2h-1.2zM392.9 132.9h1.2v1.2h-1.2zM390.9 117.9h1.2v1.2h-1.2zM399.9 132.9h1.2v1.2h-1.2zM393.9 128.9h1.2v1.2h-1.2zM405.9 134.9h1.2v1.2h-1.2zM402.9 132.9h1.2v1.2h-1.2zM358.9 117.9h1.2v1.2h-1.2zM402.9 130.9h1.2v1.2h-1.2zM402.9 131.9h1.2v1.2h-1.2zM399.9 109.9h1.2v1.2h-1.2zM372.9 136.9h1.2v1.2h-1.2zM408.9 124.9h1.2v1.2h-1.2zM374.9 135.9h1.2v1.2h-1.2zM402.9 132.9h1.2v1.2h-1.2zM401.9 110.9h1.2v1.2h-1.2zM408.9 131.9h1.2v1.2h-1.2zM381.9 116.9h1.2v1.2h-1.2zM412.9 126.9h1.2v1.2h-1.2zM421.9 116.9h1.2v1.2h-1.2zM375.9 132.9h1.2v1.2h-1.2zM404.9 118.9h1.2v1.2h-1.2zM414.9 129.9h1.2v1.2h-1.2zM384.9 130.9h1.2v1.2h-1.2zM410.9 138.9h1.2v1.2h-1.2zM387.9 114.9h1.2v1.2h-1.2zM402.9 132.9h1.2v1.2h-1.2zM411.9 112.9h1.2v1.2h-1.2zM382.9 134.9h1.2v1.2h-1.2zM373.9 134.9h1.2v1.2h-1.2zM397.9 129.9h1.2v1.2h-1.2zM403.9 114.9h1.2v1.2h-1.2zM397.9 115.9h1.2v1.2h-1.2zM386.9 115.9h1.2v1.2h-1.2zM402.9 122.9h1.2v1.2h-1.2zM374.9 127.9h1.2v1.2h-1.2zM381.9 114.9h1.2v1.2h-1.2zM393.9 136.9h1.2v1.2h-1.2zM417.9 131.9h1.2v1.2h-1.2zM359.9 122.9h1.2v1.2h-1.2zM407.9 132.9h1.2v1.2h-1.2zM396.9 113.9h1.2v1.2h-1.2zM411.9 128.9h1.2v1.2h-1.2zM391.9 115.9h1.2v1.2h-1.2zM389.9 126.9h1.2v1.2h-1.2zM403.9 138.9h1.2v1.2h-1.2zM381.9 115.9h1.2v1.2h-1.2zM396.9 118.9h1.2v1.2h-1.2zM396.9 116.9h1.2v1.2h-1.2zM399.9 114.9h1.2v1.2h-1.2zM384.9 128.9h1.2v1.2h-1.2zM396.9 128.9h1.2v1.2h-1.2zM405.9 120.9h1.2v1.2h-1.2zM367.9 138.9h1.2v1.2h-1.2zM388.9 133.9h1.2v1.2h-1.2zM396.9 134.9h1.2v1.2h-1.2zM380.9 118.9h1.2v1.2h-1.2zM381.9 132.9h1.2v1.2h-1.2zM375.9 130.9h1.2v1.2h-1.2zM384.9 131.9h1.2v1.2h-1.2zM404.9 112.9h1.2v1.2h-1.2zM408.9 135.9h1.2v1.2h-1.2zM386.9 138.9h1.2v1.2h-1.2zM411.9 112.9h1.2v1.2h-1.2zM412.9 114.9h1.2v1.2h-1.2zM383.9 113.9h1.2v1.2h-1.2zM378.9 119.9h1.2v1.2h-1.2zM361.9 121.9h1.2v1.2h-1.2zM378.9 123.9h1.2v1.2h-1.2zM366.9 134.9h1.2v1.2h-1.2zM382.9 125.9h1.2v1.2h-1.2zM357.9 123.9h1.2v1.2h-1.2zM417.9 114.9h1.2v1.2h-1.2zM368.9 129.9h1.2v1.2h-1.2zM376.9 118.9h1.2v1.2h-1.2zM396.9 134.9h1.2v1.2h-1.2zM389.9 129.9h1.2v1.2h-1.2zM396.9 116.9h1.2v1.2h-1.2zM415.9 121.9h1.2v1.2h-1.2zM363.9 132.9h1.2v1.2h-1.2zM369.9 131.9h1.2v1.2h-1.2zM401.9 134.9h1.2v1.2h-1.2zM402.9 120.9h1.2v1.2h-1.2zM389.9 116.9h1.2v1.2h-1.2zM397.9 131.9h1.2v1.2h-1.2zM390.9 119.9h1.2v1.2h-1.2zM399.9 129.9h1.2v1.2h-1.2zM390.9 111.9h1.2v1.2h-1.2zM403.9 130.9h1.2v1.2h-1.2zM399.9 121.9h1.2v1.2h-1.2zM380.9 133.9h1.2v1.2h-1.2zM405.9 116.9h1.2v1.2h-1.2zM370.9 126.9h1.2v1.2h-1.2zM400.9 123.9h1.2v1.2h-1.2zM407.9 116.9h1.2v1.2h-1.2zM383.9 125.9h1.2v1.2h-1.2zM411.9 133.9h1.2v1.2h-1.2zM403.9 135.9h1.2v1.2h-1.2zM393.9 118.9h1.2v1.2h-1.2zM413.9 134.9h1.2v1.2h-1.2zM389.9 122.9h1.2v1.2h-1.2zM389.9 134.9h1.2v1.2h-1.2zM403.9 133.9h1.2v1.2h-1.2zM376.9 121.9h1.2v1.2h-1.2zM381.9 116.9h1.2v1.2h-1.2zM419.9 118.9h1.2v1.2h-1.2zM417.9 113.9h1.2v1.2h-1.2zM408.9 124.9h1.2v1.2h-1.2zM411.9 121.9h1.2v1.2h-1.2zM395.9 126.9h1.2v1.2h-1.2zM412.9 117.9h1.2v1.2h-1.2zM396.9 113.9h1.2v1.2h-1.2zM366.9 129.9h1.2v1.2h-1.2zM393.9 134.9h1.2v1.2h-1.2zM394.9 137.9h1.2v1.2h-1.2zM409.9 126.9h1.2v1.2h-1.2zM382.9 114.9h1.2v1.2h-1.2zM387.9 133.9h1.2v1.2h-1.2zM366.9 133.9h1.2v1.2h-1.2zM382.9 127.9h1.2v1.2h-1.2zM375.9 136.9h1.2v1.2h-1.2zM410.9 119.9h1.2v1.2h-1.2zM399.9 123.9h1.2v1.2h-1.2zM384.9 123.9h1.2v1.2h-1.2zM418.9 117.9h1.2v1.2h-1.2zM368.9 112.9h1.2v1.2h-1.2zM380.9 137.9h1.2v1.2h-1.2zM416.9 119.9h1.2v1.2h-1.2zM385.9 138.9h1.2v1.2h-1.2zM370.9 117.9h1.2v1.2h-1.2zM370.9 119.9h1.2v1.2h-1.2zM358.9 115.9h1.2v1.2h-1.2zM385.9 111.9h1.2v1.2h-1.2zM382.9 122.9h1.2v1.2h-1.2zM413.9 133.9h1.2v1.2h-1.2zM411.9 114.9h1.2v1.2h-1.2zM376.9 120.9h1.2v1.2h-1.2zM409.9 119.9h1.2v1.2h-1.2zM391.9 132.9h1.2v1.2h-1.2zM415.9 135.9h1.2v1.2h-1.2zM365.9 119.9h1.2v1.2h-1.2zM357.9 131.9h1.2v1.2h-1.2zM376.9 132.9h1.2v1.2h-1.2zM371.9 121.9h1.2v1.2h-1.2zM398.9 118.9h1.2v1.2h-1.2zM386.9 128.9h1.2v1.2h-1.2zM379.9 133.9h1.2v1.2h-1.2zM389.9 111.9h1.2v1.2h-1.2zM379.9 128.9h1.2v1.2h-1.2zM368.9 131.9h1.2v1.2h-1.2zM409.9 120.9h1.2v1.2h-1.2zM399.9 124.9h1.2v1.2h-1.2zM406.9 110.9h1.2v1.2h-1.2zM391.9 119.9h1.2v1.2h-1.2zM393.9 131.9h1.2v1.2h-1.2zM426.9 123.9h1.2v1.2h-1.2zM377.9 114.9h1.2v1.2h-1.2zM397.9 128.9h1.2v1.2h-1.2zM387.9 123.9h1.2v1.2h-1.2zM424.9 121.9h1.2v1.2h-1.2zM395.9 133.9h1.2v1.2h-1.2zM394.9 118.9h1.2v1.2h-1.2zM398.9 112.9h1.2v1.2h-1.2zM387.9 132.9h1.2v1.2h-1.2zM402.9 119.9h1.2v1.2h-1.2zM411.9 113.9h1.2v1.2h-1.2zM364.9 126.9h1.2v1.2h-1.2zM398.9 130.9h1.2v1.2h-1.2zM387.9 122.9h1.2v1.2h-1.2zM416.9 124.9h1.2v1.2h-1.2zM413.9 125.9h1.2v1.2h-1.2zM398.9 114.9h1.2v1.2h-1.2zM405.9 126.9h1.2v1.2h-1.2zM385.9 115.9h1.2v1.2h-1.2zM371.9 134.9h1.2v1.2h-1.2zM379.9 119.9h1.2v1.2h-1.2zM396.9 121.9h1.2v1.2h-1.2zM387.9 129.9h1.2v1.2h-1.2zM365.9 134.9h1.2v1.2h-1.2zM398.9 122.9h1.2v1.2h-1.2zM411.9 129.9h1.2v1.2h-1.2zM364.9 112.9h1.2v1.2h-1.2zM393.9 118.9h1.2v1.2h-1.2zM394.9 118.9h1.2v1.2h-1.2zM387.9 131.9h1.2v1.2h-1.2zM412.9 114.9h1.2v1.2h-1.2zM393.9 121.9h1.2v1.2h-1.2zM358.9 132.9h1.2v1.2h-1.2zM395.9 134.9h1.2v1.2h-1.2zM368.9 125.9h1.2v1.2h-1.2zM412.9 131.9h1.2v1.2h-1.2zM377.9 137.9h1.2v1.2h-1.2zM424.9 112.9h1.2v1.2h-1.2zM412.9 136.9h1.2v1.2h-1.2zM381.9 113.9h1.2v1.2h-1.2zM404.9 119.9h1.2v1.2h-1.2zM424.9 114.9h1.2v1.2h-1.2zM412.9 123.9h1.2v1.2h-1.2zM391.9 110.9h1.2v1.2h-1.2zM413.9 117.9h1.2v1.2h-1.2zM402.9 134.9h1.2v1.2h-1.2zM387.9 120.9h1.2v1.2h-1.2zM365.9 117.9h1.2v1.2h-1.2zM383.9 128.9h1.2v1.2h-1.2zM389.9 123.9h1.2v1.2h-1.2zM405.9 118.9h1.2v1.2h-1.2zM415.9 132.9h1.2v1.2h-1.2zM366.9 117.9h1.2v1.2h-1.2zM375.9 118.9h1.2v1.2h-1.2zM394.9 121.9h1.2v1.2h-1.2zM384.9 119.9h1.2v1.2h-1.2zM413.9 112.9h1.2v1.2h-1.2zM378.9 110.9h1.2v1.2h-1.2zM408.9 123.9h1.2v1.2h-1.2zM395.9 122.9h1.2v1.2h-1.2zM419.9 119.9h1.2v1.2h-1.2zM411.9 131.9h1.2v1.2h-1.2zM401.9 125.9h1.2v1.2h-1.2zM370.9 111.9h1.2v1.2h-1.2zM400.9 118.9h1.2v1.2h-1.2zM370.9 120.9h1.2v1.2h-1.2zM397.9 135.9h1.2v1.2h-1.2zM377.9 111.9h1.2v1.2h-1.2zM407.9 131.9h1.2v1.2h-1.2zM397.9 123.9h1.2v1.2h-1.2zM391.9 130.9h1.2v1.2h-1.2zM409.9 134.9h1.2v1.2h-1.2zM377.9 121.9h1.2v1.2h-1.2zM371.9 135.9h1.2v1.2h-1.2zM374.9 125.9h1.2v1.2h-1.2zM397.9 122.9h1.2v1.2h-1.2zM399.9 118.9h1.2v1.2h-1.2zM418.9 118.9h1.2v1.2h-1.2zM402.9 134.9h1.2v1.2h-1.2zM418.9 136.9h1.2v1.2h-1.2zM411.9 111.9h1.2v1.2h-1.2zM397.9 122.9h1.2v1.2h-1.2zM386.9 117.9h1.2v1.2h-1.2zM373.9 116.9h1.2v1.2h-1.2zM387.9 131.9h1.2v1.2h-1.2zM364.9 120.9h1.2v1.2h-1.2zM424.9 111.9h1.2v1.2h-1.2zM422.9 135.9h1.2v1.2h-1.2zM368.9 134.9h1.2v1.2h-1.2zM377.9 135.9h1.2v1.2h-1.2zM424.9 120.9h1.2v1.2h-1.2zM388.9 128.9h1.2v1.2h-1.2zM416.9 118.9h1.2v1.2h-1.2zM384.9 115.9h1.2v1.2h-1.2zM381.9 129.9h1.2v1.2h-1.2zM384.9 127.9h1.2v1.2h-1.2zM388.9 135.9h1.2v1.2h-1.2zM425.9 126.9h1.2v1.2h-1.2zM392.9 116.9h1.2v1.2h-1.2zM422.9 118.9h1.2v1.2h-1.2zM394.9 116.9h1.2v1.2h-1.2zM409.9 110.9h1.2v1.2h-1.2zM390.9 116.9h1.2v1.2h-1.2zM393.9 119.9h1.2v1.2h-1.2zM397.9 136.9h1.2v1.2h-1.2zM385.9 140.9h1.2v1.2h-1.2zM369.9 134.9h1.2v1.2h-1.2zM391.9 111.9h1.2v1.2h-1.2zM414.9 111.9h1.2v1.2h-1.2zM379.9 135.9h1.2v1.2h-1.2zM412.9 136.9h1.2v1.2h-1.2zM393.9 117.9h1.2v1.2h-1.2zM382.9 126.9h1.2v1.2h-1.2zM363.9 122.9h1.2v1.2h-1.2zM396.9 121.9h1.2v1.2h-1.2zM399.9 139.9h1.2v1.2h-1.2zM384.9 129.9h1.2v1.2h-1.2zM374.9 134.9h1.2v1.2h-1.2zM415.9 112.9h1.2v1.2h-1.2zM389.9 121.9h1.2v1.2h-1.2zM383.9 120.9h1.2v1.2h-1.2zM408.9 111.9h1.2v1.2h-1.2zM372.9 118.9h1.2v1.2h-1.2zM398.9 122.9h1.2v1.2h-1.2zM371.9 131.9h1.2v1.2h-1.2zM385.9 119.9h1.2v1.2h-1.2zM394.9 112.9h1.2v1.2h-1.2zM381.9 131.9h1.2v1.2h-1.2zM404.9 135.9h1.2v1.2h-1.2zM388.9 126.9h1.2v1.2h-1.2zM413.9 120.9h1.2v1.2h-1.2zM359.9 133.9h1.2v1.2h-1.2zM386.9 137.9h1.2v1.2h-1.2zM411.9 124.9h1.2v1.2h-1.2zM404.9 124.9h1.2v1.2h-1.2zM420.9 120.9h1.2v1.2h-1.2zM406.9 122.9h1.2v1.2h-1.2zM373.9 132.9h1.2v1.2h-1.2zM370.9 135.9h1.2v1.2h-1.2zM365.9 119.9h1.2v1.2h-1.2zM418.9 128.9h1.2v1.2h-1.2zM408.9 111.9h1.2v1.2h-1.2zM414.9 134.9h1.2v1.2h-1.2zM410.9 115.9h1.2v1.2h-1.2zM413.9 124.9h1.2v1.2h-1.2zM379.9 115.9h1.2v1.2h-1.2zM379.9 124.9h1.2v1.2h-1.2zM397.9 111.9h1.2v1.2h-1.2zM406.9 124.9h1.2v1.2h-1.2zM400.9 123.9h1.2v1.2h-1.2zM415.9 124.9h1.2v1.2h-1.2zM405.9 121.9h1.2v1.2h-1.2zM378.9 122.9h1.2v1.2h-1.2zM416.9 128.9h1.2v1.2h-1.2zM417.9 131.9h1.2v1.2h-1.2zM408.9 123.9h1.2v1.2h-1.2zM390.9 123.9h1.2v1.2h-1.2zM377.9 129.9h1.2v1.2h-1.2zM413.9 136.9h1.2v1.2h-1.2zM395.9 137.9h1.2v1.2h-1.2zM383.9 136.9h1.2v1.2h-1.2zM364.9 129.9h1.2v1.2h-1.2zM408.9 113.9h1.2v1.2h-1.2zM398.9 127.9h1.2v1.2h-1.2zM384.9 134.9h1.2v1.2h-1.2zM481.9 113.9h1.2v1.2h-1.2zM350.9 115.9h1.2v1.2h-1.2zM394.9 141.9h1.2v1.2h-1.2zM470.9 111.9h1.2v1.2h-1.2zM401.9 113.9h1.2v1.2h-1.2zM454.9 129.9h1.2v1.2h-1.2zM476.9 120.9h1.2v1.2h-1.2zM436.9 132.9h1.2v1.2h-1.2zM358.9 121.9h1.2v1.2h-1.2zM476.9 124.9h1.2v1.2h-1.2zM424.9 124.9h1.2v1.2h-1.2zM474.9 132.9h1.2v1.2h-1.2zM408.9 126.9h1.2v1.2h-1.2zM366.9 120.9h1.2v1.2h-1.2zM406.9 113.9h1.2v1.2h-1.2zM391.9 113.9h1.2v1.2h-1.2zM371.9 135.9h1.2v1.2h-1.2zM479.9 119.9h1.2v1.2h-1.2zM472.9 130.9h1.2v1.2h-1.2zM417.9 126.9h1.2v1.2h-1.2zM389.9 126.9h1.2v1.2h-1.2zM470.9 115.9h1.2v1.2h-1.2zM383.9 127.9h1.2v1.2h-1.2zM456.9 123.9h1.2v1.2h-1.2zM396.9 140.9h1.2v1.2h-1.2zM473.9 128.9h1.2v1.2h-1.2zM454.9 120.9h1.2v1.2h-1.2zM429.9 113.9h1.2v1.2h-1.2zM373.9 119.9h1.2v1.2h-1.2zM412.9 134.9h1.2v1.2h-1.2zM433.9 129.9h1.2v1.2h-1.2zM411.9 109.9h1.2v1.2h-1.2zM388.9 133.9h1.2v1.2h-1.2zM371.9 141.9h1.2v1.2h-1.2zM395.9 132.9h1.2v1.2h-1.2zM409.9 118.9h1.2v1.2h-1.2zM410.9 107.9h1.2v1.2h-1.2zM440.9 127.9h1.2v1.2h-1.2zM471.9 127.9h1.2v1.2h-1.2zM431.9 134.9h1.2v1.2h-1.2zM470.9 117.9h1.2v1.2h-1.2zM392.9 117.9h1.2v1.2h-1.2zM448.9 121.9h1.2v1.2h-1.2zM425.9 115.9h1.2v1.2h-1.2zM355.9 112.9h1.2v1.2h-1.2zM390.9 142.9h1.2v1.2h-1.2zM431.9 115.9h1.2v1.2h-1.2zM454.9 113.9h1.2v1.2h-1.2zM374.9 111.9h1.2v1.2h-1.2zM460.9 116.9h1.2v1.2h-1.2zM483.9 112.9h1.2v1.2h-1.2zM396.9 113.9h1.2v1.2h-1.2zM474.9 115.9h1.2v1.2h-1.2zM394.9 132.9h1.2v1.2h-1.2zM386.9 125.9h1.2v1.2h-1.2zM430.9 125.9h1.2v1.2h-1.2zM468.9 122.9h1.2v1.2h-1.2zM399.9 142.9h1.2v1.2h-1.2zM385.9 141.9h1.2v1.2h-1.2zM408.9 117.9h1.2v1.2h-1.2zM449.9 119.9h1.2v1.2h-1.2zM435.9 118.9h1.2v1.2h-1.2zM341.9 125.9h1.2v1.2h-1.2zM479.9 125.9h1.2v1.2h-1.2zM396.9 107.9h1.2v1.2h-1.2zM448.9 114.9h1.2v1.2h-1.2zM447.9 121.9h1.2v1.2h-1.2zM358.9 141.9h1.2v1.2h-1.2zM424.9 130.9h1.2v1.2h-1.2zM442.9 129.9h1.2v1.2h-1.2zM459.9 115.9h1.2v1.2h-1.2zM472.9 114.9h1.2v1.2h-1.2zM477.9 110.9h1.2v1.2h-1.2zM354.9 114.9h1.2v1.2h-1.2zM381.9 122.9h1.2v1.2h-1.2zM458.9 127.9h1.2v1.2h-1.2zM371.9 140.9h1.2v1.2h-1.2zM407.9 126.9h1.2v1.2h-1.2zM359.9 131.9h1.2v1.2h-1.2zM456.9 118.9h1.2v1.2h-1.2zM455.9 124.9h1.2v1.2h-1.2zM393.9 141.9h1.2v1.2h-1.2zM451.9 129.9h1.2v1.2h-1.2zM443.9 118.9h1.2v1.2h-1.2zM384.9 122.9h1.2v1.2h-1.2zM476.9 129.9h1.2v1.2h-1.2zM367.9 112.9h1.2v1.2h-1.2zM442.9 127.9h1.2v1.2h-1.2zM474.9 128.9h1.2v1.2h-1.2zM387.9 127.9h1.2v1.2h-1.2zM375.9 117.9h1.2v1.2h-1.2zM407.9 137.9h1.2v1.2h-1.2zM470.9 116.9h1.2v1.2h-1.2zM439.9 128.9h1.2v1.2h-1.2zM387.9 124.9h1.2v1.2h-1.2zM474.9 126.9h1.2v1.2h-1.2zM400.9 117.9h1.2v1.2h-1.2zM359.9 138.9h1.2v1.2h-1.2zM470.9 116.9h1.2v1.2h-1.2zM478.9 130.9h1.2v1.2h-1.2zM467.9 115.9h1.2v1.2h-1.2zM421.9 140.9h1.2v1.2h-1.2zM461.9 123.9h1.2v1.2h-1.2zM449.9 121.9h1.2v1.2h-1.2zM429.9 118.9h1.2v1.2h-1.2zM437.9 119.9h1.2v1.2h-1.2zM375.9 110.9h1.2v1.2h-1.2zM386.9 139.9h1.2v1.2h-1.2zM367.9 139.9h1.2v1.2h-1.2zM471.9 116.9h1.2v1.2h-1.2zM445.9 131.9h1.2v1.2h-1.2zM465.9 118.9h1.2v1.2h-1.2zM441.9 115.9h1.2v1.2h-1.2zM349.9 113.9h1.2v1.2h-1.2zM415.9 138.9h1.2v1.2h-1.2zM369.9 115.9h1.2v1.2h-1.2zM402.9 134.9h1.2v1.2h-1.2zM402.9 123.9h1.2v1.2h-1.2zM474.9 112.9h1.2v1.2h-1.2zM413.9 114.9h1.2v1.2h-1.2zM447.9 124.9h1.2v1.2h-1.2zM359.9 110.9h1.2v1.2h-1.2zM453.9 130.9h1.2v1.2h-1.2zM473.9 126.9h1.2v1.2h-1.2zM376.9 134.9h1.2v1.2h-1.2zM363.9 129.9h1.2v1.2h-1.2zM402.9 133.9h1.2v1.2h-1.2zM412.9 124.9h1.2v1.2h-1.2zM458.9 123.9h1.2v1.2h-1.2zM448.9 118.9h1.2v1.2h-1.2zM384.9 138.9h1.2v1.2h-1.2zM472.9 122.9h1.2v1.2h-1.2zM426.9 113.9h1.2v1.2h-1.2zM439.9 116.9h1.2v1.2h-1.2zM380.9 120.9h1.2v1.2h-1.2zM422.9 138.9h1.2v1.2h-1.2zM373.9 128.9h1.2v1.2h-1.2zM362.9 110.9h1.2v1.2h-1.2zM372.9 108.9h1.2v1.2h-1.2zM347.9 115.9h1.2v1.2h-1.2zM414.9 116.9h1.2v1.2h-1.2zM454.9 124.9h1.2v1.2h-1.2zM375.9 132.9h1.2v1.2h-1.2zM445.9 129.9h1.2v1.2h-1.2zM433.9 129.9h1.2v1.2h-1.2zM474.9 128.9h1.2v1.2h-1.2zM476.9 128.9h1.2v1.2h-1.2zM347.9 114.9h1.2v1.2h-1.2zM359.9 116.9h1.2v1.2h-1.2zM395.9 113.9h1.2v1.2h-1.2zM388.9 117.9h1.2v1.2h-1.2zM457.9 121.9h1.2v1.2h-1.2zM450.9 118.9h1.2v1.2h-1.2zM430.9 127.9h1.2v1.2h-1.2zM375.9 131.9h1.2v1.2h-1.2zM377.9 111.9h1.2v1.2h-1.2zM430.9 119.9h1.2v1.2h-1.2zM384.9 117.9h1.2v1.2h-1.2zM474.9 131.9h1.2v1.2h-1.2zM405.9 117.9h1.2v1.2h-1.2zM464.9 117.9h1.2v1.2h-1.2zM405.9 107.9h1.2v1.2h-1.2zM375.9 106.9h1.2v1.2h-1.2zM455.9 131.9h1.2v1.2h-1.2zM378.9 140.9h1.2v1.2h-1.2zM423.9 109.9h1.2v1.2h-1.2zM433.9 122.9h1.2v1.2h-1.2zM405.9 112.9h1.2v1.2h-1.2zM353.9 115.9h1.2v1.2h-1.2zM469.9 112.9h1.2v1.2h-1.2zM339.9 115.9h1.2v1.2h-1.2zM437.9 123.9h1.2v1.2h-1.2zM365.9 119.9h1.2v1.2h-1.2zM392.9 119.9h1.2v1.2h-1.2zM470.9 120.9h1.2v1.2h-1.2zM424.9 134.9h1.2v1.2h-1.2zM354.9 139.9h1.2v1.2h-1.2zM363.9 109.9h1.2v1.2h-1.2zM431.9 132.9h1.2v1.2h-1.2zM419.9 113.9h1.2v1.2h-1.2zM428.9 111.9h1.2v1.2h-1.2zM387.9 116.9h1.2v1.2h-1.2zM474.9 111.9h1.2v1.2h-1.2zM370.9 108.9h1.2v1.2h-1.2zM444.9 131.9h1.2v1.2h-1.2zM385.9 133.9h1.2v1.2h-1.2zM420.9 137.9h1.2v1.2h-1.2zM368.9 134.9h1.2v1.2h-1.2zM457.9 123.9h1.2v1.2h-1.2zM452.9 123.9h1.2v1.2h-1.2zM394.9 114.9h1.2v1.2h-1.2zM347.9 130.9h1.2v1.2h-1.2zM410.9 120.9h1.2v1.2h-1.2zM340.9 112.9h1.2v1.2h-1.2zM436.9 113.9h1.2v1.2h-1.2zM352.9 128.9h1.2v1.2h-1.2zM414.9 125.9h1.2v1.2h-1.2zM449.9 122.9h1.2v1.2h-1.2zM473.9 114.9h1.2v1.2h-1.2zM454.9 127.9h1.2v1.2h-1.2zM371.9 142.9h1.2v1.2h-1.2zM394.9 124.9h1.2v1.2h-1.2zM416.9 131.9h1.2v1.2h-1.2zM434.9 123.9h1.2v1.2h-1.2zM461.9 128.9h1.2v1.2h-1.2zM457.9 120.9h1.2v1.2h-1.2zM470.9 118.9h1.2v1.2h-1.2zM417.9 136.9h1.2v1.2h-1.2zM407.9 108.9h1.2v1.2h-1.2zM382.9 127.9h1.2v1.2h-1.2zM363.9 109.9h1.2v1.2h-1.2zM383.9 113.9h1.2v1.2h-1.2zM457.9 123.9h1.2v1.2h-1.2zM396.9 111.9h1.2v1.2h-1.2zM371.9 115.9h1.2v1.2h-1.2zM354.9 122.9h1.2v1.2h-1.2zM414.9 127.9h1.2v1.2h-1.2zM450.9 126.9h1.2v1.2h-1.2zM380.9 125.9h1.2v1.2h-1.2zM431.9 133.9h1.2v1.2h-1.2zM361.9 138.9h1.2v1.2h-1.2zM380.9 113.9h1.2v1.2h-1.2zM457.9 133.9h1.2v1.2h-1.2zM478.9 117.9h1.2v1.2h-1.2zM344.9 117.9h1.2v1.2h-1.2zM409.9 110.9h1.2v1.2h-1.2zM437.9 118.9h1.2v1.2h-1.2zM349.9 137.9h1.2v1.2h-1.2zM388.9 118.9h1.2v1.2h-1.2zM368.9 142.9h1.2v1.2h-1.2zM398.9 138.9h1.2v1.2h-1.2zM347.9 113.9h1.2v1.2h-1.2zM449.9 119.9h1.2v1.2h-1.2zM435.9 119.9h1.2v1.2h-1.2zM467.9 132.9h1.2v1.2h-1.2zM419.9 137.9h1.2v1.2h-1.2zM383.9 113.9h1.2v1.2h-1.2zM357.9 108.9h1.2v1.2h-1.2zM444.9 111.9h1.2v1.2h-1.2zM402.9 115.9h1.2v1.2h-1.2zM458.9 115.9h1.2v1.2h-1.2zM362.9 114.9h1.2v1.2h-1.2zM440.9 126.9h1.2v1.2h-1.2zM451.9 121.9h1.2v1.2h-1.2zM428.9 133.9h1.2v1.2h-1.2zM436.9 132.9h1.2v1.2h-1.2zM360.9 139.9h1.2v1.2h-1.2zM407.9 116.9h1.2v1.2h-1.2zM355.9 127.9h1.2v1.2h-1.2zM370.9 134.9h1.2v1.2h-1.2zM409.9 123.9h1.2v1.2h-1.2zM438.9 117.9h1.2v1.2h-1.2zM395.9 124.9h1.2v1.2h-1.2zM408.9 109.9h1.2v1.2h-1.2zM400.9 112.9h1.2v1.2h-1.2zM457.9 118.9h1.2v1.2h-1.2zM386.9 128.9h1.2v1.2h-1.2zM363.9 120.9h1.2v1.2h-1.2zM396.9 119.9h1.2v1.2h-1.2zM391.9 140.9h1.2v1.2h-1.2zM476.9 121.9h1.2v1.2h-1.2zM443.9 126.9h1.2v1.2h-1.2zM382.9 107.9h1.2v1.2h-1.2zM419.9 139.9h1.2v1.2h-1.2zM361.9 111.9h1.2v1.2h-1.2zM442.9 130.9h1.2v1.2h-1.2zM407.9 135.9h1.2v1.2h-1.2zM442.9 121.9h1.2v1.2h-1.2zM476.9 126.9h1.2v1.2h-1.2zM463.9 117.9h1.2v1.2h-1.2zM359.9 116.9h1.2v1.2h-1.2zM476.9 123.9h1.2v1.2h-1.2zM479.9 130.9h1.2v1.2h-1.2zM413.9 117.9h1.2v1.2h-1.2zM480.9 121.9h1.2v1.2h-1.2zM351.9 123.9h1.2v1.2h-1.2zM391.9 128.9h1.2v1.2h-1.2zM358.9 130.9h1.2v1.2h-1.2zM402.9 119.9h1.2v1.2h-1.2zM479.9 111.9h1.2v1.2h-1.2zM392.9 129.9h1.2v1.2h-1.2zM469.9 128.9h1.2v1.2h-1.2zM353.9 124.9h1.2v1.2h-1.2zM412.9 118.9h1.2v1.2h-1.2zM441.9 128.9h1.2v1.2h-1.2zM402.9 139.9h1.2v1.2h-1.2zM399.9 139.9h1.2v1.2h-1.2zM361.9 131.9h1.2v1.2h-1.2zM414.9 133.9h1.2v1.2h-1.2zM457.9 127.9h1.2v1.2h-1.2zM434.9 112.9h1.2v1.2h-1.2zM416.9 141.9h1.2v1.2h-1.2zM415.9 121.9h1.2v1.2h-1.2zM363.9 114.9h1.2v1.2h-1.2zM367.9 131.9h1.2v1.2h-1.2zM390.9 143.9h1.2v1.2h-1.2zM445.9 132.9h1.2v1.2h-1.2zM447.9 120.9h1.2v1.2h-1.2zM386.9 120.9h1.2v1.2h-1.2zM448.9 119.9h1.2v1.2h-1.2zM459.9 120.9h1.2v1.2h-1.2zM446.9 112.9h1.2v1.2h-1.2zM414.9 137.9h1.2v1.2h-1.2zM371.9 117.9h1.2v1.2h-1.2zM480.9 126.9h1.2v1.2h-1.2zM457.9 122.9h1.2v1.2h-1.2zM413.9 108.9h1.2v1.2h-1.2zM377.9 133.9h1.2v1.2h-1.2zM458.9 114.9h1.2v1.2h-1.2zM350.9 122.9h1.2v1.2h-1.2zM387.9 126.9h1.2v1.2h-1.2zM370.9 111.9h1.2v1.2h-1.2zM458.9 115.9h1.2v1.2h-1.2zM425.9 132.9h1.2v1.2h-1.2zM416.9 134.9h1.2v1.2h-1.2zM392.9 111.9h1.2v1.2h-1.2zM360.9 121.9h1.2v1.2h-1.2zM468.9 122.9h1.2v1.2h-1.2zM479.9 125.9h1.2v1.2h-1.2zM391.9 110.9h1.2v1.2h-1.2zM402.9 125.9h1.2v1.2h-1.2zM415.9 131.9h1.2v1.2h-1.2zM378.9 121.9h1.2v1.2h-1.2zM355.9 132.9h1.2v1.2h-1.2zM341.9 115.9h1.2v1.2h-1.2zM353.9 137.9h1.2v1.2h-1.2zM459.9 117.9h1.2v1.2h-1.2zM421.9 134.9h1.2v1.2h-1.2zM442.9 113.9h1.2v1.2h-1.2zM451.9 121.9h1.2v1.2h-1.2zM386.9 141.9h1.2v1.2h-1.2zM441.9 123.9h1.2v1.2h-1.2zM455.9 123.9h1.2v1.2h-1.2zM385.9 119.9h1.2v1.2h-1.2zM367.9 123.9h1.2v1.2h-1.2zM471.9 123.9h1.2v1.2h-1.2zM385.9 136.9h1.2v1.2h-1.2zM407.9 124.9h1.2v1.2h-1.2zM357.9 134.9h1.2v1.2h-1.2zM429.9 114.9h1.2v1.2h-1.2zM413.9 125.9h1.2v1.2h-1.2zM477.9 117.9h1.2v1.2h-1.2zM466.9 118.9h1.2v1.2h-1.2zM355.9 132.9h1.2v1.2h-1.2zM401.9 136.9h1.2v1.2h-1.2zM436.9 121.9h1.2v1.2h-1.2zM463.9 116.9h1.2v1.2h-1.2zM450.9 125.9h1.2v1.2h-1.2zM426.9 126.9h1.2v1.2h-1.2zM421.9 112.9h1.2v1.2h-1.2zM361.9 122.9h1.2v1.2h-1.2zM469.9 123.9h1.2v1.2h-1.2zM358.9 118.9h1.2v1.2h-1.2zM426.9 109.9h1.2v1.2h-1.2zM405.9 142.9h1.2v1.2h-1.2zM452.9 115.9h1.2v1.2h-1.2zM460.9 128.9h1.2v1.2h-1.2zM388.9 117.9h1.2v1.2h-1.2zM476.9 128.9h1.2v1.2h-1.2zM463.9 114.9h1.2v1.2h-1.2zM423.9 117.9h1.2v1.2h-1.2zM423.9 110.9h1.2v1.2h-1.2zM408.9 112.9h1.2v1.2h-1.2zM352.9 129.9h1.2v1.2h-1.2zM393.9 123.9h1.2v1.2h-1.2zM467.9 126.9h1.2v1.2h-1.2zM435.9 115.9h1.2v1.2h-1.2zM353.9 120.9h1.2v1.2h-1.2zM373.9 138.9h1.2v1.2h-1.2zM391.9 116.9h1.2v1.2h-1.2zM394.9 141.9h1.2v1.2h-1.2zM407.9 129.9h1.2v1.2h-1.2zM431.9 133.9h1.2v1.2h-1.2zM401.9 123.9h1.2v1.2h-1.2zM380.9 136.9h1.2v1.2h-1.2zM422.9 129.9h1.2v1.2h-1.2zM359.9 137.9h1.2v1.2h-1.2zM424.9 125.9h1.2v1.2h-1.2zM372.9 120.9h1.2v1.2h-1.2zM436.9 130.9h1.2v1.2h-1.2zM430.9 129.9h1.2v1.2h-1.2zM425.9 110.9h1.2v1.2h-1.2zM353.9 128.9h1.2v1.2h-1.2zM356.9 108.9h1.2v1.2h-1.2zM352.9 120.9h1.2v1.2h-1.2zM401.9 135.9h1.2v1.2h-1.2zM413.9 109.9h1.2v1.2h-1.2zM474.9 124.9h1.2v1.2h-1.2zM457.9 115.9h1.2v1.2h-1.2zM429.9 108.9h1.2v1.2h-1.2zM411.9 116.9h1.2v1.2h-1.2zM433.9 115.9h1.2v1.2h-1.2zM450.9 113.9h1.2v1.2h-1.2zM375.9 128.9h1.2v1.2h-1.2zM442.9 121.9h1.2v1.2h-1.2zM425.9 114.9h1.2v1.2h-1.2zM394.9 113.9h1.2v1.2h-1.2zM420.9 109.9h1.2v1.2h-1.2zM420.9 136.9h1.2v1.2h-1.2zM342.9 126.9h1.2v1.2h-1.2zM356.9 130.9h1.2v1.2h-1.2zM376.9 125.9h1.2v1.2h-1.2zM478.9 112.9h1.2v1.2h-1.2zM406.9 130.9h1.2v1.2h-1.2zM423.9 122.9h1.2v1.2h-1.2zM436.9 128.9h1.2v1.2h-1.2zM461.9 132.9h1.2v1.2h-1.2zM464.9 126.9h1.2v1.2h-1.2zM410.9 112.9h1.2v1.2h-1.2zM428.9 121.9h1.2v1.2h-1.2zM411.9 123.9h1.2v1.2h-1.2zM447.9 112.9h1.2v1.2h-1.2zM479.9 127.9h1.2v1.2h-1.2zM446.9 126.9h1.2v1.2h-1.2zM442.9 127.9h1.2v1.2h-1.2zM475.9 127.9h1.2v1.2h-1.2zM384.9 115.9h1.2v1.2h-1.2zM359.9 139.9h1.2v1.2h-1.2zM351.9 116.9h1.2v1.2h-1.2zM347.9 124.9h1.2v1.2h-1.2zM405.9 137.9h1.2v1.2h-1.2zM409.9 111.9h1.2v1.2h-1.2zM352.9 113.9h1.2v1.2h-1.2zM392.9 140.9h1.2v1.2h-1.2zM381.9 121.9h1.2v1.2h-1.2zM421.9 135.9h1.2v1.2h-1.2zM390.9 110.9h1.2v1.2h-1.2zM371.9 119.9h1.2v1.2h-1.2zM408.9 123.9h1.2v1.2h-1.2zM402.9 111.9h1.2v1.2h-1.2zM452.9 129.9h1.2v1.2h-1.2zM410.9 124.9h1.2v1.2h-1.2zM368.9 117.9h1.2v1.2h-1.2zM414.9 137.9h1.2v1.2h-1.2zM443.9 127.9h1.2v1.2h-1.2zM367.9 141.9h1.2v1.2h-1.2zM420.9 139.9h1.2v1.2h-1.2zM420.9 108.9h1.2v1.2h-1.2zM419.9 109.9h1.2v1.2h-1.2zM383.9 126.9h1.2v1.2h-1.2zM467.9 125.9h1.2v1.2h-1.2zM401.9 131.9h1.2v1.2h-1.2zM403.9 109.9h1.2v1.2h-1.2zM413.9 110.9h1.2v1.2h-1.2zM432.9 120.9h1.2v1.2h-1.2zM468.9 111.9h1.2v1.2h-1.2zM466.9 122.9h1.2v1.2h-1.2zM387.9 114.9h1.2v1.2h-1.2zM378.9 125.9h1.2v1.2h-1.2zM380.9 125.9h1.2v1.2h-1.2zM365.9 131.9h1.2v1.2h-1.2zM369.9 123.9h1.2v1.2h-1.2zM458.9 125.9h1.2v1.2h-1.2zM366.9 112.9h1.2v1.2h-1.2zM448.9 118.9h1.2v1.2h-1.2zM456.9 124.9h1.2v1.2h-1.2zM356.9 123.9h1.2v1.2h-1.2zM357.9 135.9h1.2v1.2h-1.2zM377.9 115.9h1.2v1.2h-1.2zM420.9 131.9h1.2v1.2h-1.2zM397.9 137.9h1.2v1.2h-1.2zM411.9 127.9h1.2v1.2h-1.2zM427.9 131.9h1.2v1.2h-1.2zM420.9 116.9h1.2v1.2h-1.2zM375.9 109.9h1.2v1.2h-1.2zM461.9 125.9h1.2v1.2h-1.2zM343.9 119.9h1.2v1.2h-1.2zM444.9 119.9h1.2v1.2h-1.2zM436.9 114.9h1.2v1.2h-1.2zM425.9 117.9h1.2v1.2h-1.2zM482.9 118.9h1.2v1.2h-1.2zM477.9 126.9h1.2v1.2h-1.2zM471.9 110.9h1.2v1.2h-1.2zM452.9 127.9h1.2v1.2h-1.2zM351.9 119.9h1.2v1.2h-1.2zM385.9 135.9h1.2v1.2h-1.2zM405.9 114.9h1.2v1.2h-1.2zM397.9 139.9h1.2v1.2h-1.2zM392.9 122.9h1.2v1.2h-1.2zM384.9 127.9h1.2v1.2h-1.2zM356.9 113.9h1.2v1.2h-1.2zM353.9 118.9h1.2v1.2h-1.2zM366.9 130.9h1.2v1.2h-1.2zM480.9 127.9h1.2v1.2h-1.2zM409.9 125.9h1.2v1.2h-1.2zM466.9 117.9h1.2v1.2h-1.2zM401.9 135.9h1.2v1.2h-1.2zM389.9 134.9h1.2v1.2h-1.2zM470.9 123.9h1.2v1.2h-1.2zM397.9 126.9h1.2v1.2h-1.2zM401.9 132.9h1.2v1.2h-1.2zM396.9 129.9h1.2v1.2h-1.2zM381.9 138.9h1.2v1.2h-1.2zM447.9 126.9h1.2v1.2h-1.2zM465.9 125.9h1.2v1.2h-1.2zM403.9 143.9h1.2v1.2h-1.2zM451.9 129.9h1.2v1.2h-1.2zM399.9 129.9h1.2v1.2h-1.2zM418.9 136.9h1.2v1.2h-1.2zM397.9 119.9h1.2v1.2h-1.2zM395.9 130.9h1.2v1.2h-1.2zM339.9 116.9h1.2v1.2h-1.2zM386.9 112.9h1.2v1.2h-1.2zM372.9 116.9h1.2v1.2h-1.2zM380.9 125.9h1.2v1.2h-1.2zM468.9 130.9h1.2v1.2h-1.2zM435.9 113.9h1.2v1.2h-1.2zM413.9 115.9h1.2v1.2h-1.2zM409.9 116.9h1.2v1.2h-1.2zM358.9 138.9h1.2v1.2h-1.2zM394.9 145.9h1.2v1.2h-1.2zM433.9 122.9h1.2v1.2h-1.2zM356.9 132.9h1.2v1.2h-1.2zM397.9 111.9h1.2v1.2h-1.2zM450.9 127.9h1.2v1.2h-1.2zM368.9 122.9h1.2v1.2h-1.2zM459.9 130.9h1.2v1.2h-1.2zM361.9 140.9h1.2v1.2h-1.2zM378.9 134.9h1.2v1.2h-1.2zM385.9 121.9h1.2v1.2h-1.2zM409.9 133.9h1.2v1.2h-1.2zM410.9 124.9h1.2v1.2h-1.2zM349.9 123.9h1.2v1.2h-1.2zM472.9 123.9h1.2v1.2h-1.2zM392.9 114.9h1.2v1.2h-1.2zM360.9 108.9h1.2v1.2h-1.2zM460.9 114.9h1.2v1.2h-1.2zM357.9 132.9h1.2v1.2h-1.2zM349.9 134.9h1.2v1.2h-1.2zM389.9 109.9h1.2v1.2h-1.2zM388.9 121.9h1.2v1.2h-1.2zM396.9 140.9h1.2v1.2h-1.2zM445.9 131.9h1.2v1.2h-1.2zM434.9 115.9h1.2v1.2h-1.2zM399.9 137.9h1.2v1.2h-1.2zM370.9 139.9h1.2v1.2h-1.2zM478.9 124.9h1.2v1.2h-1.2zM434.9 120.9h1.2v1.2h-1.2zM458.9 113.9h1.2v1.2h-1.2zM409.9 125.9h1.2v1.2h-1.2zM396.9 116.9h1.2v1.2h-1.2zM379.9 113.9h1.2v1.2h-1.2zM400.9 135.9h1.2v1.2h-1.2zM473.9 131.9h1.2v1.2h-1.2zM406.9 108.9h1.2v1.2h-1.2zM392.9 135.9h1.2v1.2h-1.2zM350.9 134.9h1.2v1.2h-1.2zM470.9 109.9h1.2v1.2h-1.2zM408.9 124.9h1.2v1.2h-1.2zM447.9 120.9h1.2v1.2h-1.2zM404.9 125.9h1.2v1.2h-1.2zM399.9 136.9h1.2v1.2h-1.2zM434.9 132.9h1.2v1.2h-1.2zM412.9 142.9h1.2v1.2h-1.2zM410.9 123.9h1.2v1.2h-1.2zM349.9 125.9h1.2v1.2h-1.2zM353.9 119.9h1.2v1.2h-1.2zM390.9 115.9h1.2v1.2h-1.2zM463.9 120.9h1.2v1.2h-1.2zM363.9 120.9h1.2v1.2h-1.2zM454.9 129.9h1.2v1.2h-1.2zM354.9 112.9h1.2v1.2h-1.2zM444.9 113.9h1.2v1.2h-1.2zM407.9 110.9h1.2v1.2h-1.2zM374.9 106.9h1.2v1.2h-1.2zM443.9 122.9h1.2v1.2h-1.2zM423.9 109.9h1.2v1.2h-1.2zM384.9 140.9h1.2v1.2h-1.2zM353.9 128.9h1.2v1.2h-1.2zM395.9 115.9h1.2v1.2h-1.2zM462.9 113.9h1.2v1.2h-1.2zM347.9 127.9h1.2v1.2h-1.2zM400.9 135.9h1.2v1.2h-1.2zM377.9 125.9h1.2v1.2h-1.2zM477.9 121.9h1.2v1.2h-1.2zM475.9 109.9h1.2v1.2h-1.2zM426.9 131.9h1.2v1.2h-1.2zM415.9 124.9h1.2v1.2h-1.2zM443.9 128.9h1.2v1.2h-1.2zM395.9 110.9h1.2v1.2h-1.2zM437.9 121.9h1.2v1.2h-1.2zM456.9 118.9h1.2v1.2h-1.2zM368.9 114.9h1.2v1.2h-1.2zM438.9 131.9h1.2v1.2h-1.2zM384.9 118.9h1.2v1.2h-1.2zM402.9 141.9h1.2v1.2h-1.2zM405.9 142.9h1.2v1.2h-1.2zM466.9 131.9h1.2v1.2h-1.2zM408.9 131.9h1.2v1.2h-1.2zM349.9 138.9h1.2v1.2h-1.2zM401.9 141.9h1.2v1.2h-1.2zM465.9 109.9h1.2v1.2h-1.2zM438.9 116.9h1.2v1.2h-1.2zM466.9 120.9h1.2v1.2h-1.2zM463.9 130.9h1.2v1.2h-1.2zM422.9 125.9h1.2v1.2h-1.2zM416.9 121.9h1.2v1.2h-1.2zM454.9 116.9h1.2v1.2h-1.2zM435.9 133.9h1.2v1.2h-1.2zM468.9 113.9h1.2v1.2h-1.2zM471.9 128.9h1.2v1.2h-1.2zM477.9 121.9h1.2v1.2h-1.2zM422.9 121.9h1.2v1.2h-1.2zM344.9 125.9h1.2v1.2h-1.2zM402.9 127.9h1.2v1.2h-1.2zM403.9 116.9h1.2v1.2h-1.2zM407.9 122.9h1.2v1.2h-1.2zM413.9 135.9h1.2v1.2h-1.2zM391.9 146.9h1.2v1.2h-1.2zM382.9 149.9h1.2v1.2h-1.2zM384.9 142.9h1.2v1.2h-1.2zM400.9 143.9h1.2v1.2h-1.2zM385.9 146.9h1.2v1.2h-1.2zM416.9 134.9h1.2v1.2h-1.2zM382.9 146.9h1.2v1.2h-1.2zM389.9 133.9h1.2v1.2h-1.2zM401.9 150.9h1.2v1.2h-1.2zM401.9 146.9h1.2v1.2h-1.2zM414.9 143.9h1.2v1.2h-1.2zM385.9 135.9h1.2v1.2h-1.2zM377.9 145.9h1.2v1.2h-1.2zM403.9 135.9h1.2v1.2h-1.2zM386.9 134.9h1.2v1.2h-1.2zM390.9 140.9h1.2v1.2h-1.2zM372.9 137.9h1.2v1.2h-1.2zM418.9 138.9h1.2v1.2h-1.2zM383.9 133.9h1.2v1.2h-1.2zM405.9 132.9h1.2v1.2h-1.2zM401.9 148.9h1.2v1.2h-1.2zM402.9 144.9h1.2v1.2h-1.2zM381.9 145.9h1.2v1.2h-1.2zM409.9 143.9h1.2v1.2h-1.2zM369.9 133.9h1.2v1.2h-1.2zM382.9 148.9h1.2v1.2h-1.2zM404.9 141.9h1.2v1.2h-1.2zM388.9 136.9h1.2v1.2h-1.2zM398.9 133.9h1.2v1.2h-1.2zM418.9 143.9h1.2v1.2h-1.2zM367.9 139.9h1.2v1.2h-1.2zM391.9 149.9h1.2v1.2h-1.2zM374.9 132.9h1.2v1.2h-1.2zM393.9 145.9h1.2v1.2h-1.2zM364.9 145.9h1.2v1.2h-1.2zM388.9 137.9h1.2v1.2h-1.2zM401.9 144.9h1.2v1.2h-1.2zM396.9 146.9h1.2v1.2h-1.2zM405.9 144.9h1.2v1.2h-1.2zM390.9 143.9h1.2v1.2h-1.2zM403.9 145.9h1.2v1.2h-1.2zM366.9 141.9h1.2v1.2h-1.2zM381.9 144.9h1.2v1.2h-1.2zM401.9 144.9h1.2v1.2h-1.2zM408.9 147.9h1.2v1.2h-1.2zM381.9 142.9h1.2v1.2h-1.2zM389.9 144.9h1.2v1.2h-1.2zM392.9 142.9h1.2v1.2h-1.2zM412.9 137.9h1.2v1.2h-1.2zM393.9 141.9h1.2v1.2h-1.2zM396.9 139.9h1.2v1.2h-1.2zM394.9 137.9h1.2v1.2h-1.2zM397.9 139.9h1.2v1.2h-1.2zM373.9 139.9h1.2v1.2h-1.2zM401.9 140.9h1.2v1.2h-1.2zM406.9 133.9h1.2v1.2h-1.2zM376.9 150.9h1.2v1.2h-1.2zM386.9 140.9h1.2v1.2h-1.2zM374.9 141.9h1.2v1.2h-1.2zM373.9 137.9h1.2v1.2h-1.2zM413.9 135.9h1.2v1.2h-1.2zM402.9 136.9h1.2v1.2h-1.2zM369.9 143.9h1.2v1.2h-1.2zM401.9 147.9h1.2v1.2h-1.2zM390.9 139.9h1.2v1.2h-1.2zM393.9 149.9h1.2v1.2h-1.2zM389.9 141.9h1.2v1.2h-1.2zM370.9 141.9h1.2v1.2h-1.2zM405.9 134.9h1.2v1.2h-1.2zM369.9 141.9h1.2v1.2h-1.2zM381.9 137.9h1.2v1.2h-1.2zM384.9 140.9h1.2v1.2h-1.2zM396.9 142.9h1.2v1.2h-1.2zM373.9 142.9h1.2v1.2h-1.2zM397.9 141.9h1.2v1.2h-1.2zM383.9 142.9h1.2v1.2h-1.2zM408.9 141.9h1.2v1.2h-1.2zM378.9 137.9h1.2v1.2h-1.2zM390.9 138.9h1.2v1.2h-1.2zM382.9 137.9h1.2v1.2h-1.2zM381.9 149.9h1.2v1.2h-1.2zM375.9 145.9h1.2v1.2h-1.2zM372.9 146.9h1.2v1.2h-1.2zM367.9 142.9h1.2v1.2h-1.2zM381.9 148.9h1.2v1.2h-1.2zM384.9 144.9h1.2v1.2h-1.2zM419.9 134.9h1.2v1.2h-1.2zM404.9 147.9h1.2v1.2h-1.2zM385.9 142.9h1.2v1.2h-1.2zM382.9 146.9h1.2v1.2h-1.2zM402.9 148.9h1.2v1.2h-1.2zM386.9 139.9h1.2v1.2h-1.2zM390.9 141.9h1.2v1.2h-1.2zM393.9 151.9h1.2v1.2h-1.2zM397.9 141.9h1.2v1.2h-1.2zM394.9 145.9h1.2v1.2h-1.2zM374.9 139.9h1.2v1.2h-1.2zM366.9 141.9h1.2v1.2h-1.2zM388.9 142.9h1.2v1.2h-1.2zM415.9 143.9h1.2v1.2h-1.2zM373.9 137.9h1.2v1.2h-1.2zM410.9 143.9h1.2v1.2h-1.2zM401.9 143.9h1.2v1.2h-1.2zM412.9 135.9h1.2v1.2h-1.2zM418.9 139.9h1.2v1.2h-1.2zM418.9 142.9h1.2v1.2h-1.2zM67.9 20.9h1.2v1.2h-1.2zM131.9 18.9h1.2v1.2h-1.2zM131.9 22.9h1.2v1.2h-1.2zM67.9 52.9h1.2v1.2h-1.2zM86.9 51.9h1.2v1.2h-1.2zM131.9 60.9h1.2v1.2h-1.2zM112.9 64.9h1.2v1.2h-1.2zM111.9 66.9h1.2v1.2h-1.2zM64.9 71.9h1.2v1.2h-1.2zM131.9 74.9h1.2v1.2h-1.2zM169.9 17.9h1.2v1.2h-1.2zM176.9 37.9h1.2v1.2h-1.2zM97.9 81.9h1.2v1.2h-1.2zM96.9 83.9h1.2v1.2h-1.2zM96.9 89.9h1.2v1.2h-1.2zM105.9 98.9h1.2v1.2h-1.2zM67.9 101.9h1.2v1.2h-1.2zM72.9 103.9h1.2v1.2h-1.2zM119.9 106.9h1.2v1.2h-1.2zM131.9 104.9h1.2v1.2h-1.2zM64.9 114.9h1.2v1.2h-1.2zM76.9 115.9h1.2v1.2h-1.2zM88.9 116.9h1.2v1.2h-1.2zM88.9 116.9h1.2v1.2h-1.2zM52.9 124.9h1.2v1.2h-1.2zM119.9 122.9h1.2v1.2h-1.2zM131.9 122.9h1.2v1.2h-1.2zM96.9 126.9h1.2v1.2h-1.2zM96.9 128.9h1.2v1.2h-1.2zM94.9 131.9h1.2v1.2h-1.2zM93.9 133.9h1.2v1.2h-1.2zM83.9 134.9h1.2v1.2h-1.2zM76.9 136.9h1.2v1.2h-1.2zM111.9 134.9h1.2v1.2h-1.2zM234.9 100.9h1.2v1.2h-1.2zM178.9 114.9h1.2v1.2h-1.2zM169.9 124.9h1.2v1.2h-1.2zM213.9 135.9h1.2v1.2h-1.2zM76.9 138.9h1.2v1.2h-1.2zM75.9 140.9h1.2v1.2h-1.2zM85.9 144.9h1.2v1.2h-1.2zM86.9 145.9h1.2v1.2h-1.2zM91.9 148.9h1.2v1.2h-1.2zM90.9 152.9h1.2v1.2h-1.2zM93.9 154.9h1.2v1.2h-1.2zM53.9 150.9h1.2v1.2h-1.2zM51.9 153.9h1.2v1.2h-1.2zM58.9 153.9h1.2v1.2h-1.2zM63.9 151.9h1.2v1.2h-1.2zM67.9 153.9h1.2v1.2h-1.2zM70.9 150.9h1.2v1.2h-1.2zM76.9 149.9h1.2v1.2h-1.2zM52.9 158.9h1.2v1.2h-1.2zM58.9 156.9h1.2v1.2h-1.2zM61.9 158.9h1.2v1.2h-1.2zM62.9 160.9h1.2v1.2h-1.2zM67.9 155.9h1.2v1.2h-1.2zM69.9 158.9h1.2v1.2h-1.2zM67.9 160.9h1.2v1.2h-1.2zM73.9 157.9h1.2v1.2h-1.2zM76.9 158.9h1.2v1.2h-1.2zM81.9 155.9h1.2v1.2h-1.2zM81.9 158.9h1.2v1.2h-1.2zM85.9 160.9h1.2v1.2h-1.2zM89.9 159.9h1.2v1.2h-1.2zM55.9 166.9h1.2v1.2h-1.2zM61.9 165.9h1.2v1.2h-1.2zM67.9 163.9h1.2v1.2h-1.2zM75.9 161.9h1.2v1.2h-1.2zM75.9 163.9h1.2v1.2h-1.2zM82.9 161.9h1.2v1.2h-1.2zM89.9 163.9h1.2v1.2h-1.2zM118.9 137.9h1.2v1.2h-1.2zM125.9 140.9h1.2v1.2h-1.2zM136.9 141.9h1.2v1.2h-1.2zM94.9 140.9h1.2v1.2h-1.2zM96.9 143.9h1.2v1.2h-1.2zM96.9 146.9h1.2v1.2h-1.2zM96.9 146.9h1.2v1.2h-1.2zM110.9 144.9h1.2v1.2h-1.2zM115.9 145.9h1.2v1.2h-1.2zM115.9 150.9h1.2v1.2h-1.2zM110.9 152.9h1.2v1.2h-1.2zM111.9 156.9h1.2v1.2h-1.2zM136.9 148.9h1.2v1.2h-1.2zM138.9 152.9h1.2v1.2h-1.2zM131.9 154.9h1.2v1.2h-1.2zM140.9 156.9h1.2v1.2h-1.2zM147.9 157.9h1.2v1.2h-1.2zM96.9 154.9h1.2v1.2h-1.2zM95.9 159.9h1.2v1.2h-1.2zM99.9 158.9h1.2v1.2h-1.2zM106.9 157.9h1.2v1.2h-1.2zM120.9 159.9h1.2v1.2h-1.2zM159.9 150.9h1.2v1.2h-1.2zM179.9 151.9h1.2v1.2h-1.2zM188.9 146.9h1.2v1.2h-1.2zM199.9 139.9h1.2v1.2h-1.2zM196.9 149.9h1.2v1.2h-1.2zM151.9 154.9h1.2v1.2h-1.2zM165.9 155.9h1.2v1.2h-1.2zM186.9 155.9h1.2v1.2h-1.2zM194.9 155.9h1.2v1.2h-1.2zM213.9 143.9h1.2v1.2h-1.2zM219.9 142.9h1.2v1.2h-1.2zM219.9 144.9h1.2v1.2h-1.2zM202.9 146.9h1.2v1.2h-1.2zM206.9 146.9h1.2v1.2h-1.2zM202.9 150.9h1.2v1.2h-1.2zM207.9 150.9h1.2v1.2h-1.2zM209.9 149.9h1.2v1.2h-1.2zM207.9 152.9h1.2v1.2h-1.2zM221.9 151.9h1.2v1.2h-1.2zM214.9 154.9h1.2v1.2h-1.2zM233.9 149.9h1.2v1.2h-1.2zM241.9 150.9h1.2v1.2h-1.2zM242.9 152.9h1.2v1.2h-1.2zM243.9 155.9h1.2v1.2h-1.2zM236.9 155.9h1.2v1.2h-1.2zM234.9 159.9h1.2v1.2h-1.2zM227.9 155.9h1.2v1.2h-1.2zM220.9 156.9h1.2v1.2h-1.2zM225.9 159.9h1.2v1.2h-1.2zM227.9 160.9h1.2v1.2h-1.2zM201.9 155.9h1.2v1.2h-1.2zM210.9 156.9h1.2v1.2h-1.2zM217.9 159.9h1.2v1.2h-1.2zM222.9 161.9h1.2v1.2h-1.2zM212.9 164.9h1.2v1.2h-1.2zM201.9 160.9h1.2v1.2h-1.2zM205.9 163.9h1.2v1.2h-1.2zM234.9 169.9h1.2v1.2h-1.2zM247.9 169.9h1.2v1.2h-1.2zM243.9 174.9h1.2v1.2h-1.2zM247.9 177.9h1.2v1.2h-1.2zM226.9 186.9h1.2v1.2h-1.2zM234.9 189.9h1.2v1.2h-1.2zM221.9 179.9h1.2v1.2h-1.2zM220.9 182.9h1.2v1.2h-1.2zM216.9 181.9h1.2v1.2h-1.2zM213.9 181.9h1.2v1.2h-1.2zM208.9 180.9h1.2v1.2h-1.2zM208.9 182.9h1.2v1.2h-1.2zM204.9 185.9h1.2v1.2h-1.2zM200.9 186.9h1.2v1.2h-1.2zM50.9 180.9h1.2v1.2h-1.2zM56.9 182.9h1.2v1.2h-1.2zM57.9 183.9h1.2v1.2h-1.2zM63.9 183.9h1.2v1.2h-1.2zM65.9 188.9h1.2v1.2h-1.2zM61.9 191.9h1.2v1.2h-1.2zM73.9 192.9h1.2v1.2h-1.2zM70.9 196.9h1.2v1.2h-1.2zM80.9 192.9h1.2v1.2h-1.2zM83.9 189.9h1.2v1.2h-1.2zM86.9 191.9h1.2v1.2h-1.2zM91.9 194.9h1.2v1.2h-1.2zM90.9 188.9h1.2v1.2h-1.2zM93.9 200.9h1.2v1.2h-1.2zM93.9 205.9h1.2v1.2h-1.2zM88.9 204.9h1.2v1.2h-1.2zM88.9 209.9h1.2v1.2h-1.2zM76.9 204.9h1.2v1.2h-1.2zM76.9 208.9h1.2v1.2h-1.2zM75.9 211.9h1.2v1.2h-1.2zM82.9 211.9h1.2v1.2h-1.2zM95.9 203.9h1.2v1.2h-1.2zM97.9 189.9h1.2v1.2h-1.2zM97.9 192.9h1.2v1.2h-1.2zM101.9 194.9h1.2v1.2h-1.2zM105.9 193.9h1.2v1.2h-1.2zM104.9 187.9h1.2v1.2h-1.2zM108.9 187.9h1.2v1.2h-1.2zM111.9 188.9h1.2v1.2h-1.2zM109.9 191.9h1.2v1.2h-1.2zM113.9 191.9h1.2v1.2h-1.2zM113.9 194.9h1.2v1.2h-1.2zM114.9 195.9h1.2v1.2h-1.2zM118.9 185.9h1.2v1.2h-1.2zM124.9 190.9h1.2v1.2h-1.2zM127.9 185.9h1.2v1.2h-1.2zM128.9 188.9h1.2v1.2h-1.2zM133.9 186.9h1.2v1.2h-1.2zM131.9 191.9h1.2v1.2h-1.2zM141.9 181.9h1.2v1.2h-1.2zM146.9 181.9h1.2v1.2h-1.2zM100.9 203.9h1.2v1.2h-1.2zM107.9 203.9h1.2v1.2h-1.2zM109.9 201.9h1.2v1.2h-1.2zM122.9 200.9h1.2v1.2h-1.2zM123.9 202.9h1.2v1.2h-1.2zM125.9 202.9h1.2v1.2h-1.2zM131.9 202.9h1.2v1.2h-1.2zM96.9 207.9h1.2v1.2h-1.2zM97.9 211.9h1.2v1.2h-1.2zM125.9 207.9h1.2v1.2h-1.2zM125.9 211.9h1.2v1.2h-1.2zM149.9 182.9h1.2v1.2h-1.2zM158.9 181.9h1.2v1.2h-1.2zM160.9 179.9h1.2v1.2h-1.2zM157.9 186.9h1.2v1.2h-1.2zM161.9 186.9h1.2v1.2h-1.2zM160.9 191.9h1.2v1.2h-1.2zM160.9 194.9h1.2v1.2h-1.2zM168.9 182.9h1.2v1.2h-1.2zM168.9 185.9h1.2v1.2h-1.2zM168.9 191.9h1.2v1.2h-1.2zM172.9 192.9h1.2v1.2h-1.2zM169.9 202.9h1.2v1.2h-1.2zM177.9 183.9h1.2v1.2h-1.2zM179.9 183.9h1.2v1.2h-1.2zM177.9 186.9h1.2v1.2h-1.2zM178.9 189.9h1.2v1.2h-1.2zM178.9 196.9h1.2v1.2h-1.2zM181.9 200.9h1.2v1.2h-1.2zM178.9 206.9h1.2v1.2h-1.2zM195.9 182.9h1.2v1.2h-1.2zM195.9 186.9h1.2v1.2h-1.2zM200.9 186.9h1.2v1.2h-1.2zM194.9 190.9h1.2v1.2h-1.2zM198.9 190.9h1.2v1.2h-1.2zM173.9 179.9h1.2v1.2h-1.2zM188.9 179.9h1.2v1.2h-1.2zM78.9 215.9h1.2v1.2h-1.2zM79.9 215.9h1.2v1.2h-1.2zM80.9 219.9h1.2v1.2h-1.2zM93.9 216.9h1.2v1.2h-1.2zM98.9 220.9h1.2v1.2h-1.2zM113.9 221.9h1.2v1.2h-1.2zM97.9 227.9h1.2v1.2h-1.2zM100.9 230.9h1.2v1.2h-1.2zM103.9 231.9h1.2v1.2h-1.2zM101.9 239.9h1.2v1.2h-1.2zM112.9 239.9h1.2v1.2h-1.2zM100.9 245.9h1.2v1.2h-1.2zM125.9 213.9h1.2v1.2h-1.2zM117.9 225.9h1.2v1.2h-1.2zM150.9 216.9h1.2v1.2h-1.2zM162.9 215.9h1.2v1.2h-1.2zM147.9 223.9h1.2v1.2h-1.2zM148.9 234.9h1.2v1.2h-1.2zM144.9 237.9h1.2v1.2h-1.2zM135.9 246.9h1.2v1.2h-1.2zM173.9 229.9h1.2v1.2h-1.2zM243.9 213.9h1.2v1.2h-1.2zM101.9 248.9h1.2v1.2h-1.2zM106.9 248.9h1.2v1.2h-1.2zM89.9 256.9h1.2v1.2h-1.2zM96.9 255.9h1.2v1.2h-1.2zM112.9 257.9h1.2v1.2h-1.2zM101.9 263.9h1.2v1.2h-1.2zM129.9 249.9h1.2v1.2h-1.2zM117.9 287.9h1.2v1.2h-1.2zM117.9 295.9h1.2v1.2h-1.2zM55.9 165.9h1.2v1.2h-1.2zM53.9 168.9h1.2v1.2h-1.2zM53.9 172.9h1.2v1.2h-1.2zM48.9 176.9h1.2v1.2h-1.2zM49.9 179.9h1.2v1.2h-1.2zM54.9 178.9h1.2v1.2h-1.2zM56.9 182.9h1.2v1.2h-1.2zM57.9 175.9h1.2v1.2h-1.2zM60.9 170.9h1.2v1.2h-1.2zM52.9 161.9h1.2v1.2h-1.2zM64.9 183.9h1.2v1.2h-1.2zM64.9 187.9h1.2v1.2h-1.2zM79.9 186.9h1.2v1.2h-1.2zM68.9 158.9h1.2v1.2h-1.2zM68.9 161.9h1.2v1.2h-1.2zM75.9 161.9h1.2v1.2h-1.2zM390.9 17.9h1.2v1.2h-1.2zM413.9 25.9h1.2v1.2h-1.2zM413.9 36.9h1.2v1.2h-1.2zM413.9 39.9h1.2v1.2h-1.2zM413.9 42.9h1.2v1.2h-1.2zM413.9 44.9h1.2v1.2h-1.2zM413.9 49.9h1.2v1.2h-1.2zM413.9 51.9h1.2v1.2h-1.2zM413.9 56.9h1.2v1.2h-1.2zM413.9 58.9h1.2v1.2h-1.2zM412.9 59.9h1.2v1.2h-1.2zM360.9 43.9h1.2v1.2h-1.2zM390.9 43.9h1.2v1.2h-1.2zM369.9 51.9h1.2v1.2h-1.2zM348.9 59.9h1.2v1.2h-1.2zM392.9 61.9h1.2v1.2h-1.2zM399.9 64.9h1.2v1.2h-1.2zM375.9 65.9h1.2v1.2h-1.2zM376.9 70.9h1.2v1.2h-1.2zM371.9 72.9h1.2v1.2h-1.2zM383.9 73.9h1.2v1.2h-1.2zM343.9 72.9h1.2v1.2h-1.2zM348.9 75.9h1.2v1.2h-1.2zM410.9 65.9h1.2v1.2h-1.2zM410.9 68.9h1.2v1.2h-1.2zM413.9 70.9h1.2v1.2h-1.2zM392.9 74.9h1.2v1.2h-1.2zM395.9 75.9h1.2v1.2h-1.2zM417.9 75.9h1.2v1.2h-1.2zM422.9 62.9h1.2v1.2h-1.2zM449.9 32.9h1.2v1.2h-1.2zM438.9 53.9h1.2v1.2h-1.2zM451.9 68.9h1.2v1.2h-1.2zM441.9 71.9h1.2v1.2h-1.2zM438.9 76.9h1.2v1.2h-1.2zM355.9 78.9h1.2v1.2h-1.2zM362.9 77.9h1.2v1.2h-1.2zM343.9 92.9h1.2v1.2h-1.2zM344.9 95.9h1.2v1.2h-1.2zM349.9 92.9h1.2v1.2h-1.2zM353.9 90.9h1.2v1.2h-1.2zM348.9 97.9h1.2v1.2h-1.2zM343.9 101.9h1.2v1.2h-1.2zM345.9 105.9h1.2v1.2h-1.2zM362.9 97.9h1.2v1.2h-1.2zM363.9 97.9h1.2v1.2h-1.2zM362.9 104.9h1.2v1.2h-1.2zM392.9 78.9h1.2v1.2h-1.2zM392.9 81.9h1.2v1.2h-1.2zM373.9 80.9h1.2v1.2h-1.2zM416.9 79.9h1.2v1.2h-1.2zM413.9 82.9h1.2v1.2h-1.2zM403.9 83.9h1.2v1.2h-1.2zM405.9 87.9h1.2v1.2h-1.2zM382.9 84.9h1.2v1.2h-1.2zM385.9 86.9h1.2v1.2h-1.2zM379.9 87.9h1.2v1.2h-1.2zM384.9 88.9h1.2v1.2h-1.2zM390.9 86.9h1.2v1.2h-1.2zM397.9 89.9h1.2v1.2h-1.2zM392.9 91.9h1.2v1.2h-1.2zM392.9 91.9h1.2v1.2h-1.2zM399.9 92.9h1.2v1.2h-1.2zM387.9 92.9h1.2v1.2h-1.2zM372.9 92.9h1.2v1.2h-1.2zM380.9 93.9h1.2v1.2h-1.2zM390.9 97.9h1.2v1.2h-1.2zM382.9 97.9h1.2v1.2h-1.2zM375.9 98.9h1.2v1.2h-1.2zM385.9 100.9h1.2v1.2h-1.2zM371.9 99.9h1.2v1.2h-1.2zM371.9 103.9h1.2v1.2h-1.2zM379.9 104.9h1.2v1.2h-1.2zM405.9 99.9h1.2v1.2h-1.2zM410.9 92.9h1.2v1.2h-1.2zM413.9 92.9h1.2v1.2h-1.2zM416.9 92.9h1.2v1.2h-1.2zM417.9 98.9h1.2v1.2h-1.2zM410.9 102.9h1.2v1.2h-1.2zM394.9 101.9h1.2v1.2h-1.2zM398.9 101.9h1.2v1.2h-1.2zM402.9 103.9h1.2v1.2h-1.2zM414.9 103.9h1.2v1.2h-1.2zM421.9 85.9h1.2v1.2h-1.2zM434.9 86.9h1.2v1.2h-1.2zM443.9 85.9h1.2v1.2h-1.2zM433.9 92.9h1.2v1.2h-1.2zM433.9 97.9h1.2v1.2h-1.2zM434.9 101.9h1.2v1.2h-1.2zM430.9 102.9h1.2v1.2h-1.2zM421.9 103.9h1.2v1.2h-1.2zM426.9 103.9h1.2v1.2h-1.2zM417.9 99.9h1.2v1.2h-1.2zM417.9 76.9h1.2v1.2h-1.2zM444.9 104.9h1.2v1.2h-1.2zM460.9 81.9h1.2v1.2h-1.2zM462.9 82.9h1.2v1.2h-1.2zM466.9 80.9h1.2v1.2h-1.2zM462.9 88.9h1.2v1.2h-1.2zM466.9 89.9h1.2v1.2h-1.2zM453.9 90.9h1.2v1.2h-1.2zM456.9 95.9h1.2v1.2h-1.2zM461.9 95.9h1.2v1.2h-1.2zM469.9 96.9h1.2v1.2h-1.2zM452.9 97.9h1.2v1.2h-1.2zM460.9 98.9h1.2v1.2h-1.2zM457.9 101.9h1.2v1.2h-1.2zM455.9 104.9h1.2v1.2h-1.2zM461.9 103.9h1.2v1.2h-1.2zM467.9 103.9h1.2v1.2h-1.2zM484.9 81.9h1.2v1.2h-1.2zM475.9 89.9h1.2v1.2h-1.2zM475.9 101.9h1.2v1.2h-1.2zM337.9 109.9h1.2v1.2h-1.2zM340.9 109.9h1.2v1.2h-1.2zM343.9 109.9h1.2v1.2h-1.2zM345.9 109.9h1.2v1.2h-1.2zM350.9 109.9h1.2v1.2h-1.2zM353.9 108.9h1.2v1.2h-1.2zM333.9 114.9h1.2v1.2h-1.2zM344.9 114.9h1.2v1.2h-1.2zM327.9 120.9h1.2v1.2h-1.2zM328.9 122.9h1.2v1.2h-1.2zM321.9 124.9h1.2v1.2h-1.2zM336.9 118.9h1.2v1.2h-1.2zM339.9 119.9h1.2v1.2h-1.2zM332.9 123.9h1.2v1.2h-1.2zM344.9 120.9h1.2v1.2h-1.2zM340.9 123.9h1.2v1.2h-1.2zM343.9 126.9h1.2v1.2h-1.2zM337.9 126.9h1.2v1.2h-1.2zM328.9 132.9h1.2v1.2h-1.2zM334.9 132.9h1.2v1.2h-1.2zM342.9 131.9h1.2v1.2h-1.2zM486.9 109.9h1.2v1.2h-1.2zM487.9 112.9h1.2v1.2h-1.2zM488.9 114.9h1.2v1.2h-1.2zM486.9 117.9h1.2v1.2h-1.2zM487.9 119.9h1.2v1.2h-1.2zM488.9 122.9h1.2v1.2h-1.2zM486.9 124.9h1.2v1.2h-1.2zM487.9 128.9h1.2v1.2h-1.2zM487.9 130.9h1.2v1.2h-1.2zM485.9 115.9h1.2v1.2h-1.2zM479.9 108.9h1.2v1.2h-1.2zM479.9 136.9h1.2v1.2h-1.2zM479.9 133.9h1.2v1.2h-1.2zM498.9 129.9h1.2v1.2h-1.2zM506.9 118.9h1.2v1.2h-1.2zM507.9 123.9h1.2v1.2h-1.2zM505.9 126.9h1.2v1.2h-1.2zM505.9 128.9h1.2v1.2h-1.2zM505.9 130.9h1.2v1.2h-1.2zM511.9 121.9h1.2v1.2h-1.2zM515.9 115.9h1.2v1.2h-1.2zM514.9 124.9h1.2v1.2h-1.2zM514.9 128.9h1.2v1.2h-1.2zM518.9 121.9h1.2v1.2h-1.2zM519.9 124.9h1.2v1.2h-1.2zM519.9 126.9h1.2v1.2h-1.2zM519.9 129.9h1.2v1.2h-1.2zM519.9 131.9h1.2v1.2h-1.2zM518.9 123.9h1.2v1.2h-1.2zM327.9 134.9h1.2v1.2h-1.2zM334.9 133.9h1.2v1.2h-1.2zM338.9 132.9h1.2v1.2h-1.2zM338.9 135.9h1.2v1.2h-1.2zM343.9 134.9h1.2v1.2h-1.2zM348.9 138.9h1.2v1.2h-1.2zM350.9 137.9h1.2v1.2h-1.2zM354.9 140.9h1.2v1.2h-1.2zM355.9 143.9h1.2v1.2h-1.2zM343.9 146.9h1.2v1.2h-1.2zM343.9 149.9h1.2v1.2h-1.2zM340.9 151.9h1.2v1.2h-1.2zM345.9 154.9h1.2v1.2h-1.2zM350.9 150.9h1.2v1.2h-1.2zM352.9 152.9h1.2v1.2h-1.2zM351.9 157.9h1.2v1.2h-1.2zM340.9 162.9h1.2v1.2h-1.2zM357.9 148.9h1.2v1.2h-1.2zM359.9 145.9h1.2v1.2h-1.2zM361.9 153.9h1.2v1.2h-1.2zM357.9 158.9h1.2v1.2h-1.2zM359.9 161.9h1.2v1.2h-1.2zM366.9 161.9h1.2v1.2h-1.2zM362.9 142.9h1.2v1.2h-1.2zM364.9 145.9h1.2v1.2h-1.2zM361.9 140.9h1.2v1.2h-1.2zM353.9 133.9h1.2v1.2h-1.2zM357.9 131.9h1.2v1.2h-1.2zM366.9 150.9h1.2v1.2h-1.2zM358.9 163.9h1.2v1.2h-1.2zM360.9 160.9h1.2v1.2h-1.2zM339.9 163.9h1.2v1.2h-1.2zM338.9 165.9h1.2v1.2h-1.2zM346.9 165.9h1.2v1.2h-1.2zM354.9 166.9h1.2v1.2h-1.2zM357.9 170.9h1.2v1.2h-1.2zM347.9 179.9h1.2v1.2h-1.2zM361.9 154.9h1.2v1.2h-1.2zM367.9 154.9h1.2v1.2h-1.2zM366.9 161.9h1.2v1.2h-1.2zM369.9 161.9h1.2v1.2h-1.2zM370.9 158.9h1.2v1.2h-1.2zM372.9 162.9h1.2v1.2h-1.2zM374.9 157.9h1.2v1.2h-1.2zM377.9 157.9h1.2v1.2h-1.2zM381.9 157.9h1.2v1.2h-1.2zM386.9 156.9h1.2v1.2h-1.2zM374.9 164.9h1.2v1.2h-1.2zM379.9 160.9h1.2v1.2h-1.2zM380.9 164.9h1.2v1.2h-1.2zM385.9 162.9h1.2v1.2h-1.2zM367.9 170.9h1.2v1.2h-1.2zM369.9 173.9h1.2v1.2h-1.2zM372.9 170.9h1.2v1.2h-1.2zM374.9 175.9h1.2v1.2h-1.2zM375.9 171.9h1.2v1.2h-1.2zM379.9 168.9h1.2v1.2h-1.2zM379.9 172.9h1.2v1.2h-1.2zM383.9 167.9h1.2v1.2h-1.2zM383.9 172.9h1.2v1.2h-1.2zM381.9 176.9h1.2v1.2h-1.2zM381.9 178.9h1.2v1.2h-1.2zM371.9 181.9h1.2v1.2h-1.2zM373.9 182.9h1.2v1.2h-1.2zM378.9 187.9h1.2v1.2h-1.2zM382.9 185.9h1.2v1.2h-1.2zM370.9 188.9h1.2v1.2h-1.2zM431.9 164.9h1.2v1.2h-1.2zM416.9 157.9h1.2v1.2h-1.2zM415.9 156.9h1.2v1.2h-1.2zM411.9 158.9h1.2v1.2h-1.2zM409.9 159.9h1.2v1.2h-1.2zM408.9 162.9h1.2v1.2h-1.2zM409.9 164.9h1.2v1.2h-1.2zM412.9 169.9h1.2v1.2h-1.2zM404.9 157.9h1.2v1.2h-1.2zM403.9 164.9h1.2v1.2h-1.2zM401.9 166.9h1.2v1.2h-1.2zM399.9 159.9h1.2v1.2h-1.2zM396.9 157.9h1.2v1.2h-1.2zM395.9 159.9h1.2v1.2h-1.2zM388.9 157.9h1.2v1.2h-1.2zM385.9 161.9h1.2v1.2h-1.2zM391.9 165.9h1.2v1.2h-1.2zM394.9 167.9h1.2v1.2h-1.2zM391.9 169.9h1.2v1.2h-1.2zM390.9 173.9h1.2v1.2h-1.2zM399.9 173.9h1.2v1.2h-1.2zM401.9 174.9h1.2v1.2h-1.2zM395.9 176.9h1.2v1.2h-1.2zM391.9 178.9h1.2v1.2h-1.2zM396.9 178.9h1.2v1.2h-1.2zM400.9 179.9h1.2v1.2h-1.2zM395.9 181.9h1.2v1.2h-1.2zM400.9 181.9h1.2v1.2h-1.2zM405.9 181.9h1.2v1.2h-1.2zM385.9 172.9h1.2v1.2h-1.2zM417.9 149.9h1.2v1.2h-1.2zM359.9 189.9h1.2v1.2h-1.2zM373.9 192.9h1.2v1.2h-1.2zM378.9 195.9h1.2v1.2h-1.2zM383.9 193.9h1.2v1.2h-1.2zM385.9 194.9h1.2v1.2h-1.2zM387.9 193.9h1.2v1.2h-1.2zM388.9 197.9h1.2v1.2h-1.2zM366.9 196.9h1.2v1.2h-1.2zM373.9 203.9h1.2v1.2h-1.2zM376.9 203.9h1.2v1.2h-1.2zM379.9 201.9h1.2v1.2h-1.2zM343.9 205.9h1.2v1.2h-1.2zM341.9 208.9h1.2v1.2h-1.2zM362.9 212.9h1.2v1.2h-1.2zM378.9 213.9h1.2v1.2h-1.2zM371.9 216.9h1.2v1.2h-1.2zM373.9 217.9h1.2v1.2h-1.2zM386.9 216.9h1.2v1.2h-1.2zM399.9 182.9h1.2v1.2h-1.2zM389.9 189.9h1.2v1.2h-1.2zM392.9 192.9h1.2v1.2h-1.2zM391.9 201.9h1.2v1.2h-1.2zM395.9 202.9h1.2v1.2h-1.2zM395.9 205.9h1.2v1.2h-1.2zM405.9 204.9h1.2v1.2h-1.2zM404.9 207.9h1.2v1.2h-1.2zM406.9 194.9h1.2v1.2h-1.2zM410.9 194.9h1.2v1.2h-1.2zM407.9 198.9h1.2v1.2h-1.2zM415.9 189.9h1.2v1.2h-1.2zM420.9 191.9h1.2v1.2h-1.2zM392.9 211.9h1.2v1.2h-1.2zM394.9 211.9h1.2v1.2h-1.2zM396.9 211.9h1.2v1.2h-1.2zM405.9 213.9h1.2v1.2h-1.2zM391.9 218.9h1.2v1.2h-1.2zM389.9 221.9h1.2v1.2h-1.2zM366.9 221.9h1.2v1.2h-1.2zM377.9 225.9h1.2v1.2h-1.2zM373.9 229.9h1.2v1.2h-1.2zM397.9 229.9h1.2v1.2h-1.2zM377.9 246.9h1.2v1.2h-1.2zM383.9 255.9h1.2v1.2h-1.2zM352.9 263.9h1.2v1.2h-1.2zM371.9 264.9h1.2v1.2h-1.2zM389.9 262.9h1.2v1.2h-1.2zM343.9 278.9h1.2v1.2h-1.2zM343.9 295.9h1.2v1.2h-1.2zM513.9 150.9h1.2v1.2h-1.2zM474.9 153.9h1.2v1.2h-1.2zM476.9 145.9h1.2v1.2h-1.2zM469.9 144.9h1.2v1.2h-1.2zM465.9 146.9h1.2v1.2h-1.2zM466.9 143.9h1.2v1.2h-1.2zM460.9 143.9h1.2v1.2h-1.2zM461.9 140.9h1.2v1.2h-1.2zM467.9 140.9h1.2v1.2h-1.2zM455.9 141.9h1.2v1.2h-1.2zM455.9 138.9h1.2v1.2h-1.2zM450.9 137.9h1.2v1.2h-1.2zM446.9 137.9h1.2v1.2h-1.2zM470.9 138.9h1.2v1.2h-1.2zM475.9 139.9h1.2v1.2h-1.2zM479.9 136.9h1.2v1.2h-1.2zM440.9 143.9h1.2v1.2h-1.2zM442.9 145.9h1.2v1.2h-1.2zM436.9 139.9h1.2v1.2h-1.2zM430.9 138.9h1.2v1.2h-1.2zM431.9 142.9h1.2v1.2h-1.2zM426.9 141.9h1.2v1.2h-1.2zM420.9 145.9h1.2v1.2h-1.2zM450.9 152.9h1.2v1.2h-1.2zM455.9 153.9h1.2v1.2h-1.2zM443.9 158.9h1.2v1.2h-1.2zM447.9 175.9h1.2v1.2h-1.2zM440.9 235.9h1.2v1.2h-1.2zM433.9 261.9h1.2v1.2h-1.2z" fill="#000"/>
</g>
<line x1="41.5" y1="172.5" x2="256.5" y2="172.5" stroke="#c0c0c0" stroke-width="0.6" stroke-dasharray="1.6 2.2"/>
<line x1="314.5" y1="122.7" x2="529.5" y2="122.7" stroke="#c0c0c0" stroke-width="0.6" stroke-dasharray="1.6 2.2"/></svg></body></html>
